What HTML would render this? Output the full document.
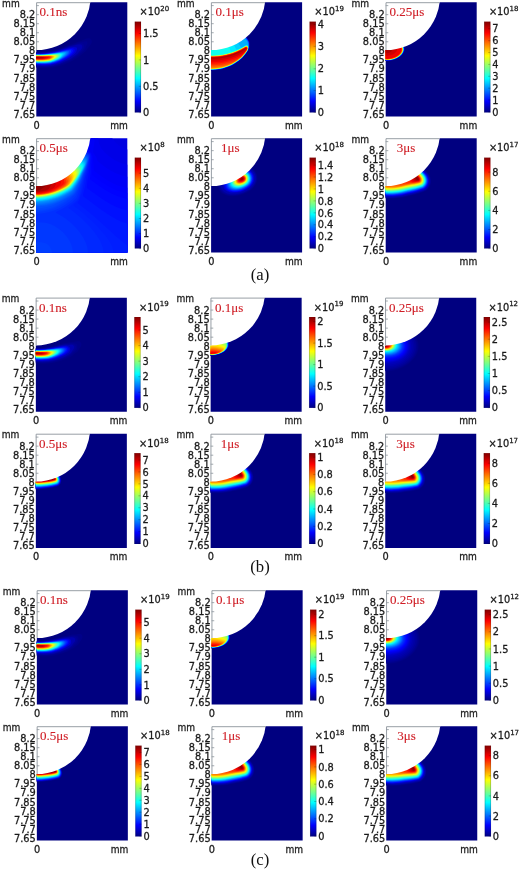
<!DOCTYPE html>
<html><head><meta charset="utf-8"><title>figure</title>
<style>html,body{margin:0;padding:0;background:#fff}svg{display:block}text{font-family:"DejaVu Sans","Liberation Sans",sans-serif;font-size:9.8px;fill:#1a1a1a;stroke:#1a1a1a;stroke-width:0.28px}text.t{font-family:"Liberation Serif",serif;font-size:12.3px;fill:#d01f27;stroke:#d01f27;stroke-width:0.12px}text.c{font-family:"Liberation Serif",serif;font-size:16.7px;fill:#111;stroke:none}</style></head><body>
<svg width="520" height="869" viewBox="0 0 520 869">
<defs>
<linearGradient id="cb" x1="0" y1="1" x2="0" y2="0"><stop offset="0.0000" stop-color="#000080"/><stop offset="0.0312" stop-color="#00009f"/><stop offset="0.0625" stop-color="#0000bf"/><stop offset="0.0938" stop-color="#0000df"/><stop offset="0.1250" stop-color="#0000ff"/><stop offset="0.1562" stop-color="#0020ff"/><stop offset="0.1875" stop-color="#0040ff"/><stop offset="0.2188" stop-color="#0060ff"/><stop offset="0.2500" stop-color="#0080ff"/><stop offset="0.2812" stop-color="#009fff"/><stop offset="0.3125" stop-color="#00bfff"/><stop offset="0.3438" stop-color="#00dfff"/><stop offset="0.3750" stop-color="#00ffff"/><stop offset="0.4062" stop-color="#20ffdf"/><stop offset="0.4375" stop-color="#40ffbf"/><stop offset="0.4688" stop-color="#60ff9f"/><stop offset="0.5000" stop-color="#80ff80"/><stop offset="0.5312" stop-color="#9fff60"/><stop offset="0.5625" stop-color="#bfff40"/><stop offset="0.5938" stop-color="#dfff20"/><stop offset="0.6250" stop-color="#ffff00"/><stop offset="0.6562" stop-color="#ffdf00"/><stop offset="0.6875" stop-color="#ffbf00"/><stop offset="0.7188" stop-color="#ff9f00"/><stop offset="0.7500" stop-color="#ff8000"/><stop offset="0.7812" stop-color="#ff6000"/><stop offset="0.8125" stop-color="#ff4000"/><stop offset="0.8438" stop-color="#ff2000"/><stop offset="0.8750" stop-color="#ff0000"/><stop offset="0.9062" stop-color="#df0000"/><stop offset="0.9375" stop-color="#bf0000"/><stop offset="0.9688" stop-color="#9f0000"/><stop offset="1.0000" stop-color="#800000"/></linearGradient>
<clipPath id="cp2"><rect x="-1" y="-1" width="92" height="115.4"/></clipPath>
<clipPath id="cp"><rect x="0" y="0.3" width="91" height="114.1"/></clipPath>
<g id="f00">
<rect x="-1" y="-1" width="93" height="116.4" fill="#000080"/>
<path fill="#000089" d="M55.2,38 55.4,38.8 55.5,39.8 55.3,40.8 54.7,42 53.6,43.8 51.5,46.2 50.4,48 49.3,49.2 47.2,51.1 42,55.2 38,57.7 34.5,59.6 28,62.4 25.2,63.4 21,64.6 16.5,65.6 12.2,66 8,66.2 4.5,66.1 0,65.8 -2,65.8 -2,50.1 3.2,50.1 8,49.8 14.2,48.8 18.5,47.8 22.7,46.5 28.3,44.5 31.8,43.1 36.3,41.8 41,39.9 44.5,38.9 48.8,37.1 51.2,36.3 52.8,36.2 53.8,36.4 54.5,37Z"/>
<path fill="#000091" d="M51,40 51.2,41 51.1,41.8 50.8,42.5 49.8,44.4 48.9,46.8 48.2,47.8 47.4,48.8 45.8,50.2 43.9,51.8 42.3,53.2 41,54.3 36.2,57.3 32.8,59.2 27.2,61.6 24.5,62.6 20.2,63.9 16.2,64.7 12.5,65.1 7.8,65.4 4.8,65.3 0,65 -2,65 -2,50.5 3.2,50.5 7.6,50.2 11.3,49.8 15.5,49 18.8,48.2 22.4,47.2 32.5,43.7 36.8,42.5 40,41.3 42.2,40.6 45.5,40.1 48,39.4 49.2,39.2 50.2,39.3 50.8,39.6Z"/>
<path fill="#00009a" d="M47.5,43 47.8,44 47.8,45 47.5,46 47,47 45.6,48.8 43.1,51 41.4,52.8 38.2,55.1 35,57.1 32.2,58.6 27.2,60.8 24,62.1 20.8,63.1 17.5,63.9 14.5,64.4 11,64.7 7.2,64.8 -2,64.4 -2,50.8 3.2,50.8 7.5,50.6 10.2,50.2 16.1,49.2 22.1,47.8 32.8,44.1 37.2,43.1 40.8,41.9 43,41.4 44.8,41.3 46,41.5 46.9,42Z"/>
<path fill="#0000af" d="M45.7,43.8 45.9,44.5 45.9,45.2 45.7,46 45.2,47 44,48.5 42.5,50 41.4,51.5 40.2,52.6 37.2,54.8 34,56.9 31.8,58.1 26.2,60.6 23.5,61.7 20.2,62.6 17,63.4 14.2,63.9 10.8,64.2 7,64.3 -2,63.9 -2,51 3.2,51.1 7.5,50.8 10.4,50.5 16.4,49.5 19.7,48.8 23.4,47.8 33,44.6 35.2,44 37.8,43.6 40.5,42.8 42,42.5 43.5,42.4 44.5,42.6 45.2,43Z"/>
<path fill="#0000cf" d="M40.6,46 40.7,46.5 40.4,48.8 40.1,49.5 39.1,51 37.6,52.5 35.5,54.1 32.5,56.1 26.8,59.1 24.2,60.2 21.8,61.1 19,61.9 15.8,62.6 13.5,63 10.2,63.2 6.8,63.4 -2,63 -2,51.5 3,51.5 6.8,51.4 10.6,51 15.6,50.2 19.3,49.5 22.4,48.8 33,45.6 35.5,45.2 37.2,45.1 39.5,45.3 40.2,45.6Z"/>
<path fill="#0000ef" d="M38.3,47.5 38.5,48 38.4,48.8 38.2,49.5 37.7,50.2 36.2,52 33.9,54 31.8,55.5 29.2,56.9 25.2,58.9 22.5,60.1 20,60.9 17.2,61.6 14.8,62.2 12.2,62.5 6.5,62.8 -2,62.4 -2,51.8 2.8,51.9 6.2,51.8 9.3,51.5 14.8,50.8 19,50 22.4,49.2 32.5,46.6 34.5,46.2 36,46.1 37.2,46.4 37.9,46.8Z"/>
<path fill="#0010ff" d="M36.4,48 36.6,48.5 36.5,49.2 35.9,50.5 34.9,51.8 32.8,53.8 30.5,55.3 26,57.8 24,58.8 22,59.6 19.8,60.4 17,61.2 14.8,61.7 12.2,62 6.5,62.3 -2,62 -2,52 2.8,52.1 6,52 9.4,51.8 13.3,51.2 19.4,50.2 23.8,49.3 29.2,47.9 33.5,47.1 34.5,47 35.5,47.2 36.1,47.5Z"/>
<path fill="#0030ff" d="M34.7,48.8 34.7,49.2 34.7,49.8 34.2,50.8 32.9,52.5 31.5,53.8 29.5,55.1 25.2,57.6 23,58.7 20.8,59.6 18.2,60.4 15.5,61.1 14,61.4 11.2,61.7 6,61.9 -2,61.6 -2,52.2 4.8,52.2 8.5,52 11.2,51.8 18.2,50.8 23.8,49.7 29,48.4 32.2,48 33.2,48 34,48.1 34.5,48.4Z"/>
<path fill="#0050ff" d="M32.9,49.5 33,50 32.9,50.5 32.3,51.8 31.5,52.8 30,54 28.2,55.2 24.2,57.6 22,58.7 19.5,59.6 17,60.3 14.8,60.9 10.2,61.4 5.5,61.6 -2,61.3 -2,52.3 4.5,52.4 8,52.3 10.7,52 18.1,51 24,49.9 27.5,49.2 30.2,48.8 31.2,48.8 32.2,48.9 32.8,49.2Z"/>
<path fill="#0070ff" d="M31.5,50.2 31.5,50.8 31.4,51.2 30.8,52.2 29.9,53.2 28.3,54.5 25.2,56.5 23.5,57.5 21.2,58.5 18.5,59.5 14.2,60.6 9.5,61.2 5.2,61.3 -2,61 -2,52.5 4.5,52.6 10,52.2 17.9,51.2 26.8,49.7 29,49.4 30,49.4 30.8,49.5 31.2,49.8Z"/>
<path fill="#008fff" d="M30.1,50.8 30.1,51.2 30,51.8 29.1,53 27.9,54 25.2,56 23.8,56.9 22,57.8 17.8,59.4 14,60.4 9,60.9 5,61 -2,60.7 -2,52.6 4,52.7 9,52.5 17.5,51.5 27.8,50 28.8,50 29.5,50.1 30,50.4Z"/>
<path fill="#00afff" d="M28.8,51.2 28.7,52 28,53 27,54 24.5,56 23,56.9 21.4,57.8 19.2,58.6 17,59.4 13.8,60.2 8.5,60.7 4.8,60.8 -2,60.5 -2,52.7 4,52.8 8.8,52.6 14.9,52 22.5,51 26.8,50.5 27.5,50.5 28.2,50.7 28.7,51Z"/>
<path fill="#00cfff" d="M27.4,51.8 27.3,52.5 26.7,53.2 25,55 23.8,56 22.2,56.9 20.6,57.8 18.5,58.6 16.2,59.3 13.5,59.9 8,60.5 4.5,60.5 -2,60.3 -2,52.8 3.8,53 8.2,52.8 16,52 22.2,51.2 26.2,51.1 27,51.2 27.4,51.5Z"/>
<path fill="#00efff" d="M26.1,52.2 25.9,53 25.1,54.2 24.1,55.2 23.1,56 21.4,57 19.5,57.9 17.5,58.6 15.5,59.3 14,59.6 12.2,59.9 7.2,60.3 4,60.3 -2,60.1 -2,53 3.5,53.1 8,52.9 23,51.4 24.5,51.5 25.5,51.7 26,52Z"/>
<path fill="#10ffef" d="M24.9,52.5 24.9,53.2 24.4,54.2 23.7,55 22.4,56 21,56.8 19,57.8 17,58.5 15,59.2 12,59.7 7.2,60.1 4,60.1 -2,59.9 -2,53.1 3.8,53.2 8,53.1 22.5,51.7 23.5,51.8 24.2,51.9 24.8,52.2Z"/>
<path fill="#30ffcf" d="M24.1,52.8 24.1,53.5 23.7,54.2 23,55 21.8,56 20.5,56.8 18.5,57.7 14.8,59 11.2,59.6 7,59.9 3.8,59.9 -2,59.7 -2,53.1 3.5,53.3 7.5,53.2 21.8,52 22.8,52.1 23.5,52.2 24,52.5Z"/>
<path fill="#50ffaf" d="M23.3,53 23.3,53.8 22.8,54.5 22.1,55.2 21.1,56 19.8,56.8 18,57.6 14.5,58.8 11.2,59.4 7,59.7 3.8,59.7 -2,59.5 -2,53.2 3.5,53.4 7.5,53.3 21,52.3 22.8,52.5 23.2,52.8Z"/>
<path fill="#70ff8f" d="M22.5,53.2 22.5,53.8 22.2,54.5 21.5,55.2 20.5,56 17.6,57.5 14.2,58.7 10.8,59.2 6.8,59.5 3.8,59.5 -2,59.3 -2,53.3 3.2,53.5 7,53.4 20,52.5 21.8,52.7 22.2,52.9Z"/>
<path fill="#8fff70" d="M21.8,53.5 21.7,54 21.3,54.8 19.8,56 17.2,57.4 14,58.5 10.5,59 6.8,59.3 3.8,59.3 -2,59.1 -2,53.4 3.2,53.6 7,53.5 15.2,52.9 19.2,52.8 20.5,52.8 21.2,53 21.6,53.2Z"/>
<path fill="#afff50" d="M21,53.8 20.9,54.2 20.4,55 18.8,56.2 16.3,57.5 13.8,58.4 10.2,58.9 6.8,59.2 3.8,59.2 -2,58.9 -2,53.5 3.2,53.7 6.8,53.6 13.5,53.2 18.2,53 20.2,53.2 20.8,53.4Z"/>
<path fill="#cfff30" d="M20.2,54 20.1,54.5 19.7,55 18.2,56.2 16,57.4 13.5,58.2 10,58.7 6.5,59 3.5,59 -2,58.8 -2,53.6 5.8,53.8 9.2,53.6 13.5,53.3 17.5,53.2 19.5,53.4 20,53.6Z"/>
<path fill="#efff10" d="M19.4,54 19.4,54.5 19.1,55 18,56 15.8,57.2 13.5,58 10,58.5 6.5,58.8 3.5,58.8 -2,58.6 -2,53.7 5.5,53.9 9.2,53.7 13.2,53.4 16.5,53.4 18.4,53.5 19.1,53.8Z"/>
<path fill="#ffef00" d="M18.6,54.2 18.6,54.8 18.2,55.2 17,56.2 15,57.2 13.2,57.8 10,58.3 6.5,58.6 3.5,58.6 -2,58.4 -2,53.8 5.5,53.9 9,53.8 13.2,53.5 15.8,53.5 18,53.8 18.5,54Z"/>
<path fill="#ffcf00" d="M17.9,54.5 17.6,55.2 16.4,56.2 14.4,57.2 12.8,57.7 9.5,58.2 6.5,58.4 3.5,58.4 -2,58.3 -2,53.9 5.2,54 9,54 13,53.7 15.2,53.7 17.2,53.9 17.8,54.2Z"/>
<path fill="#ffaf00" d="M-2,58.1 -2,54 5.2,54.1 14.2,53.8 16.3,54 16.9,54.2 17.1,54.5 17.2,54.8 16.9,55.2 15.8,56.2 14,57.1 12.5,57.5 9.2,58 6.5,58.2 3.5,58.3Z"/>
<path fill="#ff8f00" d="M16.4,54.8 16.4,55 16.1,55.5 14.7,56.5 13.5,57 11.2,57.5 8.5,57.9 6,58.1 -2,57.9 -2,54 5,54.2 13.8,54 15.9,54.2 16.3,54.5Z"/>
<path fill="#ff7000" d="M-2,57.7 -2,54.1 5,54.4 13.2,54.1 14.8,54.3 15.4,54.5 15.7,54.8 15.7,55 15.5,55.5 14.9,56 14.1,56.5 13,56.9 11,57.3 8.2,57.7 6,57.9Z"/>
<path fill="#ff5000" d="M-2,57.5 -2,54.2 4.8,54.5 13,54.3 14.4,54.5 14.9,54.8 15,55 14.9,55.2 14.6,55.8 13.5,56.4 12.5,56.8 9.5,57.3 5.5,57.7Z"/>
<path fill="#ff3000" d="M-2,57.3 -2,54.3 4.5,54.6 13,54.5 14,54.8 14.2,55 14.2,55.2 13.9,55.8 13.1,56.2 11.1,56.8 8.2,57.2 6.5,57.4 4.5,57.5Z"/>
<path fill="#ff1000" d="M-2,57.1 -2,54.5 4,54.7 12.3,54.8 13.2,54.9 13.5,55.2 13.4,55.5 13.1,55.8 11.7,56.2 9.6,56.8 7,57.1 3.8,57.3Z"/>
<path fill="#ef0000" d="M-2,56.9 -2,54.6 10.3,55 11.8,55.2 11.9,55.5 11.5,55.8 10.1,56.2 6.5,56.9 3.2,57Z"/>
<path fill="#cf0000" d="M-2,56.7 -2,54.7 6.8,55.1 8.8,55.2 9.7,55.5 9.6,55.8 9.1,56 7.2,56.5 6.2,56.6 3,56.8Z"/>
<path fill="#af0000" d="M-2,54.9 6,55.3 7.2,55.5 7.5,55.8 7.1,56 6.5,56.2 5.2,56.3 2.2,56.4 -2,56.4Z"/>
<path fill="#8f0000" d="M-2,55.2 0.4,55.2 2.2,55.5 3,55.8 1,56 -2,55.9Z"/>
</g>
<g id="f01">
<rect x="-1" y="-1" width="93" height="116.4" fill="#000080"/>
<path fill="#000089" d="M4.9,-2 5,-1.7 36.1,35.5 37.4,37.5 38.5,39.8 38.7,40.8 38.9,43.5 38.1,46.5 37.1,49 35.6,51.2 32.6,55 31,56.7 29,58.4 26,60.6 22.5,62.9 20.8,63.8 17.8,65.1 14.2,66.4 11,67.4 8,67.9 3.8,68.4 0.2,68.6 -2,68.6 -2,-2Z"/>
<path fill="#000091" d="M4.7,-2 5,-1.5 36.4,36.2 37.6,38.2 38.4,40 38.6,41.8 38.7,43.8 37.9,46.8 36.8,49.2 34.9,52 32.6,54.8 31,56.5 28.8,58.4 26,60.4 22.2,62.9 20.8,63.7 17.2,65.1 14.5,66.1 11.2,67.1 8.5,67.6 4.5,68.1 0.8,68.4 -2,68.4 -2,-2Z"/>
<path fill="#00009a" d="M4.6,-2 4.8,-1.6 36.1,36 37.3,38 38.2,39.8 38.4,41 38.6,43.5 37.8,46.5 36.8,49 35.1,51.5 33.1,54 31.4,56 30.2,57.1 26.2,60.1 22.8,62.4 21,63.4 18.2,64.6 14.2,66.1 10.8,67.1 7.8,67.6 3.8,68.1 0.2,68.3 -2,68.3 -2,-2Z"/>
<path fill="#0000af" d="M-2,-2 4.5,-2 4.7,-1.5 35.9,36 36.9,37.5 37.9,39.5 38.3,40.8 38.5,42.5 38.4,44 37.7,46.8 36.9,48.8 36.1,50 33.6,53.2 31,56.3 28.8,58.2 25.8,60.4 23,62.2 20.8,63.5 16.8,65.1 13,66.4 11.2,66.9 8.8,67.4 5,67.9 1.2,68.2 -2,68.2Z"/>
<path fill="#0000cf" d="M4.2,-2 4.4,-1.5 36.2,36.8 37.1,38.2 37.9,40 38.1,41.2 38.2,43.5 37.6,46.2 36.7,48.8 35.2,51 32.4,54.5 30.8,56.3 28.8,57.9 25.8,60.1 22.2,62.4 20.5,63.4 17.5,64.6 14,65.9 10.8,66.9 7.5,67.4 3.5,67.8 0.2,68 -2,68 -2,-2Z"/>
<path fill="#0000ef" d="M4.1,-2 4.2,-1.5 35.9,36.8 37,38.5 37.8,40.2 38,42 38.1,43.5 37.4,46.8 36.4,49 34.6,51.5 32.6,54 30.8,56.1 29.2,57.4 26.2,59.6 22.5,62.1 20.8,63.1 17.8,64.4 14.2,65.7 11,66.7 8.2,67.2 4.2,67.6 0.8,67.9 -2,67.9 -2,-2Z"/>
<path fill="#0010ff" d="M3.9,-2 4.1,-1.5 35.9,37 36.9,38.5 37.6,40 37.8,41.2 37.9,43.5 37.3,46.5 36.6,48.5 35.6,50 32.9,53.5 31,55.8 29.8,56.9 25.8,59.9 22.2,62.1 20.5,63.1 17.5,64.4 14,65.6 10.8,66.6 7.8,67.1 3.8,67.6 0.2,67.8 -2,67.8 -2,-2Z"/>
<path fill="#0030ff" d="M3.8,-2 3.9,-1.5 35.8,37.1 36.8,38.5 37.5,40.1 37.7,41.2 37.8,43.2 37.4,46 36.6,48.2 35.4,50.2 32.8,53.5 30.9,55.8 29.5,57 26,59.6 22.5,61.9 20.8,62.9 17.2,64.4 13.8,65.6 10.5,66.6 4.5,67.4 0.8,67.7 -2,67.7 -2,-2Z"/>
<path fill="#0050ff" d="M3.7,-2 3.8,-1.5 35.8,37.3 36.8,38.8 37.3,40 37.5,41 37.7,43.2 37.3,46 36.6,48 35.6,49.8 33.4,52.8 31.2,55.2 30,56.5 26.5,59.1 22.8,61.7 20.8,62.8 18.2,63.9 14.2,65.4 11,66.4 8.2,66.9 4.2,67.4 0.5,67.6 -2,67.6 -2,-2Z"/>
<path fill="#0070ff" d="M3.5,-2 3.6,-1.5 4.2,-0.8 35.8,37.6 36.8,39.2 37.2,40.3 37.5,42.2 37.5,43.4 37.2,46.2 36.3,48.5 35.4,50 32.9,53.2 30.9,55.5 29.8,56.6 26,59.4 22.2,61.9 20.5,62.9 17.5,64.1 14,65.4 10.8,66.4 7.8,66.9 4,67.3 0.5,67.6 -2,67.6 -2,-2Z"/>
<path fill="#008fff" d="M3.3,-2 3.6,-1.2 36,38.4 36.8,39.6 37.1,40.8 37.3,42.8 37.3,45.2 37.1,46.2 36.8,47.2 35.8,49.2 33.4,52.5 30.8,55.5 29.2,56.9 26.8,58.8 23.8,60.9 21.2,62.4 19.2,63.4 16,64.6 13,65.7 10.5,66.4 7.2,66.9 3.5,67.3 0.5,67.5 -2,67.5 -2,-2Z"/>
<path fill="#00afff" d="M3.1,-2 3.2,-1.5 3.7,-0.8 8.4,5.2 35.8,39 36.5,40.3 37.1,44 37.2,45.5 36.8,47 35.9,49 33.3,52.5 30.8,55.5 29.5,56.6 26.5,58.9 24,60.6 21.2,62.3 19,63.4 16,64.6 13,65.6 10.5,66.3 7.2,66.8 4.2,67.2 0.8,67.4 -2,67.4 -2,-2Z"/>
<path fill="#00cfff" d="M-2,-2 2.7,-2 3,-1 29.5,45 29.8,45.2 30.5,45.2 31.8,44.8 34.5,43.3 35.2,43.1 35.8,43.1 36.2,43.2 36.8,43.6 37,44.1 37.1,45 36.9,46.8 36.4,48 35.9,49 33.7,52 31.1,55 30,56.1 27.5,58.1 24.8,60.1 22,61.8 20.5,62.7 17.8,63.8 14.2,65.1 11,66.1 6.2,66.9 0.5,67.4 -2,67.4Z"/>
<path fill="#00efff" d="M-2,-2 2.1,-2 2.4,-1 24.8,46.8 25.1,47.5 25.5,47.6 26.3,47.5 28.5,46.8 31.1,45.5 34,43.9 35.2,43.4 36,43.4 36.5,43.7 36.9,44.2 37,45 37,45.8 36.8,46.8 36,48.8 33.6,52 31.1,55 30,56.1 27.8,57.9 25,59.8 22.2,61.6 20.5,62.6 17.5,63.9 14.2,65.1 11,66.1 6,66.9 0.2,67.3 -2,67.3Z"/>
<path fill="#10ffef" d="M-2,-2 1.4,-2 1.6,-1 5,8.2 19.6,49.5 20.2,49.7 21.6,49.5 25.6,48.2 29.6,46.5 34.2,43.9 35,43.6 35.8,43.6 36.5,43.9 36.9,44.5 37,45.2 36.9,46 36.7,47 35.9,48.8 33.5,52 30.8,55.2 29.7,56.2 27,58.4 24.5,60.1 21.8,61.8 20.2,62.7 17.5,63.8 14,65.1 11,66 6,66.8 0.2,67.3 -2,67.3Z"/>
<path fill="#30ffcf" d="M36.7,44.5 36.9,45.2 36.8,46.2 36.6,47.2 36,48.5 34.1,51.2 31.4,54.5 30,55.9 27.5,57.9 24.5,60 21.2,62.1 19.8,62.8 16.2,64.2 13.2,65.3 10.5,66.1 7.5,66.6 3.8,67 0.5,67.2 -2,67.2 -2,53.2 3.3,53.2 7.2,53 11,52.5 14.8,51.8 20.6,50.2 24.9,48.8 29.4,46.8 34.8,43.8 35.5,43.7 36,43.8 36.5,44.1Z"/>
<path fill="#50ffaf" d="M36.6,44.5 36.8,45.2 36.8,46.2 36.5,47.2 36,48.4 34.2,50.9 31.5,54.3 30,55.9 27.6,57.8 24.5,60 21.2,62 19.8,62.8 16,64.2 13.1,65.2 10.5,66 7.5,66.5 4,66.9 0.5,67.1 -2,67.1 -2,53.5 3.5,53.5 7.4,53.2 11.1,52.8 14.9,52 20.5,50.5 25.3,48.8 29.7,46.8 34.8,44 35.2,43.9 35.8,43.9 36.2,44.1Z"/>
<path fill="#70ff8f" d="M36.5,44.5 36.8,45.2 36.8,46 36.5,47 36,48.2 34.3,50.8 31.5,54.2 30,55.8 27.5,57.8 24.4,60 21.2,62 19.1,63 15.9,64.2 12.9,65.2 10.5,65.9 7.1,66.5 4.2,66.8 0.8,67.1 -2,67.1 -2,53.7 2.5,53.7 6.5,53.5 10.7,53 15.7,52 21,50.5 25.7,48.8 30,46.8 34.8,44.1 35.2,44 35.8,44 36.2,44.2Z"/>
<path fill="#8fff70" d="M36.5,44.7 36.7,45.5 36.7,46.2 36.4,47.2 35.8,48.5 33.8,51.4 31,54.7 29.7,56 26.8,58.2 24.2,60 21.1,62 18.9,63 15.7,64.2 10.5,65.9 8.2,66.3 4.2,66.8 0.8,67 -2,67 -2,53.8 3,53.8 7.2,53.6 11.5,53 15.2,52.2 20.6,50.8 25.4,49 29.7,47 34.8,44.2 35.2,44.1 35.8,44.1 36.2,44.4Z"/>
<path fill="#afff50" d="M36.4,44.8 36.7,45.5 36.6,46.2 36.4,47.2 35.8,48.5 34,51 31.2,54.3 29.9,55.8 27.7,57.5 24.5,59.8 21.4,61.8 19.9,62.5 16.9,63.8 14.1,64.8 10.8,65.8 7.9,66.2 3.6,66.8 0.2,67 -2,66.9 -2,53.9 2.5,54 6.5,53.8 10.7,53.2 15.7,52.2 20.9,50.8 25.6,49 29.9,47 34.8,44.3 35.2,44.2 35.8,44.2Z"/>
<path fill="#cfff30" d="M36.4,45 36.6,45.8 36.5,46.5 36.2,47.4 35.8,48.5 33.8,51.3 30.8,54.8 29.5,56 26.9,58 24.1,60 21.2,61.8 19.8,62.5 16,64 13.1,65 10.5,65.8 7.4,66.2 3.5,66.7 0.5,66.9 -2,66.9 -2,54 3,54.1 7,53.8 11.3,53.2 15.1,52.5 20.5,51 25.2,49.3 29.6,47.2 34.8,44.4 35.2,44.3 35.8,44.3 36.2,44.7Z"/>
<path fill="#efff10" d="M36.3,45 36.5,45.5 36.5,46.4 36.3,47.2 35.8,48.4 33.5,51.5 30.8,54.7 29.4,56 26.5,58.2 23.9,60 21.1,61.8 19,62.8 15.8,64 12,65.2 10.1,65.8 4.5,66.5 1,66.8 -2,66.8 -2,54.1 2.8,54.2 7,53.9 11.5,53.3 15.5,52.5 20.8,51 25.5,49.2 29.8,47.3 34.8,44.5 35.2,44.4 35.8,44.5Z"/>
<path fill="#ffef00" d="M36.2,45 36.4,45.5 36.5,46.2 36.2,47.1 35.8,48.3 33.8,51.1 30.8,54.7 29.6,55.8 26.7,58 23.8,60 21,61.8 19.4,62.5 16.3,63.8 10.8,65.5 8,66 3.8,66.5 0.2,66.7 -2,66.7 -2,54.2 2.8,54.2 7,54 11,53.5 15.8,52.5 21,51 25.5,49.3 29.8,47.3 34.8,44.6 35.5,44.5 36,44.7Z"/>
<path fill="#ffcf00" d="M36.2,45.2 36.4,46 36.3,46.8 35.5,48.6 33,51.9 30.5,54.8 29.2,56 26.3,58.2 23.3,60.2 20.8,61.8 19.2,62.5 16,63.8 13.1,64.8 10.4,65.5 5.3,66.2 1.5,66.5 -2,66.6 -2,54.3 3,54.3 7,54.1 11.2,53.5 15.2,52.8 20.5,51.3 25.2,49.5 29.5,47.6 34.8,44.6 35.5,44.6 36,44.9Z"/>
<path fill="#ffaf00" d="M36.1,45.2 36.3,46 36.3,46.8 35.5,48.5 33.2,51.5 30.5,54.7 29.4,55.8 26.5,58 23.5,60 21.1,61.5 19.5,62.2 16.4,63.5 11,65.2 8.2,65.8 4,66.2 0.2,66.5 -2,66.5 -2,54.4 3,54.4 7,54.2 11.2,53.6 15.5,52.8 20.5,51.4 25.2,49.6 29.5,47.7 34.8,44.7 35.5,44.7 36,45Z"/>
<path fill="#ff8f00" d="M36,45.2 36.2,45.8 36.3,46.5 36,47.4 35.5,48.4 33,51.8 30.5,54.6 29,56 26,58.2 23.7,59.8 20.8,61.5 19.2,62.2 16,63.5 13,64.5 10.2,65.2 4.6,66 1,66.2 -2,66.3 -2,54.5 2.8,54.5 7,54.3 11.5,53.7 15.8,52.8 20.8,51.4 25.5,49.6 29.8,47.6 34.8,44.8 35.5,44.8Z"/>
<path fill="#ff7000" d="M36,45.4 36.2,46 36.2,46.5 36,47.2 35.5,48.3 33.5,51 30.2,54.8 28.5,56.2 25.8,58.2 23.5,59.8 20.5,61.5 16.1,63.2 11,64.8 5.7,65.5 1.9,65.8 -2,65.8 -2,54.6 3,54.6 7.2,54.3 11.2,53.8 16,52.9 21,51.4 25.8,49.6 30,47.6 34.8,44.9 35.5,44.9Z"/>
<path fill="#ff5000" d="M36,45.6 36.1,46.2 36,47 35.2,48.5 33,51.5 30.2,54.6 29,55.8 26.3,57.8 23.6,59.5 20.9,61 19.1,61.8 16.8,62.5 14,63.2 11,63.7 7.8,64.1 4.5,64.4 -2,64.5 -2,54.7 3,54.7 7.2,54.4 11.5,53.9 15.5,53.1 20.8,51.6 25.2,49.9 29.8,47.8 34.8,45 35.2,45 35.5,45.1Z"/>
<path fill="#ff3000" d="M35.9,45.8 36,46.2 36,46.8 35.2,48.4 33.2,51 30.5,54.2 29,55.5 27,57 25,58.2 23.1,59.2 21.2,60 17.8,61 14.4,61.8 11,62.4 8,62.8 4.8,63 1.5,63.2 -2,63.2 -2,54.8 2.8,54.8 7,54.6 11,54.1 15.8,53.1 21,51.6 25.5,49.9 29.8,47.9 34.8,45.1 35.2,45.1 35.5,45.2Z"/>
<path fill="#ff1000" d="M35.8,45.8 35.9,46.2 35.9,46.8 35.2,48.2 33.8,50.2 32.2,52 29.5,54.8 27.6,56 26,56.8 22.8,58 19.2,59.1 15.8,60 12.2,60.7 8.8,61.3 5.2,61.6 2,61.7 -2,61.7 -2,54.9 3.2,54.9 7.5,54.6 11.5,54.1 16.2,53.1 21.2,51.7 26,49.8 30,47.9 34.8,45.3 35.3,45.2Z"/>
<path fill="#ef0000" d="M35.7,46 35.8,46.8 35.5,47.5 35,48.3 33.2,50.5 31.2,52.6 30.2,53.3 29.2,53.8 24.2,56 21.2,57 18,58 14.8,58.8 11.5,59.4 8.2,59.8 5,60.1 1.8,60.2 -2,60.2 -2,55.1 2.8,55.1 6.8,54.9 11,54.3 15.8,53.4 21,51.9 25.8,50.1 30,48.1 34.5,45.5 35,45.4 35.2,45.4Z"/>
<path fill="#cf0000" d="M35.5,46.1 35.6,46.5 35.5,47 35,47.9 33.8,49.4 32.5,50.4 30.2,51.7 27.4,53 24.5,54.2 21.7,55.2 16,56.9 10.1,58 4.2,58.6 -2,58.6 -2,55.2 3.8,55.2 8,54.9 12,54.3 16.5,53.4 20.8,52.2 25.5,50.4 30.2,48.2 34.5,45.7 35,45.6 35.2,45.7Z"/>
<path fill="#af0000" d="M35.1,46.2 35.1,46.5 35,46.9 34.5,47.3 31.7,49 28.8,50.5 23.6,52.8 18.3,54.5 13,55.7 8.2,56.5 3.5,56.8 -2,56.8 -2,55.5 3,55.6 8.8,55.2 13.5,54.4 18.8,53.1 22.5,51.9 25.8,50.6 30,48.6 34.8,46Z"/>
</g>
<g id="f02">
<rect x="-1" y="-1" width="93" height="116.4" fill="#000080"/>
<path fill="#000089" d="M-2,-2 2.7,-2 3,-0.8 8.2,14.5 18.9,44.8 19.2,45.8 19.3,46.8 19.1,48.8 18.7,50 18.2,51 16.7,53 15.5,54.2 14.2,55.2 11.8,56.6 8.8,57.9 5.5,58.7 1.8,59.1 -2,59.1Z"/>
<path fill="#000091" d="M-2,-2 2.6,-2 2.8,-1.1 8,14.2 18.6,44.5 19.1,46.5 19.1,47.5 18.9,48.8 18.1,50.8 16.7,52.8 14.8,54.6 13.2,55.6 12,56.3 9,57.6 6,58.4 2.5,58.9 -2,59Z"/>
<path fill="#00009a" d="M-2,-2 2.5,-2 2.8,-0.9 8.5,16 18.4,44.2 18.8,45.8 18.9,46.5 18.9,47.8 18.7,49 17.8,51 17.2,52 16.3,53 14.2,54.8 11.8,56.3 10,57.1 8.5,57.7 5.5,58.4 1.8,58.8 -2,58.9Z"/>
<path fill="#0000af" d="M-2,-2 2.4,-2 2.5,-1.4 6.2,9.7 18.4,44.5 18.8,46.5 18.8,47.5 18.6,48.8 17.8,50.8 16.4,52.8 15.2,53.9 14.2,54.7 12,56.1 9,57.4 6.2,58.2 2.8,58.7 -2,58.7Z"/>
<path fill="#0000cf" d="M-2,-2 2.2,-2 2.5,-0.9 6.5,11 18.4,45.5 18.6,46.8 18.6,47.8 18.4,48.8 17.9,50 17.4,51 15.9,53 14,54.6 11.5,56.1 8.5,57.4 5.5,58.1 1.8,58.6 -2,58.6Z"/>
<path fill="#0000ef" d="M-2,-2 2.1,-2 2.5,-0.5 6.8,12.1 17.9,44.5 18.4,46.5 18.4,47.8 18.2,48.8 17.9,49.8 17.4,50.8 15.9,52.8 14,54.4 11.8,55.9 8.8,57.1 6,57.9 2.5,58.4 -2,58.5Z"/>
<path fill="#0010ff" d="M-2,-2 2,-2 2.2,-1.1 6.5,11.6 17.8,44.8 18.1,45.8 18.3,46.8 18.2,47.8 18.1,48.8 17.6,50 17.1,51 16.4,52 15.5,53 13.5,54.7 11,56.1 8.5,57.1 5.5,57.9 2,58.3 -2,58.4Z"/>
<path fill="#0030ff" d="M-2,-2 2,-2 2.2,-0.8 6.2,11.1 17.6,44.5 18.1,46.5 18.1,47.8 17.9,48.8 17.6,49.8 17.1,50.8 16.4,51.8 15.6,52.8 13.8,54.4 11.8,55.6 9,56.9 6.2,57.7 2.8,58.2 -2,58.3Z"/>
<path fill="#0050ff" d="M-2,-2 1.9,-2 2.2,-0.7 17.6,44.8 17.9,45.8 18,46.8 18,47.8 17.8,48.8 17.4,50 16.8,51 15.5,52.8 13.5,54.5 11.2,55.8 8.8,56.9 6,57.6 2.5,58.1 -2,58.2Z"/>
<path fill="#0070ff" d="M-2,-2 1.9,-2 2,-1.2 17.6,45 17.9,46.8 17.9,47.8 17.7,48.8 17.4,49.8 16.9,50.8 16.2,51.8 15.4,52.8 13.5,54.4 11,55.9 8.5,56.9 5.8,57.6 2.2,58.1 -2,58.2Z"/>
<path fill="#008fff" d="M-2,-2 1.8,-2 2,-1.1 17.4,44.8 17.7,45.8 17.8,46.8 17.8,47.8 17.6,48.8 17.3,49.8 16.8,50.8 16.1,51.8 15.3,52.8 13.2,54.5 10.8,55.9 8.2,56.9 5.2,57.7 2,58.1 -2,58.1Z"/>
<path fill="#00afff" d="M-2,-2 1.8,-2 2,-0.9 17.4,45 17.7,46.8 17.7,47.8 17.5,48.8 17.2,49.8 16.7,50.8 15.4,52.5 13.5,54.2 11.2,55.6 8.2,56.8 5.2,57.6 2.5,58 -2,58Z"/>
<path fill="#00cfff" d="M-2,-2 1.7,-2 2,-0.8 17.2,44.8 17.6,46.8 17.6,47.8 17.4,48.8 17.1,49.8 16.6,50.8 15.2,52.6 13.2,54.3 11,55.7 8,56.9 5,57.6 2.2,57.9 -2,58Z"/>
<path fill="#00efff" d="M-2,-2 1.7,-2 1.8,-1.5 17.1,44.8 17.6,46.8 17.5,47.8 17.4,48.8 17,49.8 16.5,50.8 15.2,52.5 13.2,54.2 11,55.6 8.5,56.6 5.8,57.4 2.2,57.9 -2,57.9Z"/>
<path fill="#10ffef" d="M-2,-2 1.6,-2 2,-0.5 17.1,45 17.5,46.8 17.5,47.8 17.3,48.8 16.9,49.8 16.4,50.8 15.1,52.5 13.2,54.1 11,55.5 8.2,56.7 5.5,57.4 2.2,57.8 -2,57.9Z"/>
<path fill="#30ffcf" d="M-2,-2 1.6,-2 2,-0.5 16.9,44.8 17.4,46.8 17.4,47.8 17.2,48.8 16.9,49.8 16.4,50.8 15,52.5 13,54.2 10.8,55.6 8,56.7 5.2,57.4 2,57.8 -2,57.8Z"/>
<path fill="#50ffaf" d="M-2,-2 1.5,-2 1.9,-0.5 16.9,45 17.3,46.8 17.3,47.8 17.1,48.8 16.8,49.8 16.3,50.8 14.9,52.5 13,54.2 10.8,55.5 8,56.6 5.2,57.3 2,57.7 -2,57.8Z"/>
<path fill="#70ff8f" d="M-2,-2 1.5,-2 2,-0.2 16.8,45 17.2,46.8 17.2,47.8 17,48.8 16.2,50.6 14.9,52.5 13,54.1 10.7,55.5 8,56.6 5.2,57.3 2,57.7 -2,57.7Z"/>
<path fill="#8fff70" d="M-2,-2 1.5,-2 1.7,-1 16.7,45 17.1,46.8 17,48.5 16.7,49.5 16.2,50.5 15,52.2 13.1,54 10.6,55.5 8.1,56.5 5.2,57.2 2.2,57.6 -2,57.7Z"/>
<path fill="#afff50" d="M-2,-2 1.4,-2 1.6,-1 16.6,44.8 17,46.8 17,47.8 16.9,48.8 16.2,50.5 14.9,52.2 13,54 10.4,55.5 7.9,56.5 5,57.2 2.2,57.6 -2,57.6Z"/>
<path fill="#cfff30" d="M-2,-2 1.4,-2 1.7,-0.8 16.5,44.8 16.9,46.8 16.9,47.8 16.8,48.8 16.1,50.5 14.8,52.3 12.8,54 10.3,55.5 7.8,56.5 4.8,57.2 2.2,57.5 -2,57.6Z"/>
<path fill="#efff10" d="M-2,-2 1.3,-2 1.6,-0.8 16.5,45.1 16.9,46.8 16.7,48.5 16.5,49.5 16,50.5 14.7,52.2 12.7,54 10.2,55.5 7.6,56.5 4.8,57.2 2,57.5 -2,57.5Z"/>
<path fill="#ffef00" d="M-2,-2 1.3,-2 1.7,-0.5 16.6,46 16.8,47 16.7,48 16.5,49 15.8,50.8 15.1,51.8 14.2,52.6 12.3,54.2 10,55.5 7.4,56.5 4.8,57.1 1.8,57.5 -2,57.5Z"/>
<path fill="#ffcf00" d="M-2,-2 1.3,-2 1.6,-0.5 16.5,46 16.7,47 16.5,48.8 15.8,50.6 14.5,52.3 12.5,54 10.4,55.2 8,56.2 5.1,57 2,57.4 -2,57.4Z"/>
<path fill="#ffaf00" d="M-2,-2 1.2,-2 1.4,-1 16,44.5 16.6,46.8 16.5,48.5 16.2,49.3 15.8,50.4 14.5,52.2 12.7,53.8 10.3,55.2 7.8,56.2 4.8,57 2.5,57.3 -2,57.4Z"/>
<path fill="#ff8f00" d="M-2,-2 1.1,-2 1.3,-1 16.3,46 16.5,47 16.4,48 16.2,48.9 15.5,50.7 14.8,51.7 14.1,52.5 12.3,54 10.1,55.2 7.6,56.2 4.4,57 2.2,57.2 -2,57.3Z"/>
<path fill="#ff7000" d="M-2,-2 1.1,-2 1.4,-0.8 16,45.2 16.4,47 16.2,48.8 15.8,50 15.3,50.8 13.9,52.5 12.1,54 9.9,55.2 7.3,56.2 3.9,57 1.5,57.2 -2,57.2Z"/>
<path fill="#ff5000" d="M-2,-2 1,-2 1.4,-0.5 15.8,44.8 16.2,47 16.2,48 16,49 15.2,50.7 14,52.2 12.3,53.8 10.2,55 7.8,56 4.9,56.8 2.8,57 -2,57.1Z"/>
<path fill="#ff3000" d="M-2,-2 1,-2 1.4,-0.2 15.5,44.5 16,46.2 16.1,47 16,48.5 15.8,49.3 15.2,50.4 14,52.1 12.1,53.8 10,55 7.5,56 4.3,56.8 2.1,57 -2,57Z"/>
<path fill="#ff1000" d="M-2,-2 0.9,-2 1.6,0.8 15.5,45.2 15.8,46.8 15.8,48.5 15.2,50 14.2,51.5 12.5,53.2 10.6,54.5 8.4,55.5 6,56.2 3.2,56.8 0.8,56.9 -2,56.9Z"/>
<path fill="#ef0000" d="M-2,-2 0.8,-2 0.9,-1.2 13.8,40.5 15.2,45.4 15.5,46.8 15.5,48.3 15,49.8 14,51.4 12.4,53 10.5,54.2 8.4,55.2 6,56 3.3,56.5 0.8,56.7 -2,56.6Z"/>
<path fill="#cf0000" d="M-2,-2 0.6,-2 0.8,-0.8 2.2,4.6 3.5,9.8 11.3,47.2 11.2,48.5 10.7,49.5 9.8,50.5 8.5,51.6 7,52.4 5,53.1 3,53.6 1,53.8 -2,53.8Z"/>
<path fill="#af0000" d="M-2,-2 0.4,-2 1.3,4.2 6.4,47.5 6.4,48.2 6.2,48.8 5.7,49.5 5,50 4.1,50.5 3,50.9 1.8,51.2 0.5,51.3 -2,51.3Z"/>
<path fill="#8f0000" d="M-2,-2 -0.5,-2 0,8.7 1,47.8 0.8,48.1 0.2,48.4 -0.2,48.5 -2,48.4Z"/>
</g>
<g id="f10">
<rect x="-1" y="-1" width="93" height="116.4" fill="#0000e1"/>
<path fill="#0000e7" d="M-2,-2 75,-2 75.2,-1.2 75.9,0 77.8,2.8 80,5.2 82.4,7.2 85,8.9 87.7,10.2 90.5,11.2 93,11.6 93,116.2 -2,116.2Z"/>
<path fill="#0000ef" d="M-2,-2 61.6,-2 62,1.2 62.5,4.5 63,6.1 63.9,8.2 64.8,10 65.5,11.1 67.4,13.2 69.8,15.5 72.5,17.9 75.3,20 78.2,21.9 81.2,23.5 84.2,24.8 87.2,25.8 90.2,26.5 93,26.8 93,116.2 -2,116.2Z"/>
<path fill="#0000f7" d="M-2,-2 58.6,-2 58.2,3 57,11.3 56.8,14 56.9,14.5 57.1,15 58.5,16.8 60,19.2 60.5,20.5 61,22.5 61.2,22.9 64.8,26 69.2,29.3 73.3,32 77.5,34.3 81.5,36.1 85.5,37.5 89.5,38.5 93,38.9 93,116.2 -2,116.2Z"/>
<path fill="#0000fd" d="M-2,-2 26.3,-2 26.4,-1.5 26.8,-0.5 28.7,2.8 29.3,3.5 30.3,4.2 34,6 52,12.9 53.5,13.6 54.5,14.3 55.1,15 55.6,16 56.2,17.8 56.6,20.2 56.8,22.9 57.4,27 57.6,31.5 57.7,32.5 58,33 59.2,34 64,37.6 68.8,40.8 73.2,43.5 77.5,45.7 81.5,47.4 85.5,48.7 89.5,49.6 93,50 93,116.2 -2,116.2Z"/>
<path fill="#0002ff" d="M-2,-2 14.3,-2 15,-1.5 17.2,-0.5 26.1,3.2 33.5,6.2 50.8,12.9 53.8,14.2 54.4,14.8 54.9,15.5 55.4,16.8 55.7,18.2 55.9,25.8 56.2,30.5 56.2,32.5 55.9,36.2 56,37 56.2,37.3 61.5,41.2 66.8,44.9 71.8,47.9 76.5,50.4 81,52.4 85.2,53.8 89.2,54.8 93,55.2 93,116.2 -2,116.2Z"/>
<path fill="#0008ff" d="M-2,-2 12.7,-2 13,-1.8 21.5,1.8 33.4,6.5 51,13.3 53.6,14.5 54.2,15.1 54.7,16 55,17.5 55.2,19 55,21.5 55.1,24.8 54.8,28.2 54.9,33 54.6,35.8 53.8,40.2 53.8,41 54,41.5 59.5,45.6 65.5,49.7 70.8,53 75.8,55.7 80.5,57.8 84.8,59.3 89,60.4 91.2,60.7 93,60.9 93,116.2 -2,116.2Z"/>
<path fill="#0010ff" d="M-2,-2 12,-2 12.2,-1.8 17.5,0.5 51,13.9 52.9,14.8 53.8,15.4 54.2,16.2 54.3,17.2 54.3,20.2 53.4,29 52.8,33 52.2,37.5 51.5,41.2 50.7,47.8 50.6,49.2 50.8,50 51.2,50.5 56.8,54.5 64.5,60 70.2,63.7 75.5,66.7 80.2,69 84.8,70.7 89,71.8 91.2,72.2 93,72.3 93,116.2 -2,116.2Z"/>
<path fill="#0018ff" d="M-2,-2 11.6,-2 11.7,-1.8 12.1,-1.5 50.6,14.2 52.5,15.1 53.3,15.8 53.7,16.5 53.9,18 53.3,23.8 52.1,31.2 50.3,38.2 50,39.8 49.6,44 49.2,46.5 48.3,50.8 46.9,56.2 46.7,57.2 46.8,57.8 47,58.2 64.2,71.2 70.5,75.6 76,79.1 80.8,81.8 85.2,83.8 89.2,85 91.2,85.4 93,85.6 93,116.2 -2,116.2Z"/>
<path fill="#001eff" d="M-2,-2 11.2,-2 11.4,-1.8 11.8,-1.5 50.2,14.6 52.1,15.5 53,16.2 53.4,17 53.5,18.5 52.7,24.5 50.7,33.2 48.8,39.2 47.8,45.8 46.9,50 45.7,54.2 44.3,58.5 42.9,62.2 42.5,62.9 41.5,64.2 41.3,64.8 41.4,65 41.8,65.4 49.9,71.8 57.6,78.2 65.5,85.2 80.2,98.7 85,102.8 87.5,104.8 89.8,106.4 91.8,107.5 93,107.9 93,116.2 -2,116.2Z"/>
<path fill="#0022ff" d="M-2,-2 11.1,-2 11.2,-1.8 11.6,-1.5 50,14.8 52,15.7 53,16.5 53.2,17.3 53.3,18.8 52.8,22.2 52.3,25.2 51.6,28.2 50.2,33.8 48.5,38.9 46.3,49.2 44.9,54.5 43.4,58.8 42,62 41.2,63 37.8,66.2 37.4,66.8 37.2,67.2 37.5,67.8 42.2,71.3 47,75.2 54.3,81.8 58.2,85.5 61.8,89.2 65,92.8 68,96.2 70.4,99.2 72.3,102 74,104.8 75.3,107.2 76.2,109.5 76.9,111.8 77.2,113.8 77.2,116.2 -2,116.2Z"/>
<path fill="#0028ff" d="M-2,-2 10.9,-2 11.1,-1.8 11.4,-1.5 50,15 52,16 52.8,16.8 53.1,17.8 53.1,19.2 52.4,23.5 51.5,27.8 49.3,35.2 48.3,38.5 46.2,45.9 44.5,52.8 42.5,58.8 41.5,61 40.8,62 37.9,64.8 33,68.8 32.4,69.2 32.2,69.8 32.2,70 32.5,70.2 36.6,73.2 40.8,76.5 43.9,79.2 47.2,82.2 50.4,85.5 53.5,88.8 56.3,92 58.7,95 60.8,98 62.6,100.8 64.1,103.5 65.3,106.2 66.2,108.8 66.8,111.2 67.1,113.5 67.1,116.2 -2,116.2Z"/>
<path fill="#0030ff" d="M-2,-2 10.7,-2 10.8,-1.8 11.1,-1.5 49.9,15.5 51.8,16.5 52.4,17 52.7,17.5 52.8,18.2 52.8,19 52.4,22 50.8,29 48,37.2 46.4,43 43.8,50 41.8,56 40.5,59.2 39.5,60.5 37.3,62.8 35,64.8 32.4,66.8 29.8,68.5 27,70.2 20.2,73.8 19.5,74.2 19.4,74.5 19.8,74.9 23.2,76.7 26.5,78.7 29.5,80.7 32.4,83 35.3,85.5 38.1,88.2 40.7,91 43.1,94 45.2,96.9 47,99.8 48.6,102.8 49.8,105.5 50.7,108.2 51.3,110.8 51.6,113.2 51.6,116.2 -2,116.2Z"/>
<path fill="#0038ff" d="M10.4,-2 10.5,-1.8 10.9,-1.5 49,15.6 51.2,16.7 52.1,17.5 52.5,18.2 52.5,19.2 52.2,21.8 51.7,24.2 50.3,29.5 49.3,32.2 47.5,36.8 46.2,41.5 44.8,45.5 39.5,57.5 38.8,58.5 36.7,60.8 35,62.3 32.8,64.1 28.2,67.3 23.5,70 18.5,72.2 13.8,73.8 8.5,75 3,75.7 0.2,75.9 -2,75.9 -2,-2ZM-2,84.3 6.8,84.4 9.4,84.8 12,85.4 15.1,86.5 18.2,88 21.2,89.9 24.1,92 27,94.6 29.5,97.4 31.8,100.4 33.6,103.5 35,106.7 36,109.8 36.5,113 36.6,116.2 -2,116.2Z"/>
<path fill="#003eff" d="M10.2,-2 10.3,-1.8 10.6,-1.5 48.7,16 50.8,17 51.7,17.8 52.1,18.5 52.2,19.5 52,21.5 51.3,24.5 49.6,30.5 48.7,33 47,36.9 45.4,42.2 43.5,47 41.4,51.5 38.8,56 38.2,56.7 35.8,59.2 31.8,62.6 27.2,65.7 22.8,68.3 18,70.5 13.2,72.1 8.2,73.2 2.8,73.9 0.2,74.1 -2,74.1 -2,-2ZM-2,104.3 4.8,104.3 6.2,104.4 8.5,104.9 9.8,105.5 10.8,106.1 11.9,107 13,108.1 13.9,109.2 14.6,110.5 15.1,111.8 15.5,113.2 15.7,114.5 15.7,116.2 -2,116.2Z"/>
<path fill="#0042ff" d="M10.1,-2 10.2,-1.8 10.5,-1.5 48.7,16.2 50.5,17.2 51.5,17.9 52,18.7 52.1,19.8 51.9,21.5 51.2,24.8 49.6,30.2 48.6,32.8 46.8,37 45.4,41.2 43.9,45.2 42.5,48.5 41.1,51.5 38.9,55.2 38,56.4 34.8,59.2 30.5,62.4 27.8,64.4 23.2,67.1 18.5,69.3 13.8,71 8.5,72.3 5.8,72.7 3,73 0.2,73.2 -2,73.2 -2,-2Z"/>
<path fill="#0048ff" d="M9.9,-2 10.1,-1.8 10.4,-1.5 48.5,16.4 50.2,17.3 51.2,18 51.8,18.8 51.9,19.8 51.8,21.5 51.1,24.5 49.4,30.2 48.4,33 46.7,36.8 43.6,45.2 42.2,48.5 40.7,51.5 38.7,55 37.8,56.2 34.2,58.9 26,64.4 21.8,66.8 17.5,68.7 13,70.3 8,71.4 2.8,72.1 0.2,72.3 -2,72.3 -2,-2Z"/>
<path fill="#0050ff" d="M9.7,-2 9.8,-1.8 10.1,-1.5 49.6,17.5 50.8,18.2 51.2,18.7 51.5,19.2 51.7,20.2 51.5,21.8 50.4,26.2 49.4,29.5 47.9,33.5 46.5,36.6 44.9,40.8 42.2,47 40.8,50.1 38.3,54.5 37.2,55.7 34,58.2 31.5,59.8 28.5,61.6 22.5,64.6 15.8,67.4 11.8,68.7 7.2,69.7 2,70.4 -2,70.5 -2,-2Z"/>
<path fill="#0058ff" d="M9.5,-2 9.6,-1.8 9.9,-1.5 49.2,17.9 50.5,18.7 51.2,19.5 51.4,20.5 51.3,22 50.4,25.8 49.3,29 44.8,40.2 39.8,50.7 37.8,54.2 36.8,55.3 33.8,57.6 31.2,59.3 28.5,60.8 23.5,63.3 18.2,65.4 13.2,66.9 8.5,67.9 2.8,68.6 0.2,68.8 -2,68.8 -2,-2Z"/>
<path fill="#005eff" d="M9.3,-2 9.4,-1.8 9.7,-1.5 48.9,18.2 50.2,19.1 50.8,19.8 51.1,20.8 51,22.2 50.1,26 49.1,29 44.3,40.8 42.1,45.2 38,52.6 37,54.1 35.8,55.3 34.2,56.5 32.5,57.7 27.5,60.7 22.8,63 17.8,64.9 13.2,66.2 8.2,67.2 2.8,67.8 -2,68 -2,-2Z"/>
<path fill="#0062ff" d="M9.2,-2 9.3,-1.8 9.6,-1.5 48.8,18.4 50.1,19.2 50.8,20.1 51,21 50.9,22.5 49.9,26.5 49.1,29 46.1,36 44.9,39.2 43.8,41.5 41.6,45.8 37.4,53 36.7,54 35.2,55.3 33.8,56.5 31.9,57.8 27,60.6 22.2,62.8 17.5,64.6 13,65.9 8,66.9 2.5,67.6 -2,67.7 -2,-2Z"/>
<path fill="#0068ff" d="M9.1,-2 9.2,-1.8 9.5,-1.5 48.5,18.5 50,19.5 50.5,20.1 50.8,21 50.8,22.5 49.9,26.2 48.9,29.2 46,35.9 44.6,39.5 43.6,41.8 40.9,46.8 37.2,52.8 36.5,53.7 34.8,55.3 33.5,56.3 31.2,57.8 26.5,60.5 22,62.6 17.2,64.4 12.8,65.7 7.8,66.7 2.5,67.2 -2,67.4 -2,-2Z"/>
<path fill="#0070ff" d="M8.9,-2 9,-1.8 9.3,-1.5 48.3,19 49.8,20 50.2,20.5 50.6,21.5 50.5,23 49.6,26.5 48.6,29.5 45.8,35.8 44.4,39.5 42.8,42.8 40.1,47.5 37,52.2 36.2,53.1 34,55.1 30.2,57.6 25.8,60.2 21.3,62.2 16.8,63.9 12.5,65.1 7.5,66.1 2.2,66.7 -2,66.8 -2,-2Z"/>
<path fill="#0078ff" d="M8.7,-2 9.1,-1.5 48,19.4 49.5,20.4 50,21 50.3,22 50.3,23.2 49.6,26.2 48.5,29.2 45.7,35.5 44.4,39 43.2,41.5 41.3,45 39.3,48.2 36.7,52 35.5,53.2 32.2,55.7 27,58.8 22.2,61.2 17.5,63 13,64.4 8,65.4 2.5,66.1 -2,66.2 -2,-2Z"/>
<path fill="#007eff" d="M8.5,-2 8.9,-1.5 47.8,19.8 49.2,20.8 49.8,21.4 50.1,22.5 50,23.8 49.3,26.5 48.2,29.8 45.5,35.5 44.1,39 42.8,41.8 41.1,45 39.1,48.2 36.6,51.8 35.5,52.8 32.2,55.2 27,58.2 22,60.6 17,62.6 12.8,63.8 7.8,64.9 2.5,65.5 -2,65.6 -2,-2Z"/>
<path fill="#0082ff" d="M8.5,-2 8.8,-1.5 47.7,20 49,20.9 49.5,21.5 49.9,22.5 49.9,23.8 49.3,26.5 48.1,29.8 45.5,35.3 44.1,38.8 42.8,41.5 41.1,44.8 39.1,48 36.6,51.5 35.5,52.7 32,55.1 27,57.9 21.8,60.4 16.8,62.3 12.5,63.6 7.5,64.6 2.2,65.2 -2,65.3 -2,-2Z"/>
<path fill="#0088ff" d="M8.4,-2 8.7,-1.5 47.5,20.2 49,21.2 49.4,21.8 49.8,22.8 49.8,24 49.2,26.5 48.1,29.5 45.3,35.5 43.9,39 42.7,41.5 41,44.8 39.1,47.8 36.6,51.2 35.5,52.5 32,54.9 26.8,57.9 21.8,60.2 16.5,62.1 12.2,63.4 7.5,64.3 2.2,64.9 -2,65 -2,-2Z"/>
<path fill="#0090ff" d="M8.2,-2 8.6,-1.5 47.2,20.6 48.8,21.7 49.2,22.2 49.5,23.2 49.5,24.6 49,26.8 47.9,29.8 42.3,41.8 40.6,45 38.8,47.9 36.4,51.2 35.2,52.4 32,54.6 27,57.4 22,59.7 17.2,61.4 13,62.6 8,63.7 2.5,64.3 -2,64.4 -2,-2Z"/>
<path fill="#0098ff" d="M8,-2 8.4,-1.5 47,21 48.5,22.1 49,22.8 49.3,23.8 49.2,25.1 48.7,27.2 47.6,30.2 45.2,35.2 43.6,38.8 41.9,42.2 39.9,45.8 38,48.6 36,51.3 34.8,52.5 31.5,54.7 26.5,57.4 22,59.4 17,61.1 12.5,62.4 7.2,63.4 2.2,63.9 -2,64 -2,-2Z"/>
<path fill="#009dff" d="M-2,-2 7.9,-2 8.2,-1.5 46.5,21.2 48.4,22.8 48.8,23.2 49,24 49.1,24.8 49,25.8 48.1,28.5 47.1,31 45,35.2 43.5,38.8 41.4,42.8 39.5,46 37.5,49 35.5,51.5 33.5,53.1 31.5,54.4 28.5,56.1 25,57.8 22,59.1 18.5,60.4 15.2,61.4 12.2,62.1 8.5,62.9 5,63.3 1,63.6 -2,63.6Z"/>
<path fill="#00a1ff" d="M-2,-2 7.8,-2 8.2,-1.5 46.5,21.5 48.2,22.9 48.6,23.5 48.9,24.2 49,25 48.8,26 48.1,28.5 46.9,31.2 45,35.1 43.4,38.8 41.4,42.5 39.3,46 37.3,49 35.5,51.4 33.8,52.8 31.8,54.1 28.5,56 25.2,57.6 22.2,58.9 19,60.1 15.8,61.1 12.8,61.9 9.2,62.6 5.5,63.1 1.5,63.5 -2,63.5Z"/>
<path fill="#00a8ff" d="M-2,-2 7.8,-2 8.1,-1.5 46.2,21.6 48.2,23.2 48.5,23.8 48.8,24.5 48.8,25.2 48.8,26.1 47.9,28.8 46.9,31.2 45,35 43.4,38.5 41.4,42.2 39.2,46 37.2,48.9 35.5,51.2 33.6,52.8 31.5,54.1 28.2,56 25,57.6 22,58.9 18.8,60.1 15.5,61.1 12.5,61.8 8.8,62.6 5,63.1 1,63.4 -2,63.4Z"/>
<path fill="#00afff" d="M-2,-2 7.6,-2 8,-1.5 46,22 47.9,23.5 48.2,24.1 48.5,24.8 48.6,25.5 48.6,26.2 47.8,28.8 46.8,31 43.4,38.2 41.4,42 39.1,45.8 37,48.9 35.2,51.1 33.2,52.7 31.5,53.9 28.2,55.7 25,57.3 22,58.6 18.8,59.8 15.5,60.8 12.5,61.6 8.8,62.3 5,62.8 1,63.1 -2,63.2Z"/>
<path fill="#00b7ff" d="M-2,-2 7.5,-2 7.8,-1.5 45.8,22.4 47.8,24 48.1,24.5 48.3,25.2 48.4,26 48.3,26.8 47.6,29 43.1,38.5 41.3,41.8 38.9,45.8 36.8,48.8 35.2,50.8 33.8,52 31.7,53.5 28.5,55.3 25.2,57 22.2,58.3 19,59.5 15.8,60.6 12.8,61.3 9,62.1 5.2,62.6 1.2,62.9 -2,62.9Z"/>
<path fill="#00bdff" d="M-2,-2 7.4,-2 7.7,-1.5 45.6,22.8 47.5,24.3 47.8,24.8 48.1,25.5 48.2,26.2 48.1,27 47.5,29 46.6,31 43.1,38.2 41.3,41.5 39.2,45 36.9,48.2 35,50.7 33.1,52.2 31.3,53.5 28.2,55.2 25,56.9 22,58.2 18.8,59.4 15.8,60.3 12.5,61.2 9,61.9 5.2,62.4 1.2,62.7 -2,62.7Z"/>
<path fill="#00c1ff" d="M-2,-2 7.3,-2 7.6,-1.5 45.5,22.9 47.4,24.5 47.8,25 48,25.7 48,27 47.3,29.2 43.1,38.2 41.4,41.2 39.4,44.5 37.2,47.8 35,50.6 33.3,52 31.5,53.2 28.2,55.1 25,56.7 22,58.1 18.8,59.3 15.5,60.3 12.5,61.1 8.8,61.8 5,62.3 1,62.6 -2,62.6Z"/>
<path fill="#00d1ff" d="M-2,-2 7.2,-2 7.6,-1.5 45.3,23 47.2,24.6 47.6,25 47.9,25.8 48,26.5 47.9,27.2 47.3,29.2 42.9,38.5 41.2,41.5 39.1,44.8 36.9,48 34.9,50.5 33.1,52 31.3,53.2 28.2,55 25,56.6 22,57.9 18.8,59.2 15.8,60.1 12.5,61 9,61.7 5.2,62.2 1.2,62.5 -2,62.5Z"/>
<path fill="#00efff" d="M-2,-2 6.9,-2 7.2,-1.5 44.5,24 46.5,25.7 46.9,26.2 47,26.8 47.2,27.5 47.1,28.2 46.6,30 42.6,38.2 40.9,41.2 38.9,44.2 36.6,47.5 34.5,50 32.2,51.7 30.8,52.7 27.8,54.4 24.2,56.2 21.2,57.5 18.2,58.6 15.2,59.5 12.2,60.3 8.8,61 5,61.5 1,61.8 -2,61.8Z"/>
<path fill="#10ffef" d="M-2,-2 6.5,-2 6.8,-1.5 43.8,25.2 45.7,27 46.1,28 46.2,29.2 45.8,30.9 45,32.5 42.2,38.2 40.4,41.2 38.4,44.2 36.2,47.1 34.2,49.4 32.2,50.9 30.5,52.1 27.2,53.9 24.2,55.3 21.2,56.6 17.8,57.9 14.5,58.9 11.8,59.6 8.5,60.2 4.8,60.7 0.8,61 -2,61Z"/>
<path fill="#30ffcf" d="M-2,-2 6.1,-2 6.4,-1.5 42.8,26.3 43.8,27.2 44.9,28.5 45.2,29.2 45.2,30.2 44.8,32 42.6,36.8 40.6,40.2 37.6,44.8 34.5,48.5 33.5,49.5 30.8,51.4 26.8,53.6 23,55.3 19,56.9 15,58.1 11,59.1 6.5,59.8 1.5,60.3 -2,60.3Z"/>
<path fill="#50ffaf" d="M-2,-2 5.8,-2 6.1,-1.5 42,27.5 43,28.5 44,29.7 44.2,30.5 44.3,31.2 44.3,32 44.1,32.8 42.5,36.2 40.7,39.5 37.6,44 34.4,48 33.4,49 30.8,50.9 27,53 23,54.8 19,56.4 15,57.7 11,58.6 6.5,59.4 1.8,59.8 -2,59.8Z"/>
<path fill="#70ff8f" d="M-2,-2 5.5,-2 5.8,-1.5 41.1,28.5 42.1,29.5 43.1,30.8 43.3,31.2 43.4,32.2 43.3,33.2 43,34.2 42,36.7 40.3,39.5 37.4,43.8 34.1,47.8 33,48.8 30.5,50.6 26.8,52.7 22.8,54.5 18.8,56.1 14.5,57.4 10.5,58.3 6.5,59 2,59.4 -2,59.4Z"/>
<path fill="#8fff70" d="M-2,-2 5.3,-2 5.5,-1.5 40.2,29.4 41.1,30.2 42.2,31.8 42.5,32.5 42.5,33.2 42.5,34.2 42.2,35.2 41.5,37 39.8,39.8 37,43.8 34,47.4 33,48.3 30.2,50.3 26.5,52.4 22.5,54.2 18.2,55.9 14.2,57.1 10.5,57.9 6.2,58.6 1.8,59 -2,59.1Z"/>
<path fill="#afff50" d="M-2,-2 5,-2 5.2,-1.5 39.4,30.2 40.1,31 41.2,32.5 41.5,33 41.6,33.8 41.5,35.8 40.8,37.5 39.5,39.8 36.9,43.5 33.9,47 32.8,48.1 30.2,49.9 26.5,52 22.5,53.8 18.5,55.4 14.5,56.6 10.5,57.6 6.2,58.3 1.8,58.7 -2,58.7Z"/>
<path fill="#cfff30" d="M-2,-2 4.8,-2 5,-1.5 38.5,31.1 39.2,32 40.4,33.5 40.6,34 40.8,34.8 40.6,36.5 39.9,38.2 38.8,40.4 36.3,43.8 33.5,47 32.5,47.9 30,49.6 26,51.8 22.2,53.6 18.2,55.1 14.2,56.3 10.8,57.2 6.2,57.9 1.8,58.3 -2,58.4Z"/>
<path fill="#efff10" d="M-2,-2 4.5,-2 4.7,-1.5 37.6,32 38.3,32.8 39.2,34.2 39.7,35.2 39.7,35.8 39.6,36.8 39,39 38,40.9 36,43.8 33.4,46.8 32.3,47.8 30,49.3 26.2,51.4 22.5,53.1 18,54.9 14,56.1 10.5,56.9 6,57.6 1.8,58 -2,58Z"/>
<path fill="#ffef00" d="M-2,-2 4.3,-2 4.5,-1.5 36.2,32.8 37.2,34 38.3,36 38.5,36.8 38.3,38.5 37.5,40.8 36,43.2 33.3,46.5 32.1,47.5 29.8,49.2 26.2,51.1 22.5,52.8 18.5,54.4 14.5,55.7 10.5,56.6 6,57.3 1.8,57.7 -2,57.7Z"/>
<path fill="#ffcf00" d="M-2,-2 4,-2 4.2,-1.5 34.9,33.8 35.9,35 37,37.2 37.3,38 37,39.5 36.3,41.8 35.1,43.8 33.1,46.2 32,47.2 29.8,48.9 26.2,50.8 22.2,52.7 18.5,54.1 14.2,55.5 10.5,56.3 6,57 1.8,57.4 -2,57.5Z"/>
<path fill="#ffaf00" d="M-2,-2 3.8,-2 4,-1.5 34.5,35.9 35.7,38.5 36,39.2 35.8,40.2 35.2,42.2 34.2,44.2 32.8,46.2 31.5,47.2 29.4,48.8 25.8,50.8 22,52.5 18,54 14,55.3 10.2,56.1 6,56.8 1.8,57.2 -2,57.2Z"/>
<path fill="#ff8f00" d="M-2,-2 3.6,-2 3.7,-1.5 33.1,36.8 34.5,40 34.6,40.8 34.5,41.5 33.4,44 32.5,45.8 31.3,47 29.3,48.5 25.7,50.5 22,52.2 18.1,53.8 14,55 10.2,55.9 6,56.6 1.8,56.9 -2,57Z"/>
<path fill="#ff7000" d="M-2,-2 3.3,-2 3.5,-1.5 31.8,37.8 32.5,39.5 33.1,41.5 33,42.5 32.5,43.8 31.5,45.8 30.3,47.2 29,48.2 26.5,49.8 23,51.5 19.4,53 15.8,54.2 12.2,55.2 8.5,56 5,56.4 1,56.7 -2,56.8Z"/>
<path fill="#ff5000" d="M-2,-2 3.1,-2 3.2,-1.5 29.9,38.2 30.6,39.8 31.5,42.4 31.6,43.2 31.4,44 31,44.8 29.2,47.3 27.3,48.8 24.2,50.5 20.5,52.2 17.2,53.5 12.1,55 8.2,55.8 3,56.4 0.2,56.5 -2,56.5Z"/>
<path fill="#ff3000" d="M-2,-2 2.9,-2 3,-1.5 28.4,39.2 29,40.5 29.9,43.5 29.9,44.2 29.8,44.8 29.2,45.8 28.7,46.5 27,47.8 24.2,49.8 21.5,51.2 18.8,52.5 15.4,53.8 12,54.8 8.3,55.5 4.5,56 1,56.3 -2,56.3Z"/>
<path fill="#ff1000" d="M-2,-2 2.6,-2 3,-1 26.9,40.2 27.4,41.2 28.2,44.8 28.1,45.2 27.6,46 25.7,47.5 22.8,49.5 19.7,51.2 16.6,52.8 13.2,54 10.3,54.8 7.7,55.2 4,55.8 0.5,56 -2,56Z"/>
<path fill="#ef0000" d="M-2,-2 2.3,-2 2.6,-1 24.5,40.7 25,42 25,42.8 24,46.5 23.6,47.2 23.2,47.8 22.3,48.5 19.5,50.2 15,52.4 10.8,54 6,55 3.2,55.4 0.2,55.6 -2,55.6Z"/>
<path fill="#cf0000" d="M-2,-2 1.8,-2 2.1,-1 20.1,43.8 20.2,44.2 19.7,46 18.4,49 17.8,49.8 16.3,50.8 13,52.2 10,53.3 5,54.3 0,54.9 -2,54.9Z"/>
<path fill="#af0000" d="M-2,-2 1.4,-2 1.5,-1 14.9,44.5 15.2,45.8 15.1,46.2 14.8,47 13.2,50 12.7,50.8 11.8,51.5 9.9,52.2 6.9,53 3.5,53.6 0,54 -2,54Z"/>
<path fill="#8f0000" d="M-2,-2 0.8,-2 10,46.8 9.7,47.5 9,48.2 6.5,50.1 4,51.8 2.2,52.5 -0.2,52.9 -2,52.9Z"/>
</g>
<g id="f11">
<rect x="-1" y="-1" width="93" height="116.4" fill="#000080"/>
<path fill="#000089" d="M44.1,33.2 44.9,34.5 45.6,36 46,37.2 46.2,38.8 46.3,40.2 46.2,41.8 45.9,43.2 45.4,44.8 44.6,46.5 43.8,47.8 42.9,49 41.8,50.2 40.5,51.4 39.2,52.4 36,54.4 32,56.2 28,57.4 25.8,57.8 23.8,58.1 21.5,58.2 19.5,58.1 17.8,57.9 16,57.6 14.2,57.1 12.5,56.3 11,55.4 9.9,54.5 9,53.5 8.1,52.2 7.6,51 7.3,49.8 7.2,48.5 7.4,47 7.7,45.8 8.2,44.2 8.9,42.8 9.9,41.2 11.2,39.5 12.4,38 15.8,34.7 19.8,31.4 22.5,29.4 24.2,28.3 25.2,27.9 26.8,27.4 29.2,26.9 31.8,26.9 34.8,27.4 37.8,28.3 40.2,29.6 42.5,31.4Z"/>
<path fill="#000091" d="M43.7,33.5 44.5,34.8 45,36 45.4,37.2 45.7,38.8 45.8,40.2 45.6,41.8 45.3,43.2 44.8,44.8 44.1,46.2 43.4,47.5 42.5,48.8 41.4,50 39,52 35.8,53.9 32,55.6 30,56.3 27.8,56.9 25.8,57.3 23.8,57.6 21.8,57.7 19.8,57.6 18,57.4 16.1,57 14.5,56.5 13,55.8 11.7,55 10.5,54.1 9.5,53 8.9,52 8.3,50.8 8.1,49.5 8,48.2 8.1,47 8.4,45.8 8.9,44.2 9.7,42.8 10.6,41.2 11.7,39.8 13.2,38 16.4,34.8 20.5,31.4 23,29.7 24.5,28.7 26.8,27.9 29.2,27.4 32,27.4 35,27.9 37.8,28.9 40,30.1 42,31.6Z"/>
<path fill="#00009a" d="M43,33.5 43.8,34.8 44.4,36 44.9,37.2 45.1,38.5 45.2,39.8 45.2,41.2 44.9,42.8 44.5,44.2 43.8,45.8 43.1,47 42.3,48.2 41.2,49.4 39,51.4 36,53.2 32.2,55 30.2,55.7 28.2,56.3 26.2,56.7 24.2,57 22.2,57.1 20.5,57.1 18.8,56.9 17,56.6 15.5,56.1 14,55.5 12.6,54.8 11.5,53.9 10.5,52.9 9.7,51.8 9.3,50.8 8.9,49.5 8.8,48.2 8.9,47 9.2,45.8 9.7,44.2 10.3,43 11.2,41.5 13.5,38.5 16.7,35.2 20.6,32 24.5,29.3 26.5,28.4 29,27.9 31.8,27.9 34.5,28.3 37,29.1 39.4,30.2 41.4,31.8Z"/>
<path fill="#0000af" d="M42.6,34 43.2,35 43.8,36.2 44.2,37.5 44.5,38.8 44.5,40 44.5,41.5 44.2,43 43.8,44.2 43.2,45.5 42.5,46.8 40.8,49 38.8,50.8 35.8,52.7 32,54.4 28.2,55.6 24.5,56.3 21,56.3 19.2,56.2 17.5,55.8 16,55.4 14.6,54.8 13.3,54 12.3,53.2 11.4,52.2 10.7,51.2 10.3,50.2 10,49 9.9,48 10,46.8 10.3,45.5 10.8,44 11.4,42.8 12.3,41.2 14.6,38.2 17.6,35.2 21.5,32.1 25,29.7 27.2,28.8 29.5,28.4 32,28.5 34.5,28.9 37,29.7 39.2,30.9 41,32.2Z"/>
<path fill="#0000cf" d="M41.1,34.2 42.3,36.2 42.7,37.2 43,38.5 43.1,40.8 42.9,42.2 42.7,43.2 42.1,44.8 41.6,45.8 40.2,47.8 38.2,49.6 36,51.1 33,52.6 29.5,53.9 26,54.6 22.5,54.8 20.8,54.7 19.2,54.4 16.8,53.6 15.5,52.9 14.6,52.2 13.8,51.5 13.1,50.5 12.6,49.5 12.3,48.5 12.2,47.5 12.3,46.2 12.9,44 14.1,41.5 16.2,38.8 18.8,36 22.2,33.1 25.5,30.9 27.2,30.1 29.2,29.7 31.5,29.6 33.8,29.9 36,30.6 38,31.6 39.8,32.9Z"/>
<path fill="#0000ef" d="M40.6,34.8 41.3,35.8 41.8,36.8 42.3,38.8 42.4,41 42,43.2 41,45.5 39.5,47.5 37.8,49.2 35.5,50.6 32.2,52.2 29,53.3 25.8,53.9 22.8,54.1 20,53.8 18.8,53.4 17.5,53 16.5,52.4 15.5,51.7 14.8,51 14,50 13.6,49 13.3,48 13.2,47 13.3,46 13.5,45 13.9,43.8 15.1,41.5 16.9,39 19.5,36.2 22.5,33.7 25.8,31.5 27.5,30.7 29.5,30.3 31.5,30.2 33.8,30.5 35.8,31.2 37.8,32.2 39.2,33.3Z"/>
<path fill="#0010ff" d="M40.2,35.2 40.8,36.2 41.3,37.2 41.8,39.2 41.8,41.2 41.3,43.5 40.3,45.5 39,47.2 37.2,48.8 35,50.2 32,51.7 29,52.7 26,53.3 23,53.4 20.2,53 18,52.3 17,51.7 16.1,51 15.4,50.2 14.9,49.5 14.6,48.8 14.3,47.8 14.2,46.8 14.3,45.8 14.5,44.8 14.9,43.5 16.1,41.2 17.8,39 20.1,36.5 23,34.1 26,32 27.8,31.2 29.8,30.8 31.8,30.8 33.8,31.1 35.8,31.7 37.5,32.7 39,33.9Z"/>
<path fill="#0030ff" d="M39.5,35.2 40.5,37 41.1,39 41.2,41 40.8,43 39.9,45 38.8,46.7 37.2,48.1 35.2,49.5 32.5,50.9 29.8,51.9 26.8,52.5 24,52.7 21.2,52.5 19,51.8 17.2,50.7 16.5,50 16,49.2 15.6,48.5 15.3,47.5 15.2,45.8 15.7,43.8 16.8,41.5 18.4,39.2 20.7,36.8 23.4,34.5 26.2,32.5 27.8,31.8 29.5,31.4 31.2,31.3 33.2,31.5 35,32 36.8,32.9 38.2,34Z"/>
<path fill="#0050ff" d="M39,35.5 39.9,37 40.5,38.8 40.6,40.5 40.4,42.5 39.7,44.2 38.6,46 37.1,47.5 35.2,48.8 32.8,50.1 30,51.2 27.2,51.8 24.5,52.1 22,51.9 19.8,51.2 18.8,50.7 18,50.1 17.4,49.5 16.8,48.8 16.3,47.2 16.2,45.5 16.6,43.5 17.6,41.5 19.2,39.2 21.2,37.1 23.8,34.9 26.4,33 28,32.3 29.5,31.9 31.2,31.8 33,32 34.8,32.5 36.4,33.2 37.8,34.2Z"/>
<path fill="#0070ff" d="M38.5,35.8 39.4,37.2 40,39 40.1,40.8 39.8,42.5 39.2,44.2 38.2,45.8 36.8,47.2 35,48.4 32.5,49.7 30,50.7 27.2,51.3 24.8,51.5 22.5,51.3 20.5,50.7 18.8,49.8 17.7,48.5 17.3,47.8 17.1,47 17,45.2 17.4,43.5 18.3,41.5 19.7,39.5 21.8,37.3 24,35.3 26.5,33.5 28,32.8 29.5,32.4 31,32.3 32.8,32.4 34.5,32.9 36,33.6 37.3,34.5Z"/>
<path fill="#008fff" d="M38.1,36 39,37.5 39.5,39 39.6,40.8 39.4,42.5 38.8,44 37.8,45.6 36.5,46.8 34.8,48 32.5,49.2 30,50.2 27.5,50.8 25,51 22.8,50.8 21,50.2 20.1,49.8 19.4,49.2 18.3,48 18,47.2 17.8,46.5 17.7,45 18.2,43.2 19.1,41.2 20.4,39.5 22.2,37.5 24.5,35.5 26.8,33.9 28,33.3 29.5,32.8 31,32.7 32.8,32.9 34.2,33.3 35.8,34 37,34.8Z"/>
<path fill="#00afff" d="M37.7,36.2 38.5,37.5 39,39 39.2,40.5 39,42.2 38.4,43.8 37.4,45.2 36.2,46.5 34.8,47.5 32.5,48.8 30.2,49.6 27.8,50.2 25.5,50.4 23.2,50.3 21.5,49.8 20,48.8 19.1,47.8 18.5,46.5 18.4,45 18.8,43.2 19.6,41.5 20.8,39.8 22.6,37.8 24.8,35.9 27,34.2 28.2,33.6 29.8,33.2 31.2,33.1 32.8,33.3 34.2,33.7 35.5,34.3 36.8,35.2Z"/>
<path fill="#00cfff" d="M37.2,36.2 38,37.5 38.5,38.8 38.7,40.2 38.6,41.8 38.2,43.2 37.3,44.8 36.2,45.9 35,46.9 33,48 30.8,49 28.5,49.6 26.2,49.9 24,49.8 22.2,49.4 20.8,48.5 19.8,47.5 19.3,46.2 19.1,44.8 19.5,43.2 20.2,41.5 21.4,39.8 23,38 24.9,36.2 27,34.7 28.2,34.1 29.5,33.7 30.8,33.5 32.2,33.6 33.8,34 35,34.5 36.1,35.2Z"/>
<path fill="#00efff" d="M37,36.7 37.8,38 38.2,39.2 38.3,40.8 38.1,42.2 37.4,43.8 36.6,45 35.5,46 34.2,46.9 32.2,47.9 30,48.8 28,49.3 26,49.4 24.2,49.3 22.5,48.8 21.3,48 20.4,47 19.9,45.8 19.9,44.5 20.2,43 21,41.2 22,39.8 23.6,38 25.5,36.3 27.5,34.9 28.5,34.4 29.8,34 31,33.9 32.5,34 33.8,34.4 35,35 36.1,35.8Z"/>
<path fill="#10ffef" d="M36.5,36.7 37.2,37.8 37.7,39 37.9,40.2 37.8,41.8 37.4,43 36.7,44.2 35.8,45.3 34.5,46.3 32.5,47.4 30.5,48.2 28.5,48.7 26.5,49 24.8,48.9 23.2,48.5 22,47.8 21,46.8 20.6,45.8 20.5,44.5 20.7,43 21.4,41.5 22.4,40 23.9,38.2 25.8,36.6 27.5,35.3 28.5,34.8 29.8,34.4 31,34.3 32.2,34.4 33.5,34.7 34.5,35.1 35.5,35.8Z"/>
<path fill="#30ffcf" d="M36.2,36.9 37,38 37.4,39.2 37.6,40.5 37.4,41.8 37,43 36.3,44.2 35.4,45.2 34.2,46.1 32.5,47.1 30.5,47.9 28.5,48.4 26.8,48.6 25,48.5 23.5,48 22.2,47.3 21.6,46.5 21.1,45.5 21,44.2 21.2,43 21.9,41.5 22.8,40 24.1,38.5 25.8,37 27.5,35.7 28.5,35.2 29.5,34.8 30.8,34.6 32,34.6 33.2,34.9 34.2,35.3 35.3,36Z"/>
<path fill="#50ffaf" d="M36,37.1 36.6,38 37.1,39.2 37.2,40.5 37.1,41.8 36.7,43 36.1,44 35.2,44.9 34.2,45.7 32.5,46.7 30.8,47.4 28.8,48 27,48.2 25.5,48.1 24,47.8 22.8,47 22,46.2 21.6,45.2 21.5,44 21.8,42.8 22.3,41.5 23.3,40 24.5,38.6 26,37.2 27.8,35.9 28.8,35.4 29.8,35 30.8,34.9 32,34.9 33.2,35.2 34.2,35.7 35.2,36.4Z"/>
<path fill="#70ff8f" d="M35.8,37.3 36.4,38.2 36.8,39.5 36.9,40.5 36.8,41.8 36.3,43 35.8,43.9 35,44.8 34,45.5 32.5,46.4 30.8,47.1 29,47.6 27.2,47.8 25.6,47.8 24.2,47.4 23.2,46.8 22.5,46 22.1,45 22,44 22.2,42.8 22.7,41.5 23.5,40.2 24.8,38.8 26.1,37.5 27.8,36.2 28.8,35.7 29.8,35.3 30.8,35.2 32,35.2 33,35.5 34,35.9 35,36.5Z"/>
<path fill="#8fff70" d="M35.5,37.5 36.2,38.5 36.5,39.5 36.6,40.5 36.5,41.5 36.2,42.5 35.7,43.5 34.9,44.5 33.9,45.2 32.2,46.2 30.8,46.8 29,47.3 27.5,47.5 26,47.4 24.8,47.1 23.6,46.5 22.9,45.8 22.5,44.8 22.5,43.8 22.6,42.8 23.2,41.5 23.9,40.2 25,39 26.3,37.8 28,36.5 29,35.9 30,35.6 31,35.5 32,35.5 33,35.8 34,36.2 34.8,36.8Z"/>
<path fill="#afff50" d="M35.2,37.6 35.8,38.5 36.2,39.5 36.3,40.5 36.2,41.5 35.9,42.5 35.4,43.5 34.7,44.2 33.8,45 32.2,45.9 30.8,46.5 29.2,46.9 27.8,47.1 26.2,47 25.1,46.8 24.1,46.2 23.4,45.5 23.1,44.8 22.9,43.8 23.1,42.8 23.6,41.5 24.4,40.2 25.4,39 26.7,37.8 28.1,36.8 29,36.2 29.8,35.9 30.8,35.8 31.8,35.8 32.8,36 33.8,36.4 34.5,36.9Z"/>
<path fill="#cfff30" d="M35,37.8 35.5,38.5 35.9,39.5 36,40.5 35.9,41.5 35.6,42.5 35.2,43.2 34.5,44 33.6,44.8 32.2,45.5 30.8,46.2 29.2,46.6 28,46.7 26.8,46.7 25.5,46.4 24.6,46 23.9,45.2 23.5,44.5 23.4,43.5 23.6,42.5 24.1,41.2 25,40 25.8,39 27,37.9 28.2,37 29.1,36.5 30,36.2 30.8,36 31.8,36.1 32.8,36.3 33.5,36.6 34.2,37.1Z"/>
<path fill="#efff10" d="M34.6,37.8 35.2,38.5 35.6,39.5 35.7,40.2 35.7,41.2 35.4,42.2 35,43 34.4,43.8 33.8,44.3 32.5,45.1 31,45.8 29.8,46.2 28.2,46.4 27,46.4 25.8,46.1 25,45.7 24.3,45 24,44.2 23.9,43.5 24,42.5 24.4,41.5 25.2,40.2 26,39.2 27,38.2 28.2,37.3 29.8,36.5 30.5,36.3 31.5,36.3 32.5,36.5 33.2,36.8 34,37.2Z"/>
<path fill="#ffef00" d="M34.5,38 35,38.8 35.3,39.5 35.5,40.2 35.4,41.2 35.2,42 34.8,42.9 34.2,43.5 33.5,44.2 32.2,44.9 30.8,45.6 29.5,45.9 28.2,46.1 27,46 26,45.8 25.2,45.3 24.7,44.8 24.4,44 24.3,43.2 24.5,42.2 24.9,41.2 25.5,40.2 26.4,39.2 27.4,38.2 28.5,37.4 29.2,37 30,36.7 31.5,36.6 32.2,36.7 33.1,37 33.9,37.5Z"/>
<path fill="#ffcf00" d="M34.2,38.1 34.7,38.8 35,39.5 35.2,40.2 35.2,41.2 34.9,42 34.6,42.8 34,43.4 33.2,44.1 32.2,44.7 31,45.2 29.8,45.6 28.5,45.8 27.5,45.8 26.5,45.5 25.8,45.2 25.1,44.5 24.8,43.8 24.7,43 24.9,42.2 25.3,41.2 26.5,39.5 28.5,37.7 29.2,37.3 30,37 31.5,36.8 32.2,36.9 33,37.2 33.8,37.7Z"/>
<path fill="#ffaf00" d="M34,38.2 34.4,38.8 34.8,39.5 34.9,40.2 34.9,41 34.8,41.8 34.4,42.5 33.9,43.2 33.2,43.8 32.2,44.4 31,45 29.8,45.3 28.8,45.5 27.8,45.5 26.8,45.3 26,44.9 25.5,44.4 25.2,43.8 25.1,43 25.2,42.2 25.5,41.5 25.9,40.8 26.6,39.8 27.5,38.9 28.5,38 29.9,37.2 31.2,37 32,37.1 32.8,37.3 33.5,37.8Z"/>
<path fill="#ff8f00" d="M33.8,38.3 34.2,38.9 34.5,39.5 34.7,40.2 34.7,41 34.5,41.8 34.2,42.4 33.8,43 33.2,43.5 32.2,44.1 31.2,44.6 30,45 29,45.2 28,45.2 27.2,45.1 26.5,44.8 25.9,44.2 25.6,43.8 25.5,43 25.5,42.2 25.8,41.5 26.2,40.8 27,39.8 28.5,38.3 29.9,37.5 30.5,37.3 31.2,37.3 32.5,37.5 33.2,37.9Z"/>
<path fill="#ff7000" d="M33.8,38.6 34.4,39.8 34.5,41 34.3,41.8 34,42.3 33.5,43 33,43.4 32,44 31,44.4 30,44.7 29,44.9 28.2,44.9 27.4,44.8 26.8,44.5 26.2,44 25.9,43.5 25.8,42.8 25.9,42 26.2,41.2 27.3,39.8 29,38.2 30.2,37.6 31.5,37.5 32.8,37.9Z"/>
<path fill="#ff5000" d="M33.5,38.8 34.1,39.8 34.2,41 34,41.8 33.8,42.2 32.8,43.2 31,44.2 29.2,44.6 28.5,44.6 27.7,44.5 27,44.2 26.5,43.8 26.3,43.2 26.2,42.8 26.3,42 26.6,41.2 27.6,39.8 29,38.5 30,37.9 31.2,37.7 32.5,38Z"/>
<path fill="#ff3000" d="M33.4,39 33.9,40 34,40.5 33.9,41.2 33.5,42.2 32.5,43.2 30.8,44 29.2,44.3 28.5,44.3 27.8,44.1 27.2,43.9 26.9,43.5 26.6,43 26.6,42.5 26.9,41.2 27.8,40 29.2,38.6 30.2,38.1 31.5,38 32.5,38.3Z"/>
<path fill="#ff1000" d="M33.2,39.2 33.7,40.2 33.6,41.2 33.1,42.2 32.3,43 30.8,43.7 29.2,44 28,43.8 27.3,43.2 27,42.8 27,42.2 27.3,41.2 28.1,40 29.6,38.8 30.5,38.3 31.5,38.2 32.5,38.6Z"/>
<path fill="#ef0000" d="M32.8,39.2 33.2,39.9 33.4,40.8 33.1,41.8 32.4,42.5 31,43.2 29.8,43.6 28.6,43.5 28.1,43.2 27.8,43 27.5,42.2 27.7,41.2 28.4,40.2 29.4,39.2 30.2,38.7 31.2,38.5 32,38.7Z"/>
<path fill="#cf0000" d="M32.5,39.5 32.9,40.2 32.9,41 32.6,41.8 32.1,42.2 31.2,42.8 30,43.1 29,43 28.3,42.5 28.2,41.8 28.4,41 28.9,40.2 29.8,39.5 30.5,39 31.2,38.9 32,39.1Z"/>
<path fill="#af0000" d="M32.1,39.8 32.4,40.2 32.5,41 32.2,41.5 31.8,42 31,42.3 30,42.5 29.5,42.4 29,42 28.9,41.5 29,41 29.5,40.3 30.1,39.8 30.8,39.4 31.2,39.4 31.8,39.5Z"/>
<path fill="#8f0000" d="M31.7,40.2 31.8,40.5 31.8,41 31.4,41.5 30.5,41.8 30.2,41.8 29.9,41.5 29.8,41.2 30,40.8 30.5,40.2 31.2,40Z"/>
</g>
<g id="f12">
<rect x="-1" y="-1" width="93" height="116.4" fill="#000080"/>
<path fill="#000089" d="M-2,-2 5.6,-2 5.8,-1.6 13.2,6.1 40.8,33.3 42.3,35 43.8,37.2 44.7,39.2 45.2,41.5 45.3,42.8 45.3,44 44.8,46.5 43.9,48.8 42.5,50.8 40.8,52.4 39.8,53.1 37.8,53.9 32,55.9 28.2,56.9 24.2,57.8 17.5,59.4 12.8,60.1 8,60.5 4,60.6 -2,60.5Z"/>
<path fill="#000091" d="M-2,-2 5.4,-2 5.5,-1.7 7.2,0.2 13.2,6.3 40.8,33.7 42.1,35.2 43.4,37.2 44.4,39.5 44.9,41.8 44.9,44.2 44.4,46.5 43.6,48.5 42.2,50.5 40.5,52.2 39.5,52.8 37.5,53.6 31.8,55.6 27.8,56.6 23.8,57.5 20.2,58.4 16.8,59.1 12,59.8 8,60.2 4,60.2 -2,60.1Z"/>
<path fill="#00009a" d="M-2,-2 5.2,-2 5.8,-1.2 12.8,6 40.5,33.9 41.9,35.5 43.4,37.8 44.2,39.8 44.6,42 44.6,44.2 44.1,46.5 43.2,48.5 42,50.3 40.2,51.9 39.2,52.6 37.8,53.2 32,55.1 27.5,56.3 23.8,57.1 19.8,58.1 16.5,58.8 12.2,59.4 7.8,59.8 3.8,59.9 -2,59.7Z"/>
<path fill="#0000af" d="M-2,-2 5.1,-2 5.2,-1.7 6.8,0 12.8,6.3 40.2,34 41.5,35.5 42.8,37.5 43.7,39.5 44.2,41.8 44.2,44 43.9,46 43,48.1 41.8,50 40.2,51.5 39.2,52.1 38,52.7 34.8,53.8 32,54.7 27.5,55.9 23.5,56.7 19.8,57.7 16.5,58.4 12,59 7.8,59.4 3.8,59.5 -2,59.3Z"/>
<path fill="#0000cf" d="M-2,-2 4.9,-2 5.2,-1.4 10,3.7 40.6,35.8 41.8,37.5 42.6,39.2 43.2,41.2 43.3,43.5 42.9,45.5 42.2,47.5 41,49.2 39.5,50.7 38.5,51.4 37.2,51.9 31.2,53.9 27.2,54.9 23.1,55.8 19.8,56.6 16.2,57.4 11.5,58.1 7.8,58.4 3.8,58.5 -2,58.3Z"/>
<path fill="#0000ef" d="M-2,-2 4.7,-2 4.8,-1.8 5.2,-1.2 10,4 40.1,36 41.3,37.8 42.1,39.5 42.6,41.5 42.7,43.5 42.3,45.5 41.6,47.2 40.4,49 39,50.3 38,50.9 36.2,51.6 30.8,53.4 26.8,54.4 23,55.2 19.2,56.1 15.8,56.9 11.2,57.5 7.5,57.8 3.8,57.9 -2,57.8Z"/>
<path fill="#0010ff" d="M-2,-2 4.6,-2 4.8,-1.6 10.8,5 39.8,36.2 41,38 41.7,39.8 42.2,41.5 42.2,43.5 41.9,45.2 41.2,47 40.2,48.5 38.8,49.9 38,50.4 36.2,51.1 31,52.8 26.8,53.9 22.8,54.7 19,55.7 15.8,56.4 11.5,57 7.5,57.4 3.8,57.4 -2,57.3Z"/>
<path fill="#0030ff" d="M-2,-2 4.5,-2 5,-1.2 8.8,3 39.6,36.5 40.7,38.2 41.4,40 41.8,41.8 41.8,43.5 41.5,45.2 40.9,46.8 39.9,48.2 38.6,49.5 37.8,50.1 36.5,50.6 31,52.3 26.5,53.5 22.5,54.3 18.8,55.3 15.5,55.9 11.2,56.6 7.2,56.9 3.5,57 -2,56.8Z"/>
<path fill="#0050ff" d="M-2,-2 4.4,-2 4.5,-1.7 5,-1.1 9.8,4.2 39.1,36.5 40.2,38 40.9,39.8 41.4,41.5 41.4,43.2 41.1,45 40.5,46.6 39.5,48 38.3,49.2 37.5,49.7 36.2,50.2 31,51.9 26.2,53.1 22.2,53.9 18.5,54.8 15.2,55.5 11,56.1 7,56.4 3.5,56.5 -2,56.4Z"/>
<path fill="#0070ff" d="M-2,-2 4.4,-2 4.8,-1.3 8.5,3 38.9,36.8 39.9,38.2 40.6,40 41,41.5 41,43.2 40.7,45 40.1,46.5 39.2,47.8 38,48.9 37.2,49.4 36,49.9 31,51.4 26,52.7 22.2,53.4 18.2,54.4 15,55.1 11,55.7 7,56 3.5,56.1 -2,55.9Z"/>
<path fill="#008fff" d="M-2,-2 4.3,-2 4.7,-1.2 38.5,36.8 39.5,38.2 40.2,39.8 40.6,41.5 40.7,43 40.4,44.5 39.9,46 39,47.4 37.9,48.5 37.2,48.9 36.2,49.4 30.8,51.1 25.5,52.3 22,53 18,54.1 15,54.7 11,55.3 7,55.6 3.5,55.7 -2,55.5Z"/>
<path fill="#00afff" d="M-2,-2 4.2,-2 4.5,-1.4 38.3,37 39.3,38.5 39.9,40 40.2,41.5 40.3,43 40,44.5 39.5,46 38.6,47.2 37.6,48.2 37,48.6 36,49 30.8,50.7 25.5,51.9 22,52.6 18,53.6 14.8,54.3 10.8,54.9 6.8,55.2 3.2,55.3 -2,55.1Z"/>
<path fill="#00cfff" d="M-2,-2 4.2,-2 4.5,-1.3 38,37.1 38.9,38.5 39.6,40 39.9,41.5 39.9,43 39.7,44.5 39.2,45.8 38.4,47 37.3,48 36.8,48.4 35.5,48.8 30.5,50.3 25.2,51.6 21.8,52.3 17.8,53.3 14.5,53.9 10.5,54.5 6.8,54.8 3.2,54.9 -2,54.7Z"/>
<path fill="#00efff" d="M-2,-2 4.1,-2 4.5,-1.2 37.7,37.2 38.6,38.5 39.2,40 39.6,41.5 39.6,42.8 39.4,44.2 38.9,45.5 38.2,46.6 37.2,47.6 36.7,48 35.8,48.4 30.8,49.9 25.2,51.2 21.5,51.9 17.5,52.9 14.5,53.5 10.5,54.1 6.8,54.4 3.2,54.5 -2,54.3Z"/>
<path fill="#10ffef" d="M-2,-2 4.1,-2 4.4,-1.2 37.5,37.4 38.4,38.8 38.9,40 39.2,41.2 39.3,42.8 39.1,44 38.7,45.2 38,46.3 37,47.4 36.4,47.8 35.5,48.1 30.8,49.5 25,50.8 21.5,51.5 17.5,52.5 14.2,53.2 10.5,53.7 6.8,54 3.2,54.1 -2,53.9Z"/>
<path fill="#30ffcf" d="M-2,-2 4,-2 4.2,-1.5 37.2,37.5 38,38.8 38.6,40 38.9,41.2 39,42.8 38.8,44 38.3,45.2 37.6,46.2 36.8,47.1 36.2,47.5 35.2,47.8 30.5,49.2 21.2,51.2 17,52.2 14,52.8 10.2,53.3 6.5,53.6 3.2,53.7 -2,53.5Z"/>
<path fill="#50ffaf" d="M-2,-2 3.9,-2 4.1,-1.5 37,37.7 37.8,39 38.3,40.2 38.6,41.5 38.6,42.8 38.4,44 38,45 37.4,46 36.5,46.9 35.9,47.2 35,47.6 30.5,48.8 21.2,50.8 17,51.8 13.8,52.4 10,52.9 6.2,53.2 3,53.3 -2,53.1Z"/>
<path fill="#70ff8f" d="M-2,-2 3.9,-2 4.1,-1.5 36.7,37.8 37.4,38.8 37.9,40 38.3,41.2 38.3,42.5 38.1,43.8 37.8,44.8 37.2,45.8 36.4,46.5 35.2,47.1 30.8,48.4 21,50.4 16.8,51.4 13.8,52 10,52.5 6.2,52.8 3,52.8 -2,52.7Z"/>
<path fill="#8fff70" d="M-2,-2 3.8,-2 4,-1.5 36.3,37.8 37,38.8 37.6,40 37.9,41 38,42.2 37.9,43.5 37.5,44.5 36.9,45.5 36.2,46.2 35,46.9 30.8,48 21,50 16.5,51.1 13.5,51.6 9.8,52.1 6.2,52.4 3,52.4 -2,52.3Z"/>
<path fill="#afff50" d="M-2,-2 3.8,-2 3.9,-1.5 36.1,38 36.8,39 37.3,40 37.6,41 37.7,42.2 37.6,43.2 37.2,44.2 36.7,45.2 35.9,46 34.8,46.6 30.5,47.7 21,49.6 16.8,50.6 13.2,51.2 9.8,51.7 6.2,52 3,52 -2,51.9Z"/>
<path fill="#cfff30" d="M-2,-2 3.7,-2 3.9,-1.5 35.8,38 36.5,39 37,40 37.2,41 37.4,42 37.3,43 37,44 36.4,45 35.8,45.7 35.2,46 34.5,46.3 30.5,47.3 20.8,49.2 16.8,50.2 13,50.9 9.5,51.3 6,51.6 3,51.6 -2,51.5Z"/>
<path fill="#efff10" d="M-2,-2 3.7,-2 3.8,-1.5 35.4,38 36.1,39 36.6,40 36.9,41 37,42 36.9,43 36.6,44 36.1,44.8 35.5,45.4 35,45.7 34.2,46 30.5,46.9 20.8,48.8 16.5,49.8 12.8,50.5 9.2,50.9 6,51.2 3,51.2 -2,51.1Z"/>
<path fill="#ffef00" d="M-2,-2 3.6,-2 3.8,-1.5 35.8,39 36.5,40.5 36.7,41.5 36.7,42.2 36.6,43 36.2,43.9 35.8,44.7 35.2,45.2 34.2,45.6 30.2,46.6 20.5,48.4 16.2,49.4 12.5,50.1 9,50.5 5.8,50.8 3,50.8 -2,50.7Z"/>
<path fill="#ffcf00" d="M-2,-2 3.6,-2 3.7,-1.5 35.4,39 36.1,40.5 36.3,41.5 36.3,42.2 36.2,43 35.9,43.8 35.5,44.4 35,44.9 34,45.3 30.2,46.2 25.6,47 20.2,48 15.8,49.1 11.8,49.8 8.8,50.2 5.5,50.4 -2,50.3Z"/>
<path fill="#ffaf00" d="M-2,-2 3.5,-2 3.8,-1.2 35.2,39.2 35.9,40.8 36,42.2 35.7,43.5 35.2,44.1 34.8,44.6 33.8,45.1 30,45.9 25.5,46.6 20,47.7 15.5,48.8 11.5,49.4 8.5,49.8 5.2,50 -2,49.9Z"/>
<path fill="#ff8f00" d="M-2,-2 3.4,-2 3.6,-1.5 10.7,7.8 34.8,39.2 35.5,40.5 35.7,41.2 35.7,42 35.4,43.2 34.6,44.2 33.8,44.7 28.5,45.8 25.2,46.3 20,47.3 15.5,48.4 11.7,49 8.5,49.4 5.2,49.6 -2,49.4Z"/>
<path fill="#ff7000" d="M-2,-2 3.4,-2 3.5,-1.5 11,8.2 34.7,39.5 35.2,40.8 35.4,42 35,43.2 34.4,44 33.5,44.4 28.5,45.4 25,45.9 19.8,46.9 15.1,48 11.8,48.5 8.5,48.8 5.2,48.9 2.8,48.9 -0.2,48.6 -2,48.5Z"/>
<path fill="#ff5000" d="M0.7,-2 3.3,-2 3.6,-1.2 11.3,8.8 34.1,39.2 34.8,40.5 35,41.8 34.8,42.9 34.1,43.8 33,44.2 29.5,44.9 24.8,45.6 15,47.4 13,47.5 10,47.5 8.8,47.3 8.2,47 8,46.1Z"/>
<path fill="#ff3000" d="M1.5,-2 3.2,-2 3.3,-1.5 11.5,9.3 33.9,39.5 34.6,40.8 34.7,41.8 34.5,42.8 33.8,43.5 32.5,43.9 28.2,44.7 24.5,45 21.8,45.4 18.2,45.5 17.5,45.4 17.1,45 1.6,-1.2Z"/>
<path fill="#ff1000" d="M2,-2 3.1,-2 3.3,-1.2 11,8.8 33.6,39.5 34.2,40.5 34.4,41.5 34.2,42.5 33.9,43 33.6,43.2 33,43.5 28.8,44.3 27,44.4 26,44.3 25.2,44.1 24.6,43.8 24.1,43.2 2.2,-1.2Z"/>
<path fill="#ef0000" d="M2.4,-2 2.9,-2 3.1,-1.2 5.8,2 10.2,8 33.4,39.8 34,40.8 34.1,41.5 34,42 33.8,42.5 33.3,43 32.8,43.2 31.2,43.5 28.2,43.8 27.5,43.7 26.8,43.5 26.4,43.2 25.9,42.8 2.8,-1Z"/>
<path fill="#cf0000" d="M3.9,0.2 4.5,0.7 5.8,2.2 9.8,7.5 33.1,39.8 33.5,40.5 33.8,41.2 33.7,42 33.2,42.6 32.8,42.9 32,43 29.8,43.2 28.5,42.9 28,42.6 27.6,42.2 5.8,3.8 4.2,1.1Z"/>
<path fill="#af0000" d="M6.2,3.4 8,5.5 12.2,11.3 32.8,39.8 33.2,40.7 33.4,41.2 33.3,41.8 33,42.3 32.2,42.6 30.8,42.6 29.8,42.2 29,41.5 8.2,7.3 6.2,3.8 6.1,3.5Z"/>
<path fill="#8f0000" d="M11.4,11 11.5,11 16,17 32.5,40.2 32.8,40.8 32.9,41.2 32.8,41.7 32.5,41.9 32,42 31.2,41.8 30.8,41.5 30.3,41 14.5,16.2 12,12.2Z"/>
</g>
<g id="f20">
<rect x="-1" y="-1" width="93" height="116.4" fill="#000080"/>
<path fill="#000089" d="M45.3,45.5 45.5,46.2 45.6,47 45.5,47.8 45.2,48.5 44.7,49.5 43.4,51.2 42.5,53 41.8,54 40.5,55.2 38.2,56.7 37,57.9 36,58.6 34.2,59.6 30.5,61.4 25,63.4 22,64.3 17.8,65.4 14.5,65.9 11.8,66.2 7.2,66.4 -2,66 -2,50.5 3.5,50.5 6.4,50.2 10.3,49.8 15.8,48.8 27.8,45.9 31.5,45.4 35,44.6 38.5,44.4 41.2,43.9 42.8,43.9 43.8,44.1 44.5,44.5Z"/>
<path fill="#000091" d="M41.3,47 41.5,48 41.4,50.8 41,52 40.1,53.2 39,54.2 37.5,55.4 36,57 35,57.7 33,58.9 29,60.8 24,62.7 21,63.6 17,64.6 13.8,65.1 10.8,65.4 6.8,65.6 -2,65.2 -2,50.9 4,50.9 10.1,50.2 16,49.2 26.8,46.8 29.5,46.4 32,46.2 35.5,45.6 37.2,45.6 38.5,45.8 40.5,46.3 41,46.6Z"/>
<path fill="#00009a" d="M39.8,48.5 40,49.2 40,50 39.9,50.8 39.4,51.8 38.7,52.8 36.8,54.5 35.5,56.2 34.2,57.2 33,58 30,59.6 27.5,60.6 23.5,62.1 20.5,63.1 17,63.9 13.2,64.6 10.2,64.9 6.8,65 -2,64.6 -2,51.2 3.2,51.2 8.7,50.8 15.3,49.8 27.5,47.2 30,46.9 32.5,46.8 35.2,46.4 37,46.5 38.2,46.8 39.2,47.5Z"/>
<path fill="#0000af" d="M38.1,48.8 38.3,49.2 38.3,50 38,51.2 37.3,52.2 36.2,53.5 35.3,55 34.4,56 32.8,57.2 29.8,58.9 27.8,59.8 23.8,61.4 21,62.3 18,63.2 15.5,63.7 12.5,64.2 9.5,64.4 6.2,64.5 -2,64.1 -2,51.4 4.2,51.4 7,51.2 10.8,50.8 15.7,50 26.8,47.7 29.8,47.4 32.8,47.5 35,47.3 36.2,47.4 37,47.7 37.5,48Z"/>
<path fill="#0000cf" d="M34.1,50.5 34.4,52 34.1,53.2 33.4,54.5 32.3,55.5 30,57.1 28.2,58.1 21.8,60.9 16.5,62.4 14,62.9 11.5,63.3 6,63.5 -2,63.2 -2,51.8 3.5,51.9 8.9,51.5 14.8,50.8 25,48.9 29,48.4 30.8,48.4 32.2,48.8 33.5,49.5 33.9,50Z"/>
<path fill="#0000ef" d="M32.7,51 32.8,52.2 32.3,53.5 31.5,54.6 29.8,56 28.3,57 26.8,57.9 22.8,59.7 20.2,60.6 15.8,61.9 13.2,62.4 11.2,62.7 6,62.9 -2,62.6 -2,52.1 3.5,52.2 9,51.8 14,51.2 24,49.6 28,49.2 30,49.2 31.2,49.5 32.1,50 32.5,50.5Z"/>
<path fill="#0010ff" d="M31.3,51.2 31.4,52.2 31.1,53 30.9,53.5 29.8,54.8 28.3,56 26.5,57.2 23,58.9 19.2,60.4 14.5,61.7 12.2,62.1 10.2,62.3 5.5,62.5 -2,62.2 -2,52.3 3.5,52.4 8.2,52.1 14.3,51.5 23.8,50.1 27.2,49.8 28.8,49.8 30,50.1 30.8,50.5Z"/>
<path fill="#0030ff" d="M29.9,51.5 30,52 30,52.5 29.5,53.5 28.6,54.8 27.4,55.8 25.9,56.8 22.5,58.5 20.5,59.4 18.5,60.1 16,60.9 13.8,61.4 12,61.7 10,61.9 5.5,62.1 -2,61.8 -2,52.5 3.5,52.6 8.2,52.3 14.2,51.8 22.8,50.6 26,50.3 27.8,50.4 28.8,50.5 29.6,51Z"/>
<path fill="#0050ff" d="M28.6,52 28.6,53 28.1,54 27.2,55 26.2,55.8 21.8,58.4 19.5,59.3 17,60.2 12.5,61.3 9,61.6 5,61.8 -2,61.5 -2,52.7 3.2,52.7 8,52.5 13.8,52 22.5,50.9 25,50.8 26.5,50.8 27.5,51 28.2,51.4Z"/>
<path fill="#0070ff" d="M27.5,52.2 27.5,53 27.1,54 26.2,54.9 25.2,55.8 22.5,57.5 21,58.2 19,59.1 16.2,60 12.2,61 8.5,61.4 4.8,61.5 -2,61.2 -2,52.8 3,52.9 7.3,52.8 13.2,52.2 20.8,51.4 24,51.2 25.5,51.2 26.5,51.4 27.1,51.8Z"/>
<path fill="#008fff" d="M26.4,52.5 26.4,53 26.3,53.5 25.7,54.5 24.9,55.2 22.8,56.8 21.5,57.6 19.8,58.4 15.8,59.9 12,60.8 8,61.1 4.5,61.2 -2,60.9 -2,52.9 3.2,53 7.2,52.9 20,51.7 23,51.5 24.5,51.6 25.4,51.8 26,52Z"/>
<path fill="#00afff" d="M25.3,52.8 25.3,53.5 24.7,54.5 23.9,55.2 22,56.8 20.8,57.5 19.2,58.2 15.2,59.7 11.8,60.5 7.8,60.9 4.5,61 -2,60.7 -2,53 3,53.1 7,53 19.5,52 22.2,51.9 24.2,52.1 24.8,52.2Z"/>
<path fill="#00cfff" d="M24.2,53 24.2,53.8 23.8,54.5 22.6,55.8 21.5,56.6 20.2,57.4 18.8,58.1 16.5,59 14.5,59.6 11.5,60.3 7.2,60.7 4.2,60.7 -2,60.5 -2,53.2 3,53.3 6.8,53.2 20.8,52.2 23.2,52.4 23.8,52.6Z"/>
<path fill="#00efff" d="M23.1,53.2 23.1,54 22.7,54.8 21.9,55.8 20.9,56.5 19.7,57.2 18.2,58 16,58.9 14,59.5 11.5,60.1 7,60.5 4,60.5 -2,60.3 -2,53.3 3,53.4 6.8,53.3 20,52.5 21.2,52.5 22.2,52.7 22.9,53Z"/>
<path fill="#10ffef" d="M22.2,53.5 22.2,54.2 21.8,55 21.2,55.8 20.2,56.5 19,57.2 17.2,58.1 15.5,58.8 13.5,59.4 11,59.9 6.5,60.3 3.8,60.3 -2,60.1 -2,53.3 3,53.5 6.2,53.4 19.2,52.7 21.2,52.9 21.8,53.1Z"/>
<path fill="#30ffcf" d="M21.4,53.8 21.4,54.5 20.9,55.2 20.2,56 19.2,56.7 17.8,57.5 16.1,58.2 12.8,59.3 10.2,59.8 6.2,60.1 -2,59.9 -2,53.4 6,53.5 18.5,52.9 20.5,53.1 21,53.3Z"/>
<path fill="#50ffaf" d="M20.6,54 20.6,54.5 20.2,55.2 19.5,56 18.5,56.8 15.5,58.2 12.2,59.2 9.8,59.6 6.2,59.9 -2,59.7 -2,53.5 4.8,53.6 18,53.2 19.2,53.2 20,53.4 20.5,53.7Z"/>
<path fill="#70ff8f" d="M19.9,54.2 19.8,54.8 19.4,55.5 18.5,56.2 17.8,56.8 15.2,58 12,59.1 9.2,59.5 6,59.7 -2,59.5 -2,53.6 4.5,53.7 13.2,53.4 17.2,53.4 18.5,53.5 19.2,53.6 19.8,54Z"/>
<path fill="#8fff70" d="M-2,59.3 -2,53.7 4.2,53.8 11.8,53.6 16.5,53.5 17.8,53.6 18.5,53.8 18.8,54 19.1,54.5 19,55 18.7,55.5 18.2,56 17.1,56.8 14.6,58 11.8,58.9 9,59.3 6,59.5Z"/>
<path fill="#afff50" d="M18.3,54.5 18.3,55 18,55.5 17.5,56 16.5,56.8 14.5,57.8 11.8,58.7 9,59.1 6,59.4 -2,59.1 -2,53.8 4.2,53.9 11.2,53.7 15.2,53.7 17.5,53.9 18.2,54.2Z"/>
<path fill="#cfff30" d="M-2,59 -2,53.9 4,54 11.2,53.8 14.5,53.8 16.8,54.1 17.2,54.3 17.6,54.8 17.4,55.2 17.1,55.8 15.9,56.8 13.9,57.8 11.5,58.6 8.8,58.9 6,59.2Z"/>
<path fill="#efff10" d="M-2,58.8 -2,54 4,54.1 11,53.9 13.8,54 16,54.2 16.6,54.5 16.8,54.8 16.7,55.2 16.4,55.8 15.3,56.8 13.3,57.8 11.2,58.4 8.5,58.8 5.8,59Z"/>
<path fill="#ffef00" d="M-2,58.6 -2,54 4,54.2 11,54 13.2,54.1 15.2,54.4 15.8,54.6 16.1,55 16.1,55.2 15.8,55.8 14.7,56.8 12.8,57.7 11,58.2 8.2,58.6 5.8,58.8Z"/>
<path fill="#ffcf00" d="M-2,58.5 -2,54.1 4,54.3 12.2,54.2 14.6,54.5 15.2,54.8 15.4,55 15.4,55.2 15.2,55.8 14.4,56.5 12.6,57.5 11,58 8.2,58.4 5.8,58.6Z"/>
<path fill="#ffaf00" d="M-2,58.3 -2,54.2 4,54.4 11.8,54.3 14,54.6 14.5,54.9 14.7,55.2 14.7,55.5 14.4,56 13.4,56.8 11.9,57.5 10.5,57.9 5.8,58.4Z"/>
<path fill="#ff8f00" d="M-2,58.1 -2,54.3 3.8,54.5 11.2,54.4 13.3,54.8 13.8,55 14,55.2 14,55.5 13.8,56 12.8,56.8 11.5,57.4 9.9,57.8 5.5,58.3Z"/>
<path fill="#ff7000" d="M-2,57.9 -2,54.4 3.8,54.6 11,54.6 12.8,54.9 13.2,55.2 13.4,55.5 13.3,55.8 12.9,56.2 11.8,57 10.8,57.3 8.5,57.8 5,58.1Z"/>
<path fill="#ff5000" d="M-2,57.7 -2,54.5 3.5,54.7 10.9,54.8 12.1,55 12.6,55.2 12.7,55.5 12.6,55.8 12.3,56.2 11.5,56.8 10.2,57.2 8,57.6 4.8,57.9Z"/>
<path fill="#ff3000" d="M-2,57.5 -2,54.6 10.5,54.9 11.5,55.1 11.8,55.2 12,55.5 11.9,56 11,56.6 9.7,57 7,57.5 4,57.7Z"/>
<path fill="#ff1000" d="M-2,57.3 -2,54.7 10,55.2 11,55.4 11.2,55.5 11.3,55.8 10.8,56.2 10.2,56.5 8.3,57 6.2,57.4 3.5,57.5Z"/>
<path fill="#ef0000" d="M-2,57.1 -2,54.8 8,55.2 9.7,55.5 10,55.8 9.9,56 8.8,56.5 6,57.1 3,57.2Z"/>
<path fill="#cf0000" d="M-2,55 6.2,55.3 7.8,55.6 8.3,55.8 8.3,56 7.3,56.5 5.5,56.9 2.8,56.9 -2,56.9Z"/>
<path fill="#af0000" d="M-2,55.1 0,55.2 5.2,55.5 6.4,55.8 6.6,56 6.2,56.3 5,56.5 2.2,56.6 -2,56.6Z"/>
<path fill="#8f0000" d="M-2,55.4 0.5,55.5 2.1,55.8 2.5,56 0.8,56.1 -2,56.1Z"/>
</g>
<g id="f21">
<rect x="-1" y="-1" width="93" height="116.4" fill="#000080"/>
<path fill="#000089" d="M-2,-2 2.6,-2 2.8,-1.1 7.2,12.4 18.4,44.8 18.7,46.2 18.6,48.2 17.9,50.2 17.1,51.5 16.3,52.5 14.2,54.4 11.8,55.9 8.8,57.1 5.8,57.9 2.2,58.4 -2,58.4Z"/>
<path fill="#000091" d="M-2,-2 2.4,-2 2.8,-0.7 7,12.1 18.1,44.8 18.5,46.2 18.5,47.2 18.4,48.2 18.1,49.2 17.7,50.2 17.1,51.2 16.3,52.2 15.5,53.1 14.2,54.2 12,55.6 9,56.9 6.2,57.7 3,58.2 -2,58.3Z"/>
<path fill="#00009a" d="M-2,-2 2.3,-2 2.5,-1.1 6.8,11.8 17.9,44.5 18.4,46.5 18.4,47.5 18.1,48.8 17.4,50.5 15.9,52.5 15,53.4 13.8,54.4 11.2,55.8 8.8,56.9 5.8,57.7 2.2,58.1 -2,58.2Z"/>
<path fill="#0000af" d="M-2,-2 2.2,-2 2.5,-0.8 6.8,12.1 17.9,45 18.2,46.5 18.2,47.5 18.1,48.5 17.6,49.8 17.1,50.8 16.4,51.8 15.5,52.8 13.5,54.4 11,55.9 8.2,56.9 5.2,57.7 1.5,58.1 -2,58.1Z"/>
<path fill="#0000cf" d="M-2,-2 2.1,-2 2.2,-1.1 6.5,11.9 17.6,45 17.9,46.8 17.9,47.8 17.7,48.8 17.4,49.8 16.8,50.8 16.1,51.8 15.2,52.7 13.2,54.3 11,55.6 8.5,56.7 5.8,57.4 2,57.9 -2,57.9Z"/>
<path fill="#0000ef" d="M-2,-2 1.9,-2 2.2,-0.7 5.8,10.1 17.4,45 17.7,46.5 17.6,48.2 17.3,49.2 16.9,50.2 15.7,52 13.8,53.8 11.8,55.1 9,56.3 6.2,57.1 2.8,57.7 -2,57.8Z"/>
<path fill="#0010ff" d="M-2,-2 1.8,-2 2,-1.2 5.2,8.9 17.2,45 17.5,46.8 17.5,47.8 17.3,48.8 16.6,50.5 15.3,52.2 13.5,53.9 11,55.4 8.5,56.4 5.8,57.2 2.2,57.6 -2,57.7Z"/>
<path fill="#0030ff" d="M-2,-2 1.7,-2 2,-0.9 17.1,45.2 17.4,46.8 17.4,47.8 17.2,48.8 16.8,49.8 16.3,50.8 14.9,52.5 13,54.1 10.8,55.4 8.2,56.4 5.5,57.1 2,57.6 -2,57.6Z"/>
<path fill="#0050ff" d="M-2,-2 1.7,-2 2,-0.6 16.9,45.2 17.2,46.8 17.1,48.5 16.8,49.5 16.3,50.5 15,52.2 13.2,53.8 11.2,55.1 8.8,56.2 6.2,56.9 2.8,57.4 -2,57.5Z"/>
<path fill="#0070ff" d="M-2,-2 1.6,-2 1.8,-1.2 16.7,45 16.9,46 17.1,47 16.9,48.8 16.2,50.5 14.9,52.2 13,53.9 10.5,55.4 8,56.3 5,57.1 2.5,57.4 -2,57.5Z"/>
<path fill="#008fff" d="M-2,-2 1.5,-2 1.7,-1 16.6,45.2 16.9,47 16.8,48.8 16.1,50.5 14.8,52.2 13,53.8 10.8,55.2 8.2,56.2 5.5,56.9 2.2,57.4 -2,57.4Z"/>
<path fill="#00afff" d="M-2,-2 1.5,-2 1.6,-1.2 16.5,45.5 16.8,47 16.8,48 16.6,49 15.8,50.8 14.4,52.5 12.8,53.9 10.2,55.3 7.8,56.3 5.2,56.9 2,57.3 -2,57.4Z"/>
<path fill="#00cfff" d="M-2,-2 1.4,-2 1.5,-1.2 16.3,45.2 16.5,46.2 16.7,47.2 16.5,49 15.7,50.8 14.3,52.5 12.5,54 10,55.4 7.5,56.3 5,56.9 1.8,57.3 -2,57.3Z"/>
<path fill="#00efff" d="M-2,-2 1.3,-2 1.5,-1.2 16.2,45.7 16.5,47.2 16.5,48.2 16.4,49 15.6,50.8 14.2,52.5 12.5,53.9 10.5,55.1 8,56.1 5.2,56.8 2.2,57.2 -2,57.3Z"/>
<path fill="#10ffef" d="M-2,-2 1.3,-2 1.4,-1.2 16,45.5 16.4,47.2 16.4,48 16.2,49 15.5,50.8 14.3,52.2 12.5,53.8 10.2,55.1 7.8,56.1 5,56.8 2.2,57.2 -2,57.2Z"/>
<path fill="#30ffcf" d="M-2,-2 1.2,-2 1.3,-1.2 16,46.1 16.2,47.5 16.2,48.2 16,49.2 15.2,51 14,52.5 12.1,54 10.2,55.1 7.8,56.1 5,56.8 2.2,57.1 -2,57.2Z"/>
<path fill="#50ffaf" d="M-2,-2 1.1,-2 1.3,-1 15.8,46 16.1,47.5 16,48.5 15.9,49.2 15.5,50.2 15.1,51 13.9,52.5 12,54 9.7,55.2 7.5,56.1 4.8,56.8 2,57.1 -2,57.1Z"/>
<path fill="#70ff8f" d="M-2,-2 1.1,-2 1.2,-1.2 15.8,46.8 15.9,47.8 15.7,49.2 15.5,50 15,51 13.7,52.5 11.9,54 9.6,55.2 7.5,56 4.8,56.7 2,57 -2,57.1Z"/>
<path fill="#8fff70" d="M-2,-2 1,-2 1.2,-1 14.6,45 15.5,47.1 15.7,48 15.5,49.5 14.8,51.1 13.4,52.8 11.8,54 10,55 7.5,56 5,56.6 2,57 -2,57Z"/>
<path fill="#afff50" d="M-2,-2 0.9,-2 1.1,-0.8 6.8,20 13.5,46 13.8,46.5 15,47.4 15.2,47.8 15.4,48.5 15.2,49.8 15,50.5 14.4,51.5 13,53 11.3,54.2 9.3,55.2 7.2,56 4.8,56.6 2,56.9 -2,57Z"/>
<path fill="#cfff30" d="M-2,-2 0.8,-2 0.9,-1.2 3.8,10.7 11.7,46 11.8,46.5 12.3,47 14.8,48.4 15,48.7 15.1,49 15,49.8 14.8,50.5 14,51.8 12.8,53 11.1,54.2 9.2,55.2 7.1,56 4.8,56.6 2,56.9 -2,56.9Z"/>
<path fill="#efff10" d="M-2,-2 0.6,-2 2.2,6.3 9.7,46.8 10.1,47.2 10.4,47.5 14.2,49.1 14.5,49.3 14.6,49.8 14.6,50.2 14.3,51 13.4,52.2 12.1,53.5 10.6,54.5 9,55.2 6.9,56 4.8,56.5 2,56.9 -2,56.9Z"/>
<path fill="#ffef00" d="M-2,-2 0.4,-2 1.8,7.4 7.1,47 7.3,47.5 7.8,47.8 13.5,49.8 14,50.1 14.1,50.5 13.8,51.5 12.8,52.8 11.6,53.8 9.9,54.8 8.3,55.5 6.7,56 4.5,56.5 2.2,56.8 -2,56.8Z"/>
<path fill="#ffcf00" d="M-2,-2 -0.2,-2 0.5,9.1 2.3,47.2 2.7,47.8 3.2,48 9,49.4 12.8,50.5 13.3,50.8 13.5,50.9 13.6,51.2 13,52.2 12.1,53.2 10.7,54.2 9.3,55 7.4,55.8 5.5,56.2 2.1,56.8 -2,56.8Z"/>
<path fill="#ffaf00" d="M-2,56.7 -2,49.2 2.2,49.4 6,49.8 11,50.9 12.5,51.4 12.8,51.5 12.9,51.8 12.6,52.5 11.2,53.8 9.6,54.8 7.1,55.8 5.3,56.2 3.2,56.6 1,56.8Z"/>
<path fill="#ff8f00" d="M-2,56.7 -2,50.3 2,50.4 5.5,50.7 9.5,51.5 11.5,52 12,52.2 12.1,52.5 11.8,53 10.7,54 8.9,55 6.9,55.8 4.9,56.2 3.2,56.5 0.8,56.7Z"/>
<path fill="#ff7000" d="M-2,56.6 -2,51.3 2.2,51.4 5.5,51.7 10,52.5 11,52.8 11.2,53 11.1,53.2 10.7,53.8 9.6,54.5 8.1,55.2 5.7,56 2.5,56.5Z"/>
<path fill="#ff5000" d="M-2,56.6 -2,52.2 1.8,52.2 4.8,52.5 8.5,53 9.8,53.3 10.1,53.5 10.1,53.8 9.9,54 8.8,54.8 7.1,55.5 5.4,56 2.1,56.5Z"/>
<path fill="#ff3000" d="M-2,56.5 -2,53 2,53.1 5,53.3 8.2,53.8 8.8,54 9,54.2 8.4,54.8 7.4,55.2 4.9,56 3.6,56.2 1.5,56.5Z"/>
<path fill="#ff1000" d="M-2,56.4 -2,53.9 1.8,53.9 4.2,54.1 7,54.5 7.5,54.8 7.3,55 6.2,55.5 4.4,56 1.5,56.3Z"/>
<path fill="#ef0000" d="M-2,56.3 -2,54.7 3.5,54.9 5,55 5.6,55.2 5.3,55.5 3.4,56 1.1,56.2Z"/>
<path fill="#cf0000" d="M-2,56 -2,55.5 0.8,55.6 2,55.8 0.2,56Z"/>
</g>
<g id="f22">
<rect x="-1" y="-1" width="93" height="116.4" fill="#000080"/>
<path fill="#000089" d="M-2,-2 3.4,-2 3.8,-1.2 8.8,6.5 30.8,39.8 31.8,41.8 32.5,43.5 33,45.5 33.3,47.5 33.3,49.8 32.9,52.2 32.3,54.5 31.3,56.8 30.1,59 28.5,61.2 26.7,63.2 24.6,65.2 22.2,67.1 19.8,68.7 17,70.1 14.5,71.1 11.8,72.1 8.8,72.9 5.8,73.4 2.5,73.7 -2,73.8Z"/>
<path fill="#000090" d="M-2,-2 3.2,-2 3.5,-1.1 7,4.5 29.9,40.2 30.7,42 31.5,44 31.9,45.8 32.1,47.8 32.1,50 31.8,52.2 31.1,54.5 30.2,56.8 28.9,59 27.4,61 25.6,63 23.7,64.8 21.5,66.4 19.2,67.9 16.8,69.2 14,70.4 11.2,71.3 8.2,72.1 5.2,72.6 2.2,72.9 -2,72.9Z"/>
<path fill="#000094" d="M-2,-2 3,-2 3.2,-1.2 5.8,3 28.9,40.8 29.8,42.5 30.4,44.2 30.8,46 31,47.8 31,50 30.6,52.2 30,54.5 29.1,56.5 28,58.5 26.5,60.5 24.8,62.5 22.8,64.2 20.8,65.8 18.5,67.3 16,68.6 13.5,69.6 10.8,70.6 8,71.2 5,71.7 2.2,72 -2,72Z"/>
<path fill="#00009a" d="M-2,-2 3,-2 3.2,-1.2 5.8,3.1 28.7,40.8 29.6,42.5 30.2,44.2 30.6,46 30.8,47.8 30.8,50 30.5,52.2 29.8,54.5 28.9,56.5 27.8,58.5 26.3,60.5 24.8,62.3 22.8,64.1 20.7,65.8 18.5,67.1 16,68.4 13.5,69.5 10.8,70.4 8,71.1 5.2,71.6 2.2,71.8 -2,71.9Z"/>
<path fill="#00009f" d="M-2,-2 2.8,-2 3,-1.3 5.2,2.8 27.4,41.2 28.1,42.8 28.7,44.5 29.1,46 29.3,47.8 29.3,49.8 29,52 28.4,54 27.6,56 26.5,58 25.2,59.8 23.7,61.5 21.8,63.2 20,64.7 17.9,66 15.6,67.2 13.2,68.2 10.8,69.1 8,69.8 5.2,70.3 2.5,70.5 -2,70.6Z"/>
<path fill="#0000a4" d="M-2,-2 2.8,-2 3,-1.2 5.2,2.8 27.4,41.5 28.1,43 28.6,44.5 28.9,46 29.2,47.8 29.2,49.8 28.9,51.8 28.4,53.8 27.5,55.9 26.5,57.8 25.1,59.8 23.5,61.5 21.8,63.2 19.8,64.7 17.7,66 15.5,67.2 13,68.2 10.5,69 8,69.7 5.2,70.1 2.5,70.4 -2,70.5Z"/>
<path fill="#0000ae" d="M-2,-2 2.6,-2 3,-0.9 5.5,3.9 26,42 27.1,44.8 27.4,46.2 27.6,47.8 27.6,49.8 27.3,51.8 26.8,53.8 26.1,55.5 25.1,57.2 23.9,59 22.3,60.8 20.8,62.2 19,63.6 17,64.8 14.8,66 12.5,66.9 10.2,67.6 7.8,68.3 5.2,68.7 2.5,68.9 -2,69Z"/>
<path fill="#0000b9" d="M-2,-2 2.5,-2 2.8,-1.1 24.6,42.8 25.5,45.2 25.9,47.8 25.9,49.5 25.7,51.2 25.3,53 24.6,54.8 23.8,56.4 22.7,58 21.2,59.6 19.8,61 18,62.4 16.2,63.5 14.2,64.5 12.2,65.3 10,66 7.8,66.6 5.2,67 2.8,67.2 -2,67.3Z"/>
<path fill="#0000bf" d="M-2,-2 2.4,-2 2.5,-1.4 23.4,43.2 24.2,45.5 24.5,47.8 24.6,49.2 24.4,51 23.9,52.8 23.3,54.2 22.6,55.8 21.5,57.2 20.5,58.5 19,59.9 17.5,61.1 15.8,62.2 14,63.1 12.2,63.8 8.5,64.9 6.2,65.4 3.8,65.7 1,65.8 -2,65.8Z"/>
<path fill="#0000c4" d="M-2,-2 2.4,-2 2.5,-1.4 23.3,43.2 24.1,45.5 24.4,47.5 24.5,49.2 24.3,50.8 23.9,52.5 23.4,54 22.6,55.5 21.6,57 20.4,58.5 19,59.8 17.2,61.2 15.8,62.1 13.8,63.1 12,63.8 8.2,64.9 5.8,65.4 3.5,65.6 1,65.7 -2,65.7Z"/>
<path fill="#0000ce" d="M-2,-2 2.3,-2 2.5,-1.2 22.6,43.2 23.4,45.5 23.8,47.8 23.8,49.2 23.6,51 23.2,52.5 22.6,54 21.8,55.5 21,56.8 19.8,58.2 18.5,59.4 17,60.5 15.5,61.5 13.8,62.4 12,63.1 10,63.7 8,64.2 5.8,64.6 3.5,64.9 1,65 -2,65Z"/>
<path fill="#0000d9" d="M-2,-2 2.2,-2 2.5,-0.9 22.1,43.5 22.8,45.5 23.1,47.5 23.1,49 23,50.5 22.7,52 22.1,53.5 21.4,55 20.5,56.2 19.5,57.5 18.2,58.8 16.8,59.9 15.2,60.9 13.8,61.6 12,62.4 10,63 8,63.5 3.8,64.2 1,64.3 -2,64.3Z"/>
<path fill="#0000df" d="M-2,-2 2.1,-2 2.5,-0.7 21.5,43.8 22.1,45.5 22.5,47.5 22.5,49 22.3,50.5 22,51.9 21.5,53.2 20.8,54.7 19.9,56 18.8,57.2 17.8,58.3 16.5,59.3 15,60.3 13.5,61 11.8,61.8 10,62.4 8,62.9 4,63.5 1.2,63.6 -2,63.6Z"/>
<path fill="#0000e4" d="M-2,-2 2.1,-2 2.5,-0.7 21.5,43.8 22,45.5 22.4,47.5 22.4,49 22.3,50.5 21.9,52 21.5,53.2 20.8,54.6 19.8,56 18.8,57.2 17.7,58.2 16.5,59.2 15,60.2 13.5,61 11.8,61.7 10,62.3 8,62.8 4,63.4 1.2,63.6 -2,63.6Z"/>
<path fill="#0000ee" d="M-2,-2 2.1,-2 2.2,-1.1 4.5,4.5 20.9,44 21.5,45.8 21.8,47.5 21.8,49 21.7,50.2 21.4,51.8 20.9,53 20.3,54.2 19.5,55.5 18.4,56.8 17.2,57.9 16,58.9 14.6,59.8 13,60.6 11.5,61.2 8,62.2 4,62.8 1.2,62.9 -2,62.9Z"/>
<path fill="#0000f9" d="M-2,-2 2,-2 2.2,-0.9 4.2,4.2 20.4,44.2 20.9,45.8 21.2,47.5 21.2,49 21,50.2 20.8,51.5 20.2,52.9 19.7,54 18.8,55.2 17.8,56.5 16.8,57.5 15.5,58.4 14.2,59.2 11.2,60.6 8,61.5 4.2,62.1 1.2,62.3 -2,62.3Z"/>
<path fill="#0000ff" d="M-2,-2 1.9,-2 2.2,-0.7 4.2,4.5 19.7,44.2 20.2,45.8 20.5,47.2 20.6,48.5 20.5,49.8 20.2,51 19.8,52.4 19.2,53.5 18.4,54.8 17.5,55.9 16.5,56.8 15.2,57.8 14,58.6 11.2,59.9 8,60.9 4.2,61.5 1.2,61.6 -2,61.6Z"/>
<path fill="#0005ff" d="M-2,-2 1.9,-2 2.2,-0.7 4.2,4.6 19.7,44.2 20.2,45.8 20.4,47.2 20.5,48.5 20.4,49.8 20.2,51 19.7,52.2 19.2,53.5 18.3,54.8 17.5,55.8 16.5,56.8 15.3,57.8 14.1,58.5 11.2,59.9 8,60.8 4.2,61.4 1.2,61.6 -2,61.6Z"/>
<path fill="#000fff" d="M-2,-2 1.9,-2 2,-1.2 4,4.2 19.2,44.5 19.6,46 19.9,47.2 19.9,48.5 19.8,49.8 19.5,51 19.1,52.2 18.5,53.4 17.8,54.5 16,56.4 13.8,58 11,59.3 7.8,60.3 4.2,60.8 1.2,61 -2,61Z"/>
<path fill="#001aff" d="M-2,-2 1.8,-2 2,-1.1 4,4.6 18.6,44.8 19,46 19.2,47.2 19.3,48.5 19.2,49.8 18.9,51 18.5,52 18,53 17.2,54.2 15.5,56 13.2,57.6 10.8,58.8 7.8,59.7 4.2,60.2 1.2,60.4 -2,60.4Z"/>
<path fill="#001fff" d="M-2,-2 1.8,-2 2,-0.9 18,44.8 18.4,46 18.6,47.2 18.5,49.5 18.3,50.8 17.9,51.8 16.8,53.8 15.9,54.8 15,55.6 13,57.1 10.5,58.2 7.5,59.1 4.2,59.6 1.2,59.8 -2,59.8Z"/>
<path fill="#0025ff" d="M-2,-2 1.8,-2 2,-0.9 17.9,44.8 18.3,46 18.5,47.2 18.5,49.5 18.2,50.8 17.8,51.8 16.7,53.8 15,55.6 13,57 10.5,58.2 7.5,59.1 4.2,59.6 1.2,59.8 -2,59.8Z"/>
<path fill="#002fff" d="M-2,-2 1.7,-2 2,-0.8 17.4,45 18,47.2 18,48.5 17.9,49.5 17.3,51.5 16.8,52.5 16.2,53.5 14.5,55.3 12.5,56.7 10,57.8 7.2,58.6 4,59.1 1.2,59.3 -2,59.3Z"/>
<path fill="#003aff" d="M-2,-2 1.7,-2 1.8,-1.4 16.9,45 17.4,47.2 17.3,49.2 17.1,50.2 16.7,51.5 15.6,53.2 14,55 12,56.3 9.8,57.4 7,58.1 3.8,58.6 1,58.8 -2,58.8Z"/>
<path fill="#003fff" d="M-2,-2 1.6,-2 1.8,-1.3 16.4,45 16.9,47.2 16.9,49.2 16.3,51.2 15.3,53 13.8,54.6 12,55.9 9.8,56.9 7.2,57.7 4,58.2 1.2,58.4 -2,58.4Z"/>
<path fill="#0045ff" d="M-2,-2 1.6,-2 1.8,-1.3 16.4,45 16.9,47.2 16.9,48.5 16.8,49.5 16.1,51.5 15,53.2 13.5,54.8 11.5,56.1 9.2,57.1 6.5,57.8 3.8,58.2 1,58.4 -2,58.4Z"/>
<path fill="#004fff" d="M-2,-2 1.6,-2 1.8,-1.1 16.1,45.2 16.5,47.2 16.5,49.2 15.9,51.2 14.8,53 13.2,54.6 11.2,55.9 9,56.8 6.2,57.5 3.5,57.9 1,58.1 -2,58.1Z"/>
<path fill="#0059ff" d="M-2,-2 1.6,-2 1.8,-1 15.8,45.5 16.2,47.2 16.1,49.2 15.6,51 14.6,52.8 13,54.3 11.2,55.5 9,56.5 6.5,57.2 3.5,57.6 1,57.8 -2,57.8Z"/>
<path fill="#005fff" d="M-2,-2 1.5,-2 1.8,-0.8 15.5,45.5 15.9,47.2 15.8,49.2 15.2,51 14.1,52.8 12.8,54.1 11,55.3 8.8,56.3 6.2,57 3.2,57.4 0.8,57.5 -2,57.5Z"/>
<path fill="#0065ff" d="M-2,-2 1.5,-2 1.8,-0.8 15.5,45.5 15.8,47.2 15.7,49.2 15.2,51 14.1,52.8 12.8,54.1 11,55.3 8.8,56.3 6.2,56.9 3.2,57.4 1,57.5 -2,57.5Z"/>
<path fill="#006fff" d="M-2,-2 1.5,-2 1.8,-0.7 15.1,45.5 15.5,47.2 15.5,48.2 15.4,49.2 14.9,51 13.9,52.5 12.4,54 10.8,55.1 8.5,56.1 6,56.7 3.2,57.1 1,57.2 -2,57.2Z"/>
<path fill="#0079ff" d="M-2,-2 1.5,-2 1.8,-0.5 14.8,45.5 15.2,47.2 15.1,49 14.6,50.8 13.7,52.2 12.2,53.8 10.5,54.9 8.2,55.9 5.8,56.5 3,56.9 -2,57Z"/>
<path fill="#007fff" d="M-2,-2 1.4,-2 1.8,-0.4 3.5,6.2 14.5,45.8 14.9,47.5 14.7,49.2 14.1,51 13.1,52.5 11.7,53.8 10,54.8 8,55.6 5.5,56.3 2.8,56.6 -2,56.7Z"/>
<path fill="#0084ff" d="M-2,-2 1.4,-2 1.8,-0.3 3.5,6.2 14.5,45.8 14.8,47.5 14.7,49.2 14.1,51 13,52.5 11.7,53.8 10,54.8 7.8,55.7 5.5,56.3 2.8,56.6 -2,56.7Z"/>
<path fill="#008fff" d="M-2,-2 1.4,-2 1.5,-1.2 3,4.6 14.2,45.8 14.5,47.5 14.4,49.2 13.9,50.8 12.9,52.2 11.5,53.6 9.8,54.6 7.8,55.4 5.5,56 2.8,56.4 -2,56.5Z"/>
<path fill="#0099ff" d="M-2,-2 1.4,-2 1.5,-1.1 3,4.9 13.9,45.8 14.2,47.5 14,49.2 13.5,50.8 12.5,52.2 11.1,53.5 9.4,54.5 7.5,55.2 5.2,55.8 2.5,56.1 -2,56.2Z"/>
<path fill="#009fff" d="M-2,-2 1.3,-2 1.5,-0.9 3,5.1 13.5,45.8 13.8,47.5 13.7,49.2 13.1,50.8 12.2,52 10.9,53.2 9.2,54.3 7.2,55 5,55.6 2.5,55.9 -2,56Z"/>
<path fill="#00a4ff" d="M-2,-2 1.3,-2 1.5,-0.9 3,5.2 13.5,45.8 13.8,47.5 13.7,49.2 13.1,50.8 12.2,52 10.9,53.2 9.2,54.2 7.2,55 5,55.6 2.5,55.9 -2,56Z"/>
<path fill="#00b4ff" d="M-2,-2 1.3,-2 1.5,-0.8 3,5.4 13.2,45.8 13.5,47.5 13.4,49 12.9,50.5 11.8,52 10.5,53.2 9,54.1 7,54.9 4.8,55.4 2.2,55.7 -2,55.7Z"/>
<path fill="#00cfff" d="M-2,-2 1.3,-2 1.5,-0.5 3,6 12.6,46 12.8,47.5 12.7,49 12.1,50.5 11.2,51.8 10,52.8 8.4,53.8 6.5,54.5 4.5,54.9 2,55.2 -2,55.3Z"/>
<path fill="#00efff" d="M-2,-2 1.2,-2 2.2,3.4 11.8,47.5 11.7,49 11.2,50.2 10.5,51.2 9.2,52.3 7.8,53.2 6,53.9 3.8,54.4 1.5,54.6 -2,54.6Z"/>
<path fill="#10ffef" d="M-2,-2 1.1,-2 1.5,0.3 11,47.5 10.9,48.8 10.5,50 9.7,51 8.5,52.1 7,52.9 5.5,53.4 3.5,53.9 1.5,54.1 -2,54.1Z"/>
<path fill="#30ffcf" d="M-2,-2 1,-2 2,3.4 10.5,47.5 10.4,48.8 9.9,50 9.1,51 8,51.9 6.8,52.6 5,53.2 3.2,53.6 1.2,53.8 -2,53.8Z"/>
<path fill="#50ffaf" d="M-2,-2 1,-2 2.8,8.1 10,47.5 9.9,48.8 9.5,49.8 8.8,50.8 7.8,51.6 6.5,52.3 5,52.9 3.2,53.2 1.2,53.5 -2,53.5Z"/>
<path fill="#70ff8f" d="M-2,-2 0.9,-2 2.8,8.9 9.6,47.5 9.5,48.5 9.2,49.5 8.5,50.5 7.5,51.3 6.2,52.1 4.8,52.6 3,53 1.2,53.2 -2,53.2Z"/>
<path fill="#8fff70" d="M-2,-2 0.9,-2 2.8,9.7 9.1,47.5 9.1,48.5 8.7,49.5 8,50.5 7,51.2 5.8,51.9 4.5,52.4 2.8,52.8 1,52.9 -2,52.9Z"/>
<path fill="#afff50" d="M-2,-2 0.8,-2 8.7,47.5 8.6,48.5 8.3,49.5 7.7,50.2 6.8,51 5.5,51.7 4.2,52.2 2.8,52.5 1,52.7 -2,52.7Z"/>
<path fill="#cfff30" d="M-2,-2 0.8,-2 8.3,47.5 8.2,48.5 7.9,49.2 7.4,50 6.5,50.8 5.2,51.5 4,51.9 2.5,52.3 1,52.4 -2,52.4Z"/>
<path fill="#efff10" d="M-2,-2 0.7,-2 7.8,47.8 7.7,48.8 7.3,49.5 6.8,50.2 6,50.8 5,51.3 3.8,51.7 2.2,52.1 0.8,52.2 -2,52.2Z"/>
<path fill="#ffef00" d="M-2,-2 0.6,-2 7.4,47.8 7.3,48.5 7,49.3 6.4,50 5.5,50.7 4.5,51.2 3.2,51.6 0.8,52 -2,52Z"/>
<path fill="#ffcf00" d="M-2,-2 0.6,-2 7,47.8 7,48.5 6.6,49.2 6,50 5.3,50.5 4.3,51 3.2,51.4 0.8,51.7 -2,51.7Z"/>
<path fill="#ffaf00" d="M-2,-2 0.5,-2 6.6,47.5 6.6,48.2 6.4,49 5.8,49.8 5.2,50.2 4.3,50.8 3.2,51.1 2,51.4 0.8,51.5 -2,51.5Z"/>
<path fill="#ff8f00" d="M-2,-2 0.5,-2 6.3,47.5 6.2,48.2 6,49 5.5,49.6 4.8,50.2 3.8,50.7 2.8,51 0.5,51.3 -2,51.3Z"/>
<path fill="#ff7000" d="M-2,-2 0.4,-2 5.9,47.5 5.9,48.2 5.7,48.8 5.2,49.5 4.6,50 3.8,50.4 2.8,50.8 0.5,51.1 -2,51.1Z"/>
<path fill="#ff5000" d="M-2,-2 0.4,-2 5.5,47.5 5.5,48.2 5.3,48.8 5,49.2 4.4,49.8 3.6,50.2 2.8,50.5 0.5,50.9 -2,50.9Z"/>
<path fill="#ff3000" d="M-2,-2 0.3,-2 5.1,47.5 5.1,48.2 4.9,48.8 4.6,49.2 4,49.7 2.5,50.4 0.5,50.7 -2,50.7Z"/>
<path fill="#ff1000" d="M-2,-2 0.2,-2 4.7,47.5 4.7,48.2 4.5,48.7 3.8,49.5 2.2,50.2 0.2,50.5 -2,50.5Z"/>
<path fill="#ef0000" d="M-2,-2 0.1,-2 1.2,10.7 4.3,47.5 4.1,48.5 3.5,49.2 2.8,49.7 2,49.9 0.2,50.2 -2,50.2Z"/>
<path fill="#cf0000" d="M-2,-2 0,-2 1.2,13.3 3.6,47.5 3.5,48.5 2.8,49.2 1.5,49.7 0.2,49.9 -2,49.9Z"/>
<path fill="#af0000" d="M-2,-2 -0.1,-2 1,13.7 2.9,47.2 2.8,48.2 2.5,48.8 1.6,49.2 0.2,49.5 -2,49.5Z"/>
<path fill="#8f0000" d="M-2,-2 -0.3,-2 0.5,11.3 2,47 2,48 1.6,48.5 1,48.8 0,49 -2,49Z"/>
</g>
<g id="f30">
<rect x="-1" y="-1" width="93" height="116.4" fill="#000080"/>
<path fill="#000089" d="M-2,-2 3.2,-2 3.2,-1.7 8.2,9 24.9,43.5 25.4,44.8 25.6,46.2 25.6,47.8 25.4,49 24.9,50.2 24.2,51.2 23.2,52.2 22,52.9 17.2,54.2 14.8,54.6 7,55.7 4,55.9 -2,55.9Z"/>
<path fill="#000091" d="M-2,-2 3.1,-2 3.2,-1.4 7.2,7.3 24.7,43.5 25.1,44.8 25.4,46.2 25.4,47.8 25.2,49 24.6,50.2 23.9,51.2 23,52.1 22,52.6 17.5,53.9 11.8,54.9 5,55.6 2,55.7 -2,55.7Z"/>
<path fill="#00009a" d="M-2,-2 3,-2 3.8,0 8.5,10.2 24.6,43.8 25.1,45.2 25.3,46.5 25.3,47.5 25.1,48.8 24.6,50 23.9,51 23,51.9 22,52.5 20.8,52.9 17.8,53.6 12.2,54.6 5.5,55.4 1.8,55.5 -2,55.5Z"/>
<path fill="#0000af" d="M-2,-2 2.9,-2 3.2,-0.9 7.2,7.8 24.4,43.5 24.9,45 25.1,46.2 25.1,47.5 24.9,48.8 24.4,50 23.7,51 22.8,51.9 21.8,52.4 19.2,53.1 15.8,53.9 8.8,54.9 3.2,55.3 -2,55.4Z"/>
<path fill="#0000cf" d="M-2,-2 2.7,-2 3.2,-0.5 7.5,8.8 24.1,43.8 24.5,45 24.8,46.2 24.8,47.5 24.5,48.8 24.1,49.8 23.5,50.7 22.8,51.4 21.8,52 17.5,53.1 12,54.1 5,54.9 2,55 -2,55Z"/>
<path fill="#0000ef" d="M-2,-2 2.6,-2 2.8,-1.4 8.2,10.7 23.8,43.8 24.3,45 24.5,46.2 24.5,47.5 24.3,48.5 23.9,49.5 23.2,50.5 22.5,51.2 21.8,51.6 20.2,52.1 17.2,52.9 11.8,53.8 4.8,54.6 1.8,54.7 -2,54.6Z"/>
<path fill="#0010ff" d="M-2,-2 2.5,-2 2.8,-1.2 8.2,11 23.6,43.8 24,45 24.2,46 24.3,47.2 24.1,48.2 23.7,49.2 23.1,50.2 22.2,51 21.5,51.4 19.8,52 16.8,52.7 11.5,53.5 4.8,54.2 1.8,54.3 -2,54.3Z"/>
<path fill="#0030ff" d="M-2,-2 2.5,-2 2.8,-1 7.8,10.2 23.3,43.8 23.8,45 24,46 24,47 23.9,48 23.5,49 23,49.9 22.2,50.6 21.5,51.1 20,51.6 17,52.3 11.8,53.2 4.8,53.9 -2,54Z"/>
<path fill="#0050ff" d="M-2,-2 2.4,-2 2.8,-0.9 7.2,9.3 23.1,43.8 23.5,45 23.7,46 23.8,47 23.6,48 23.2,49 22.7,49.8 22,50.5 21.2,50.9 16.8,52 11.5,52.9 4.8,53.6 -2,53.7Z"/>
<path fill="#0070ff" d="M-2,-2 2.4,-2 2.8,-0.7 7.2,9.5 22.8,43.8 23.2,44.8 23.5,45.8 23.5,46.8 23.4,47.8 23.1,48.8 22.6,49.5 22,50.1 21.2,50.5 19.8,51 16.8,51.7 11.5,52.6 4.8,53.3 -2,53.4Z"/>
<path fill="#008fff" d="M-2,-2 2.3,-2 2.5,-1.2 6.8,8.5 23,44.8 23.2,45.8 23.3,46.8 23.1,47.8 22.9,48.5 22.4,49.2 21.8,49.9 21,50.3 16.5,51.5 11.5,52.3 4.8,53 -2,53Z"/>
<path fill="#00afff" d="M-2,-2 2.2,-2 2.5,-1.1 6.8,8.7 22.6,44.5 23,46.2 22.9,47.8 22.2,49 21.8,49.5 21,50 19.8,50.4 16.8,51.1 11.5,52 4.8,52.7 -2,52.7Z"/>
<path fill="#00cfff" d="M-2,-2 2.2,-2 2.5,-1 6.2,7.7 22.4,44.5 22.7,45.5 22.8,46.2 22.6,47.8 22.2,48.5 21.9,49 21.3,49.5 20.8,49.8 16.2,50.9 11.2,51.7 4.5,52.4 -2,52.4Z"/>
<path fill="#00efff" d="M-2,-2 2.2,-2 2.5,-0.9 22.2,44.5 22.5,46 22.4,47.5 22.1,48.2 21.8,48.7 20.8,49.5 19.5,49.9 16.5,50.6 11.5,51.4 4.5,52.1 -2,52.1Z"/>
<path fill="#10ffef" d="M-2,-2 2.1,-2 2.2,-1.4 22,44.8 22.3,46.2 22.1,47.5 21.5,48.6 20.5,49.3 16.2,50.4 11.2,51.2 4.5,51.8 -2,51.8Z"/>
<path fill="#30ffcf" d="M-2,-2 2.1,-2 2.5,-0.7 21.8,44.8 22.1,46 22,47.2 21.5,48.2 21,48.7 20.5,49 19.2,49.4 16.2,50.1 11.2,50.9 4.5,51.5 -2,51.6Z"/>
<path fill="#50ffaf" d="M-2,-2 2,-2 2.5,-0.6 21.6,44.8 21.9,46 21.8,47.2 21.2,48.2 20.2,48.9 17.8,49.5 14.8,50.1 8,51 3.5,51.3 -2,51.3Z"/>
<path fill="#70ff8f" d="M-2,-2 2,-2 2.2,-1 21.4,44.8 21.7,46 21.6,47 21.1,48 20.2,48.6 16,49.7 11,50.4 4.5,51 -2,51.1Z"/>
<path fill="#8fff70" d="M-2,-2 2,-2 2.2,-1 21.3,44.8 21.5,46 21.4,47 21,47.8 20.2,48.3 18.8,48.8 16,49.4 11,50.2 4.5,50.8 -2,50.8Z"/>
<path fill="#afff50" d="M-2,-2 1.9,-2 2.2,-1 21.1,44.8 21.3,45.8 21.2,46.8 20.8,47.7 20,48.2 17.5,48.9 14.5,49.5 7.8,50.3 3.2,50.6 -2,50.6Z"/>
<path fill="#cfff30" d="M-2,-2 1.9,-2 2.1,-1 20.9,44.8 21.1,45.8 21,46.8 20.6,47.5 20,48 16,49 11,49.7 4.5,50.3 -2,50.4Z"/>
<path fill="#efff10" d="M-2,-2 1.8,-2 2.1,-1 20.7,44.8 21,45.8 20.8,46.8 20.5,47.3 19.8,47.8 17.5,48.4 14.2,49.1 7.8,49.9 3.2,50.2 -2,50.1Z"/>
<path fill="#ffef00" d="M-2,-2 1.8,-2 2.1,-1 7.8,13 20.6,44.8 20.8,45.8 20.7,46.5 20.3,47.2 19.8,47.6 17.5,48.2 14.2,48.9 8,49.6 3.5,50 -2,49.9Z"/>
<path fill="#ffcf00" d="M-2,-2 1.7,-2 1.9,-1.2 8,13.8 20.4,44.8 20.6,45.5 20.6,46.2 20.3,47 19.8,47.4 15.8,48.4 10.8,49.2 4.5,49.7 -2,49.8Z"/>
<path fill="#ffaf00" d="M-2,-2 1.7,-2 1.9,-1.2 8.3,14.5 20.2,44.8 20.5,45.5 20.4,46.2 20,47 19.5,47.3 17.2,47.9 14,48.5 7.5,49.3 3.2,49.6 -2,49.6Z"/>
<path fill="#ff8f00" d="M-2,-2 1.6,-2 1.9,-1 8,14 20.1,44.8 20.3,45.5 20.3,46.2 20,46.8 19.5,47.1 17.5,47.6 14.2,48.3 7.8,49.1 3.2,49.4 -2,49.4Z"/>
<path fill="#ff7000" d="M-2,-2 1.6,-2 1.9,-1 8,14.2 20,44.8 20.2,45.5 20.2,46 20,46.5 19.5,46.9 18.2,47.3 15.5,47.9 10.8,48.6 4.2,49.2 -2,49.2Z"/>
<path fill="#ff5000" d="M-2,-2 1.5,-2 1.8,-1 8,14.4 19.8,44.8 20,45.5 20,46 19.8,46.5 19.2,46.8 17,47.4 14,48 7.5,48.8 3.2,49.1 -2,49Z"/>
<path fill="#ff3000" d="M-2,-2 1.5,-2 1.6,-1.2 7.8,14 19.7,44.8 19.9,45.5 19.9,46 19.7,46.2 19.2,46.6 17,47.2 14,47.8 7.5,48.6 3.2,48.9 -2,48.8Z"/>
<path fill="#ff1000" d="M-2,-2 1.4,-2 1.7,-1 7.8,14.2 19.5,44.8 19.7,45.8 19.5,46.2 19.1,46.5 17,47.1 13.8,47.7 7.5,48.4 3.2,48.7 -2,48.6Z"/>
<path fill="#ef0000" d="M-2,-2 1.3,-2 1.6,-1 7.8,14.5 19.5,45.2 19.6,45.8 19.5,46 19,46.4 16.5,47 13.8,47.5 7.3,48.2 3.2,48.5 -2,48.4Z"/>
<path fill="#cf0000" d="M-2,-2 1.2,-2 1.4,-1.2 7.2,13.5 19.2,44.8 19.4,45.8 19.2,46 18.8,46.2 14.1,47.2 7.5,48 3.5,48.2 -2,48.1Z"/>
<path fill="#af0000" d="M0,-2 1.1,-2 1.3,-1 5.8,10 19,44.7 19.2,45.5 19.1,45.8 18.8,46 16.8,46.5 14.1,47 11.5,47.3 7.2,47.7 5,47.7 2.7,47.5 2.2,47.2 2,47 0.5,7.7Z"/>
<path fill="#8f0000" d="M1.8,0.9 3.2,4.3 6,11.2 18.5,44.1 18.9,45.2 18.8,45.5 18.5,45.8 14.8,46.5 12.8,46.7 11.2,46.7 10.6,46.5 10.4,46.2 1.8,2.5 1.5,1Z"/>
</g>
<g id="f31">
<rect x="-1" y="-1" width="93" height="116.4" fill="#000080"/>
<path fill="#000089" d="M-2,-2 5.2,-2 5.2,-1.7 14,8 38.9,34.8 40.4,36.5 41.6,38.5 42.4,40.5 42.8,42.8 42.9,45 42.4,47.2 41.4,49.5 40.1,51.2 38.5,52.8 37.8,53.3 36.5,53.9 33.8,54.9 30.2,55.9 26,56.9 22.5,57.5 16,58.9 12,59.4 7.5,59.7 4,59.7 -2,59.5Z"/>
<path fill="#000091" d="M-2,-2 5,-2 5.2,-1.5 13.5,7.8 38.7,35 40.1,36.8 41.3,38.8 42.1,40.8 42.5,43 42.5,45.2 41.9,47.5 41.1,49.2 39.9,51 38.2,52.6 37.2,53.2 36.2,53.6 30.8,55.4 26.5,56.4 16.2,58.4 11.5,59 7.5,59.3 4,59.3 -2,59.1Z"/>
<path fill="#00009a" d="M-2,-2 4.9,-2 5,-1.7 13.8,8.3 38.5,35.2 39.8,36.8 40.9,38.5 41.8,40.8 42.2,42.8 42.2,45 41.8,47 40.9,49 39.7,50.8 38,52.4 37.2,52.9 36,53.4 30.2,55.2 26.2,56.1 15.8,58.2 11.8,58.7 7.5,59 4,59 -2,58.8Z"/>
<path fill="#0000af" d="M-2,-2 4.7,-2 5,-1.5 14,8.7 39.4,36.8 40.6,38.8 41.4,40.8 41.9,43 41.8,45 41.4,47 40.5,49 39.2,50.7 37.8,52.1 37,52.6 35.8,53.1 30,54.8 26,55.7 15.5,57.8 11.2,58.3 7.2,58.6 3.8,58.6 -2,58.4Z"/>
<path fill="#0000cf" d="M-2,-2 4.5,-2 4.8,-1.5 9.2,3.8 38.6,37 39.8,39 40.6,41 40.9,42.8 40.9,44.8 40.5,46.8 39.7,48.5 38.5,50.1 37,51.4 36.2,51.8 34.8,52.4 29.8,53.9 25.5,54.9 21.8,55.5 18,56.4 15.2,56.9 11.5,57.4 7.5,57.7 3.8,57.7 -2,57.5Z"/>
<path fill="#0000ef" d="M-2,-2 4.4,-2 4.5,-1.7 9.2,4 38.1,37.2 39.1,38.8 39.9,40.8 40.3,42.8 40.3,44.5 39.9,46.5 39.1,48.2 38,49.7 36.8,50.8 36,51.3 35,51.7 29.5,53.3 25.2,54.3 21.5,55 17.8,55.9 15,56.4 11,56.9 7.2,57.1 3.8,57.2 -2,57Z"/>
<path fill="#0010ff" d="M-2,-2 4.3,-2 4.8,-1.2 9.5,4.5 37.8,37.5 38.9,39.2 39.6,41 39.9,42.8 39.9,44.5 39.5,46.2 38.9,47.8 37.8,49.2 36.5,50.5 35.8,50.9 34.5,51.4 29.2,52.9 25.2,53.8 14.8,55.9 10.8,56.4 7,56.7 3.5,56.7 -2,56.5Z"/>
<path fill="#0030ff" d="M-2,-2 4.2,-2 4.2,-1.7 4.8,-1 9.8,5 37.6,37.8 38.5,39.2 39.2,41 39.5,42.8 39.5,44.5 39.1,46.2 38.4,47.8 37.5,49 36.2,50.2 35.5,50.6 34.5,51 29.2,52.5 25,53.4 14.5,55.5 10.5,56 6.8,56.2 3.5,56.3 -2,56.1Z"/>
<path fill="#0050ff" d="M-2,-2 4.1,-2 4.5,-1.2 9.2,4.5 37.2,37.8 38.1,39.2 38.8,41 39.2,42.8 39.2,44.2 38.8,46 38.1,47.5 37.2,48.8 36,49.9 35.2,50.3 34.2,50.6 29,52.1 24.5,53.1 21,53.7 17.2,54.6 14.2,55.1 10.2,55.6 6.8,55.8 3.5,55.8 -2,55.7Z"/>
<path fill="#0070ff" d="M-2,-2 4,-2 4.2,-1.5 8.5,3.8 37,38 37.9,39.5 38.5,41 38.8,42.8 38.8,44.2 38.5,45.8 37.8,47.2 36.9,48.5 35.8,49.5 35.2,49.9 34.2,50.2 29.2,51.6 24.5,52.7 14.2,54.7 10.5,55.1 6.8,55.4 3.5,55.4 -2,55.3Z"/>
<path fill="#008fff" d="M-2,-2 4,-2 4.2,-1.4 7.8,3 36.6,38 37.5,39.5 38.1,41 38.4,42.5 38.4,44 38.2,45.5 37.5,47 36.6,48.2 35.5,49.2 34,49.9 28.8,51.4 14,54.3 10,54.8 6.5,55 3.2,55 -2,54.9Z"/>
<path fill="#00afff" d="M-2,-2 3.9,-2 4.2,-1.3 36.4,38.2 37.2,39.5 37.8,41 38.1,42.5 38.1,44 37.8,45.5 37.2,46.8 36.5,47.8 35.5,48.8 34.8,49.2 34,49.5 29.2,50.9 14,53.9 10.2,54.4 6.5,54.6 3.2,54.7 -2,54.5Z"/>
<path fill="#00cfff" d="M-2,-2 3.9,-2 4.2,-1.2 36,38.2 36.8,39.5 37.5,41 37.8,42.5 37.8,43.8 37.5,45.2 37,46.5 36.2,47.6 35.2,48.6 34.5,49 33.8,49.3 29,50.6 13.8,53.6 10,54 6.5,54.3 3.2,54.3 -2,54.1Z"/>
<path fill="#00efff" d="M-2,-2 3.8,-2 4.1,-1.2 35.8,38.3 36.6,39.8 37.1,41 37.5,42.5 37.5,43.8 37.2,45 36.7,46.2 36,47.4 35,48.3 33.8,48.9 29,50.2 20.2,51.9 16.5,52.7 13.5,53.2 9.8,53.7 6.2,53.9 3.2,53.9 -2,53.8Z"/>
<path fill="#10ffef" d="M-2,-2 3.8,-2 4,-1.4 35.5,38.5 36.3,39.8 36.8,41 37.1,42.5 37.1,43.8 36.9,45 36.4,46.2 35.7,47.2 34.8,48.1 34.2,48.4 33.2,48.7 28.8,49.9 13.5,52.8 9.8,53.3 6.2,53.5 3.2,53.6 -2,53.4Z"/>
<path fill="#30ffcf" d="M-2,-2 3.7,-2 3.9,-1.5 35.2,38.5 36,39.8 36.5,41 36.8,42.2 36.9,43.5 36.6,44.8 36.2,45.8 35.5,46.9 34.7,47.8 33.5,48.3 29,49.5 13.2,52.5 9.5,52.9 6.2,53.1 3.2,53.2 -2,53Z"/>
<path fill="#50ffaf" d="M-2,-2 3.6,-2 3.8,-1.5 35.1,38.8 35.8,39.9 36.2,41 36.5,42.2 36.5,43.5 36.3,44.8 35.9,45.8 35.2,46.7 34.4,47.5 33.2,48.1 29,49.1 13.2,52.1 9.5,52.5 6.2,52.8 3.2,52.8 -2,52.6Z"/>
<path fill="#70ff8f" d="M-2,-2 3.6,-2 3.8,-1.5 34.7,38.8 35.4,39.8 35.9,41 36.2,42.2 36.3,43.2 36.1,44.5 35.7,45.5 35,46.5 34.2,47.2 33,47.8 29,48.8 13,51.7 9.2,52.2 6,52.4 3,52.4 -2,52.3Z"/>
<path fill="#8fff70" d="M-2,-2 3.5,-2 3.7,-1.5 34.5,38.9 35.2,40 35.6,41 35.9,42.2 35.9,43.2 35.8,44.2 35.4,45.2 34.8,46.2 34,47 32.8,47.5 28.8,48.5 19.8,50 16,50.8 12.8,51.4 9.2,51.8 6,52 3,52 -2,51.9Z"/>
<path fill="#afff50" d="M-2,-2 3.5,-2 3.6,-1.5 34.2,39 34.9,40 35.3,41 35.6,42.2 35.6,43.2 35.5,44.2 35.1,45.2 34.5,46.1 33.8,46.8 32.5,47.2 28.8,48.1 19.8,49.6 15.8,50.5 12.5,51 9,51.4 5.8,51.6 -2,51.5Z"/>
<path fill="#cfff30" d="M-2,-2 3.4,-2 3.6,-1.5 33.9,39 34.5,40 35,41 35.3,42 35.3,43 35.2,44 34.9,44.8 34.5,45.5 33.8,46.3 32.8,46.8 29,47.7 19.5,49.3 15.8,50.1 12.5,50.6 9,51 5.8,51.2 -2,51.1Z"/>
<path fill="#efff10" d="M-2,-2 3.4,-2 3.5,-1.5 34.1,39.8 34.5,40.5 34.8,41.5 35,42.5 35,43.2 34.8,44 34.5,44.9 34.1,45.5 33.5,46.1 32.5,46.6 28.8,47.4 19.5,48.9 15.5,49.7 12.2,50.3 9,50.6 5.8,50.8 -2,50.7Z"/>
<path fill="#ffef00" d="M-2,-2 3.3,-2 3.5,-1.5 33.9,40 34.5,41.5 34.7,42.5 34.7,43.2 34.5,44 34.2,44.8 33.8,45.4 33.2,45.8 32.2,46.3 28.8,47 19.2,48.5 15.2,49.4 11.8,49.9 8.5,50.3 5.5,50.5 -2,50.4Z"/>
<path fill="#ffcf00" d="M-2,-2 3.3,-2 3.6,-1.2 33.6,40 34.2,41.5 34.4,43 34.2,43.8 33.9,44.5 33.5,45.1 33,45.6 32,46 28.5,46.7 24.2,47.3 19,48.2 14.5,49.1 10.8,49.7 8,50 5,50.1 -2,50Z"/>
<path fill="#ffaf00" d="M-2,-2 3.2,-2 3.4,-1.5 10.3,8 33.2,40.1 33.9,41.5 34,43 33.7,44.2 32.9,45.2 32,45.7 27,46.6 24,47 19,47.8 14.5,48.7 10.8,49.3 8,49.6 5,49.7 -2,49.6Z"/>
<path fill="#ff8f00" d="M-2,-2 3.2,-2 3.3,-1.5 10.5,8.5 33,40.2 33.6,41.5 33.7,42.8 33.4,44 33.1,44.5 32.6,45 32,45.3 30.2,45.7 19,47.4 13.7,48.5 9.8,49 4.5,49.3 -2,49.1Z"/>
<path fill="#ff7000" d="M-1.7,-2 3.1,-2 3.4,-1.2 10.8,9 32.7,40.2 33.3,41.5 33.4,42.8 33.2,43.8 32.5,44.7 31.8,45 30.5,45.3 18.8,47.1 14,48 8.8,48.5 5,48.6 2,48.2 0.4,47.8 -0.4,47.2 -1.6,46.2Z"/>
<path fill="#ff5000" d="M0.9,-2 3,-2 3.1,-1.5 11.5,10.3 32.4,40.2 32.9,41.2 33.1,42.5 33,43.2 32.8,43.8 32.1,44.5 31,44.9 27.5,45.5 23.5,45.9 15,47.2 13.5,47.2 12.2,47.1 11.5,46.9 11.1,46.5 1.1,-0.5Z"/>
<path fill="#ff3000" d="M1.5,-2 2.9,-2 3,-1.5 10.5,9 32,40.2 32.7,41.5 32.8,42.5 32.6,43.5 32,44.2 31.5,44.4 30.5,44.6 25.2,45.4 19.5,45.6 18,45.5 17.5,45.2 17.2,45 1.6,-1.2Z"/>
<path fill="#ff1000" d="M1.9,-2 2.8,-2 3,-1.2 6,2.8 10,8.5 31.9,40.5 32.4,41.5 32.5,42.5 32.2,43.4 31.8,43.9 31,44.2 27,44.8 25.5,44.9 24.5,44.8 23.8,44.5 23.3,44.2 22.8,43.8 2.1,-1.2Z"/>
<path fill="#ef0000" d="M2.4,-2 2.5,-2 2.5,-1.4ZM2.6,-1.2 2.8,-1.3 4,0.2 8.5,6.5 31.6,40.5 32.1,41.5 32.2,42.2 32,43.2 31.5,43.7 31,43.9 29.8,44.1 26.8,44.3 26,44.2 25.3,44 24.9,43.8 24.5,43.3 3.7,1.2 2.8,-0.7Z"/>
<path fill="#cf0000" d="M4,0.7 5.5,2.5 10.8,10 31.4,40.8 31.8,41.5 31.9,42.2 31.7,43 31.2,43.4 29.8,43.8 27.8,43.8 26.8,43.4 26.1,42.8 5.5,4.1 4,1Z"/>
<path fill="#af0000" d="M6.2,4.1 8.2,6.8 12,12.2 31,40.8 31.4,41.5 31.6,42.2 31.4,42.8 31,43.1 30.2,43.3 29,43.2 28,42.8 27.5,42.2 8.2,8.3 6.2,4.5 6.2,4.2Z"/>
<path fill="#8f0000" d="M11.4,12.2 11.5,12.2 15.5,18 30.5,40.7 31,41.8 31,42.2 30.8,42.6 30.2,42.7 29.5,42.5 29.1,42.2 28.7,41.8 14.2,17.5 12,13.6Z"/>
</g>
<g id="f32">
<rect x="-1" y="-1" width="93" height="116.4" fill="#000080"/>
<path fill="#000089" d="M-2,-2 4.7,-2 5,-1.4 11.8,7 36.9,37.2 38.1,39 39.2,41 39.9,43.2 40.1,45.8 39.9,48 39.2,50.2 38.1,52.2 36.5,54 34.8,55.4 34,55.8 33,56.1 27.8,57.4 24.8,57.9 20,58.4 14,59.4 10.2,59.7 6.8,59.8 -2,59.5Z"/>
<path fill="#000091" d="M-2,-2 4.5,-2 4.8,-1.5 11.5,7 36.5,37.2 37.6,38.8 38.7,40.8 39.5,43 39.8,45.5 39.6,47.8 38.9,50 37.8,52 36.3,53.8 34.5,55.1 33.8,55.5 32.5,55.9 27.2,57.1 23.8,57.6 20,58 14.2,58.9 10.2,59.3 7,59.4 4,59.4 -2,59.1Z"/>
<path fill="#00009a" d="M-2,-2 4.4,-2 4.5,-1.7 11.5,7.2 36.1,37.2 37.4,39 38.6,41.2 39.2,43.2 39.5,45.5 39.3,47.5 38.7,49.8 37.6,51.8 36.2,53.3 34.5,54.8 33.8,55.2 33,55.4 27.8,56.6 24.5,57.2 19.8,57.7 13.8,58.6 10.2,58.9 6.8,59 -2,58.7Z"/>
<path fill="#0000af" d="M-2,-2 4.3,-2 4.5,-1.5 11.8,7.8 35.9,37.5 37,39 38.1,41 38.9,43.2 39.1,45.5 38.9,47.5 38.4,49.5 37.3,51.5 36,53.1 34.2,54.5 33.5,54.9 32.8,55.1 27.5,56.3 13.8,58.2 10,58.5 6.5,58.6 -2,58.3Z"/>
<path fill="#0000cf" d="M-2,-2 4.1,-2 4.5,-1.2 9.2,5 35.1,37.8 36.4,39.5 37.4,41.5 37.9,43.2 38.2,45.5 38,47.5 37.4,49.2 36.4,51 35.2,52.4 33.8,53.6 33,54 32,54.3 27,55.4 13,57.3 9.5,57.6 6.2,57.7 -2,57.4Z"/>
<path fill="#0000ef" d="M-2,-2 4,-2 4,-1.8 4.5,-1 9.2,5.3 35.6,39.2 36.6,41 37.3,43 37.6,45 37.5,46.8 37,48.5 36.2,50.2 35,51.8 33.5,53 32.8,53.4 32,53.7 26.8,54.8 23,55.4 19.2,55.8 13.5,56.7 9.8,57 6.5,57.2 -2,56.9Z"/>
<path fill="#0010ff" d="M-2,-2 3.9,-2 4.2,-1.2 8.5,4.5 35.3,39.5 36.3,41.2 36.9,43 37.1,45 37,46.8 36.6,48.5 35.8,50 34.7,51.5 33.2,52.7 32.5,53.1 31.8,53.3 27,54.3 13.2,56.2 9.5,56.5 6.2,56.7 -2,56.4Z"/>
<path fill="#0030ff" d="M-2,-2 3.8,-2 4.2,-1.1 8.8,5 35,39.8 36,41.5 36.5,43.2 36.8,45 36.6,46.8 36.1,48.5 35.3,50 34.2,51.3 33,52.3 32.2,52.7 31.5,52.9 27,53.9 13,55.8 9.2,56.1 6.2,56.2 -2,55.9Z"/>
<path fill="#0050ff" d="M-2,-2 3.7,-2 4,-1.3 8.2,4.5 34.8,39.9 35.6,41.5 36.2,43.2 36.4,45 36.3,46.5 35.8,48.2 35,49.8 34,51 32.8,52 32,52.4 31.2,52.6 26.8,53.5 22.5,54.1 18.8,54.5 12.8,55.3 9,55.6 6,55.7 -2,55.5Z"/>
<path fill="#0070ff" d="M-2,-2 3.6,-2 4,-1.2 7.8,4 34.4,40 35.2,41.5 35.8,43.2 36,45 35.9,46.5 35.5,48 34.7,49.5 33.7,50.8 32.5,51.7 31.2,52.2 26.5,53.1 22.2,53.7 18.8,54 12.8,54.9 9,55.2 6,55.3 -2,55.1Z"/>
<path fill="#008fff" d="M-2,-2 3.6,-2 3.7,-1.5 6.8,2.8 34,40 34.9,41.5 35.4,43 35.6,44.8 35.6,46.2 35.2,47.8 34.4,49.2 33.4,50.5 32.2,51.4 31,51.9 26.5,52.7 22,53.3 18.5,53.7 12.8,54.5 9,54.8 6,54.9 -2,54.7Z"/>
<path fill="#00afff" d="M-2,-2 3.5,-2 3.8,-1.2 33.8,40.2 34.6,41.8 35.1,43.2 35.3,44.8 35.2,46.2 34.8,47.8 34.1,49 33.2,50.1 32.2,51 31,51.5 26.8,52.3 22,52.9 18.5,53.3 12.8,54.1 6,54.5 -2,54.3Z"/>
<path fill="#00cfff" d="M-2,-2 3.4,-2 3.8,-1.3 33.5,40.2 34.2,41.5 34.7,43 35,44.5 34.9,46 34.5,47.5 33.9,48.8 33,49.9 32,50.7 30.8,51.2 26.5,52 18.2,52.9 12.8,53.7 8.8,54 5.8,54.1 -2,53.9Z"/>
<path fill="#00efff" d="M-2,-2 3.4,-2 3.7,-1.2 33.2,40.4 34,41.8 34.5,43.2 34.7,44.8 34.6,46 34.3,47.2 33.7,48.5 32.8,49.6 31.8,50.5 30.5,50.9 26.2,51.7 18.2,52.5 12.5,53.3 5.8,53.7 -2,53.5Z"/>
<path fill="#10ffef" d="M-2,-2 3.3,-2 3.6,-1.2 33,40.5 33.7,41.8 34.1,43 34.3,44.5 34.3,45.8 34,47 33.4,48.2 32.7,49.2 31.8,50 31.2,50.3 30.5,50.6 26.5,51.3 18.2,52.1 12.8,52.9 5.8,53.3 -2,53.1Z"/>
<path fill="#30ffcf" d="M-2,-2 3.3,-2 3.5,-1.4 32.7,40.5 33.3,41.8 33.8,43 34,44.2 34,45.5 33.7,46.8 33.2,48 32.4,49 31.5,49.8 30.2,50.3 26.5,50.9 18,51.8 12.5,52.5 5.5,52.9 -2,52.7Z"/>
<path fill="#50ffaf" d="M-2,-2 3.2,-2 3.4,-1.5 32.5,40.8 33.1,42 33.6,43.2 33.7,44.5 33.7,45.8 33.3,47 32.8,48 32,49 31.2,49.6 30,50 26.2,50.6 18,51.4 12.5,52.1 5.5,52.5 -2,52.3Z"/>
<path fill="#70ff8f" d="M-2,-2 3.2,-2 3.3,-1.5 32.2,40.8 32.8,41.8 33.2,43 33.4,44.2 33.4,45.5 33.1,46.8 32.6,47.8 32,48.5 31.1,49.2 30,49.7 26.2,50.2 17.8,51 12.5,51.6 5.5,52 -2,51.9Z"/>
<path fill="#8fff70" d="M-2,-2 3.1,-2 3.3,-1.5 31.8,40.8 32.5,41.9 32.9,43 33.1,44.2 33.1,45.2 32.9,46.2 32.5,47.2 31.8,48.2 31,48.9 30.5,49.2 29.8,49.4 26.2,49.9 17.8,50.6 12.5,51.2 5.5,51.6 -2,51.4Z"/>
<path fill="#afff50" d="M-2,-2 3.1,-2 3.2,-1.5 31.5,40.8 32.1,41.8 32.5,42.8 32.8,44 32.8,45 32.6,46 32.2,47 31.5,48 30.8,48.7 29.8,49.1 26.2,49.5 17.5,50.2 12.2,50.8 5.2,51.2 -2,51Z"/>
<path fill="#cfff30" d="M-2,-2 3,-2 3.2,-1.5 31.3,41 31.9,42 32.3,43 32.5,44 32.5,45 32.3,46 31.8,47 31.2,47.8 30.5,48.4 29.5,48.8 25.8,49.2 17.5,49.8 13.5,50.3 8.2,50.7 4,50.8 -2,50.6Z"/>
<path fill="#efff10" d="M-2,-2 3,-2 3.1,-1.5 30.8,40.8 31.4,41.8 31.9,42.8 32.1,43.8 32.2,44.8 32,45.8 31.7,46.5 31.2,47.2 30.5,48 29.5,48.4 26,48.8 17.5,49.4 13.5,49.9 8.2,50.3 4,50.4 -2,50.2Z"/>
<path fill="#ffef00" d="M-2,-2 2.9,-2 3.1,-1.5 31.1,41.8 31.7,43.2 31.8,44.2 31.8,45 31.6,45.8 31.3,46.5 30.8,47.2 30.2,47.8 29.2,48.1 25.8,48.5 17.2,49 13.5,49.5 7.8,49.9 3.8,50 -2,49.8Z"/>
<path fill="#ffcf00" d="M-2,-2 2.9,-2 3.1,-1.2 30.9,42 31.4,43.5 31.5,45 31,46.4 30.5,47 30,47.5 29,47.8 25.8,48.2 17.2,48.6 13.2,49.1 7.5,49.5 3.5,49.6 -2,49.4Z"/>
<path fill="#ffaf00" d="M-2,-2 2.8,-2 3.1,-1.2 9.5,8.8 30.6,42 31.1,43.5 31.1,45 30.7,46.2 30.2,46.8 29.8,47.2 28.8,47.5 25.5,47.8 17.2,48.3 13,48.7 7.5,49 3.5,49 0,48.7 -2,48.6Z"/>
<path fill="#ff8f00" d="M0.4,-2 2.8,-2 2.9,-1.5 9.3,8.5 30.1,41.8 30.8,43.2 30.9,44 30.9,44.8 30.4,46 30,46.6 29.5,46.9 28.8,47.2 27.2,47.3 17,47.9 12.5,48.3 7.5,47.8 6.5,47.6 6.2,47.2 6,46.5 1.7,9Z"/>
<path fill="#ff7000" d="M0.9,-2 2.7,-2 2.8,-1.5 9,8.2 29.9,42 30.3,42.8 30.5,43.5 30.5,44.8 30.3,45.5 30,46 29.2,46.7 28.2,46.9 24.8,47.2 14.8,47.6 13.5,47.5 12.8,47.4 12,47 11.8,46.8 11.5,45.8Z"/>
<path fill="#ff5000" d="M1.3,-2 2.6,-2 2.8,-1.2 9.5,9.2 29.6,42 30.2,43.2 30.2,44.5 29.9,45.5 29.2,46.3 28.2,46.6 25,46.8 18.8,47 16,46.7 15.2,46.4 14.8,46 1.4,-1.2Z"/>
<path fill="#ff3000" d="M1.5,-2 2.5,-2 2.6,-1.5 5.5,3 10,10.2 29.4,42.2 29.8,43.2 30,44.2 29.7,45.2 29,46 28.5,46.2 27.5,46.3 24.2,46.5 22.2,46.5 19.8,46.3 19,46.1 18.2,45.8 17.8,45.2 1.8,-0.8Z"/>
<path fill="#ff1000" d="M1.8,-2 2.4,-2 2.6,-1.2 4.8,2 8.5,8 29.1,42.2 29.5,43.2 29.6,44.2 29.3,45.2 28.8,45.8 28.2,45.9 24.5,46.2 23,46.1 22.2,45.9 21.5,45.6 21,45.2 20.6,44.8 3.1,1.8 2,-1.2Z"/>
<path fill="#ef0000" d="M2.8,-0.6 3.2,0 4.5,1.8 8.5,8.2 28.9,42.5 29.3,43.5 29.3,44.2 29.1,45 28.5,45.5 27,45.7 24.2,45.7 23.4,45.5 22.9,45.2 22.5,45 22.1,44.5 3.7,2.2 2.8,0 2.7,-0.5Z"/>
<path fill="#cf0000" d="M3.9,1.5 4,1.5 4.8,2.5 8.5,8.5 28.6,42.5 29,43.5 29,44.2 28.8,44.8 28.2,45.2 26.8,45.4 25.2,45.2 24.2,44.8 23.5,44 4.2,2.7Z"/>
<path fill="#af0000" d="M5.9,5 6,5 7.5,7.3 11.2,13.5 28.2,42.5 28.6,43.2 28.7,43.8 28.6,44.2 28.2,44.8 27.5,45 26.2,44.8 25.5,44.4 24.9,43.8 8,9.8 6,5.6Z"/>
<path fill="#8f0000" d="M10.8,13.5 10.8,13.8 10.8,13.9ZM11,13.9 15,20.5 27.8,42.5 28.2,43.5 28.1,44 28,44.2 27.5,44.4 27,44.2 26.3,43.8 25.9,43.2 12.5,17.4 10.9,14Z"/>
</g>
</defs>
<rect width="520" height="869" fill="#fff"/>
<g transform="translate(36.3,2)">
<g clip-path="url(#cp)"><use href="#f00"/></g><circle clip-path="url(#cp2)" cx="0" cy="-6.3" r="54.4" fill="#fff"/>
<path d="M0.3,48 V0.7 H54" fill="none" stroke="#8c949c" stroke-width="0.9"/>
<path d="M0,3.61h2.6M0,12.65h2.6M0,21.69h2.6M0,30.73h2.6M0,39.77h2.6" fill="none" stroke="#8c949c" stroke-width="0.8"/>
<text x="-1.0" y="16.25" text-anchor="end">8.2</text>
<text x="-1.0" y="25.29" text-anchor="end">8.15</text>
<text x="-1.0" y="34.33" text-anchor="end">8.1</text>
<text x="-1.0" y="43.37" text-anchor="end">8.05</text>
<text x="-1.0" y="52.41" text-anchor="end">8</text>
<text x="-1.0" y="61.45" text-anchor="end">7.95</text>
<text x="-1.0" y="70.49" text-anchor="end">7.9</text>
<text x="-1.0" y="79.53" text-anchor="end">7.85</text>
<text x="-1.0" y="88.57" text-anchor="end">7.8</text>
<text x="-1.0" y="97.61" text-anchor="end">7.75</text>
<text x="-1.0" y="106.65" text-anchor="end">7.7</text>
<text x="-1.0" y="115.69" text-anchor="end">7.65</text>
<text x="-34.2" y="4.65" textLength="17.6" lengthAdjust="spacingAndGlyphs">mm</text>
<text x="0.3" y="126.8" text-anchor="middle">0</text>
<text x="73.9" y="126.5" textLength="17.6" lengthAdjust="spacingAndGlyphs">mm</text>
<rect x="98.5" y="19.6" width="6.2" height="90.9" fill="url(#cb)"/>
<path d="M98.8,19.6v90.9M104.4,19.6v90.9" stroke="#000" stroke-opacity="0.28" stroke-width="0.7" fill="none"/>
<path d="M104.7,110.70h-2.2M104.7,84.30h-2.2M104.7,57.90h-2.2M104.7,31.50h-2.2" stroke="#000" stroke-opacity="0.3" stroke-width="0.7" fill="none"/>
<text x="106.6" y="114.35">0</text>
<text x="106.6" y="87.95">0.5</text>
<text x="106.6" y="61.55">1</text>
<text x="106.6" y="35.15">1.5</text>
<text x="103.2" y="13.3">×10<tspan font-size="7" dy="-4.2">20</tspan></text>
<text class="t" transform="translate(3.1,14.3) scale(1.06,1)">0.1ns</text>
</g>
<g transform="translate(211.1,2)">
<g clip-path="url(#cp)"><use href="#f01"/></g><circle clip-path="url(#cp2)" cx="0" cy="-6.3" r="54.4" fill="#fff"/>
<path d="M0.3,48 V0.7 H54" fill="none" stroke="#8c949c" stroke-width="0.9"/>
<path d="M0,3.61h2.6M0,12.65h2.6M0,21.69h2.6M0,30.73h2.6M0,39.77h2.6" fill="none" stroke="#8c949c" stroke-width="0.8"/>
<text x="-1.0" y="16.25" text-anchor="end">8.2</text>
<text x="-1.0" y="25.29" text-anchor="end">8.15</text>
<text x="-1.0" y="34.33" text-anchor="end">8.1</text>
<text x="-1.0" y="43.37" text-anchor="end">8.05</text>
<text x="-1.0" y="52.41" text-anchor="end">8</text>
<text x="-1.0" y="61.45" text-anchor="end">7.95</text>
<text x="-1.0" y="70.49" text-anchor="end">7.9</text>
<text x="-1.0" y="79.53" text-anchor="end">7.85</text>
<text x="-1.0" y="88.57" text-anchor="end">7.8</text>
<text x="-1.0" y="97.61" text-anchor="end">7.75</text>
<text x="-1.0" y="106.65" text-anchor="end">7.7</text>
<text x="-1.0" y="115.69" text-anchor="end">7.65</text>
<text x="-34.2" y="4.65" textLength="17.6" lengthAdjust="spacingAndGlyphs">mm</text>
<text x="0.3" y="126.8" text-anchor="middle">0</text>
<text x="73.9" y="126.5" textLength="17.6" lengthAdjust="spacingAndGlyphs">mm</text>
<rect x="98.5" y="19.6" width="6.2" height="90.9" fill="url(#cb)"/>
<path d="M98.8,19.6v90.9M104.4,19.6v90.9" stroke="#000" stroke-opacity="0.28" stroke-width="0.7" fill="none"/>
<path d="M104.7,110.50h-2.2M104.7,88.60h-2.2M104.7,66.80h-2.2M104.7,44.30h-2.2M104.7,22.50h-2.2" stroke="#000" stroke-opacity="0.3" stroke-width="0.7" fill="none"/>
<text x="106.6" y="114.15">0</text>
<text x="106.6" y="92.25">1</text>
<text x="106.6" y="70.45">2</text>
<text x="106.6" y="47.95">3</text>
<text x="106.6" y="26.15">4</text>
<text x="103.2" y="13.3">×10<tspan font-size="7" dy="-4.2">19</tspan></text>
<text class="t" transform="translate(4.4,14.3) scale(1.06,1)">0.1μs</text>
</g>
<g transform="translate(385.7,2)">
<g clip-path="url(#cp)"><use href="#f02"/></g><circle clip-path="url(#cp2)" cx="0" cy="-6.3" r="54.4" fill="#fff"/>
<path d="M0.3,48 V0.7 H54" fill="none" stroke="#8c949c" stroke-width="0.9"/>
<path d="M0,3.61h2.6M0,12.65h2.6M0,21.69h2.6M0,30.73h2.6M0,39.77h2.6" fill="none" stroke="#8c949c" stroke-width="0.8"/>
<text x="-1.0" y="16.25" text-anchor="end">8.2</text>
<text x="-1.0" y="25.29" text-anchor="end">8.15</text>
<text x="-1.0" y="34.33" text-anchor="end">8.1</text>
<text x="-1.0" y="43.37" text-anchor="end">8.05</text>
<text x="-1.0" y="52.41" text-anchor="end">8</text>
<text x="-1.0" y="61.45" text-anchor="end">7.95</text>
<text x="-1.0" y="70.49" text-anchor="end">7.9</text>
<text x="-1.0" y="79.53" text-anchor="end">7.85</text>
<text x="-1.0" y="88.57" text-anchor="end">7.8</text>
<text x="-1.0" y="97.61" text-anchor="end">7.75</text>
<text x="-1.0" y="106.65" text-anchor="end">7.7</text>
<text x="-1.0" y="115.69" text-anchor="end">7.65</text>
<text x="-34.2" y="4.65" textLength="17.6" lengthAdjust="spacingAndGlyphs">mm</text>
<text x="0.3" y="126.8" text-anchor="middle">0</text>
<text x="73.9" y="126.5" textLength="17.6" lengthAdjust="spacingAndGlyphs">mm</text>
<rect x="98.5" y="19.6" width="6.2" height="90.9" fill="url(#cb)"/>
<path d="M98.8,19.6v90.9M104.4,19.6v90.9" stroke="#000" stroke-opacity="0.28" stroke-width="0.7" fill="none"/>
<path d="M104.7,109.90h-2.2M104.7,98.03h-2.2M104.7,86.16h-2.2M104.7,74.29h-2.2M104.7,62.42h-2.2M104.7,50.55h-2.2M104.7,38.68h-2.2M104.7,26.81h-2.2" stroke="#000" stroke-opacity="0.3" stroke-width="0.7" fill="none"/>
<text x="106.6" y="113.55">0</text>
<text x="106.6" y="101.68">1</text>
<text x="106.6" y="89.81">2</text>
<text x="106.6" y="77.94">3</text>
<text x="106.6" y="66.07">4</text>
<text x="106.6" y="54.20">5</text>
<text x="106.6" y="42.33">6</text>
<text x="106.6" y="30.46">7</text>
<text x="103.2" y="13.3">×10<tspan font-size="7" dy="-4.2">18</tspan></text>
<text class="t" transform="translate(3.8,14.3) scale(1.06,1)">0.25μs</text>
</g>
<g transform="translate(36.3,138)">
<g clip-path="url(#cp)"><use href="#f10"/></g><circle clip-path="url(#cp2)" cx="0" cy="-6.3" r="54.4" fill="#fff"/>
<path d="M0.3,48 V0.7 H54" fill="none" stroke="#8c949c" stroke-width="0.9"/>
<path d="M0,3.61h2.6M0,12.65h2.6M0,21.69h2.6M0,30.73h2.6M0,39.77h2.6" fill="none" stroke="#8c949c" stroke-width="0.8"/>
<text x="-1.0" y="16.25" text-anchor="end">8.2</text>
<text x="-1.0" y="25.29" text-anchor="end">8.15</text>
<text x="-1.0" y="34.33" text-anchor="end">8.1</text>
<text x="-1.0" y="43.37" text-anchor="end">8.05</text>
<text x="-1.0" y="52.41" text-anchor="end">8</text>
<text x="-1.0" y="61.45" text-anchor="end">7.95</text>
<text x="-1.0" y="70.49" text-anchor="end">7.9</text>
<text x="-1.0" y="79.53" text-anchor="end">7.85</text>
<text x="-1.0" y="88.57" text-anchor="end">7.8</text>
<text x="-1.0" y="97.61" text-anchor="end">7.75</text>
<text x="-1.0" y="106.65" text-anchor="end">7.7</text>
<text x="-1.0" y="115.69" text-anchor="end">7.65</text>
<text x="-34.2" y="4.65" textLength="17.6" lengthAdjust="spacingAndGlyphs">mm</text>
<text x="0.3" y="126.8" text-anchor="middle">0</text>
<text x="73.9" y="126.5" textLength="17.6" lengthAdjust="spacingAndGlyphs">mm</text>
<rect x="98.5" y="19.6" width="6.2" height="90.9" fill="url(#cb)"/>
<path d="M98.8,19.6v90.9M104.4,19.6v90.9" stroke="#000" stroke-opacity="0.28" stroke-width="0.7" fill="none"/>
<path d="M104.7,110.70h-2.2M104.7,95.60h-2.2M104.7,80.50h-2.2M104.7,65.40h-2.2M104.7,50.30h-2.2M104.7,35.20h-2.2" stroke="#000" stroke-opacity="0.3" stroke-width="0.7" fill="none"/>
<text x="106.6" y="114.35">0</text>
<text x="106.6" y="99.25">1</text>
<text x="106.6" y="84.15">2</text>
<text x="106.6" y="69.05">3</text>
<text x="106.6" y="53.95">4</text>
<text x="106.6" y="38.85">5</text>
<text x="103.2" y="13.3">×10<tspan font-size="7" dy="-4.2">8</tspan></text>
<text class="t" transform="translate(3.1,14.3) scale(1.06,1)">0.5μs</text>
</g>
<g transform="translate(211.1,138)">
<g clip-path="url(#cp)"><use href="#f11"/></g><circle clip-path="url(#cp2)" cx="0" cy="-6.3" r="54.4" fill="#fff"/>
<path d="M0.3,48 V0.7 H54" fill="none" stroke="#8c949c" stroke-width="0.9"/>
<path d="M0,3.61h2.6M0,12.65h2.6M0,21.69h2.6M0,30.73h2.6M0,39.77h2.6" fill="none" stroke="#8c949c" stroke-width="0.8"/>
<text x="-1.0" y="16.25" text-anchor="end">8.2</text>
<text x="-1.0" y="25.29" text-anchor="end">8.15</text>
<text x="-1.0" y="34.33" text-anchor="end">8.1</text>
<text x="-1.0" y="43.37" text-anchor="end">8.05</text>
<text x="-1.0" y="52.41" text-anchor="end">8</text>
<text x="-1.0" y="61.45" text-anchor="end">7.95</text>
<text x="-1.0" y="70.49" text-anchor="end">7.9</text>
<text x="-1.0" y="79.53" text-anchor="end">7.85</text>
<text x="-1.0" y="88.57" text-anchor="end">7.8</text>
<text x="-1.0" y="97.61" text-anchor="end">7.75</text>
<text x="-1.0" y="106.65" text-anchor="end">7.7</text>
<text x="-1.0" y="115.69" text-anchor="end">7.65</text>
<text x="-34.2" y="4.65" textLength="17.6" lengthAdjust="spacingAndGlyphs">mm</text>
<text x="0.3" y="126.8" text-anchor="middle">0</text>
<text x="73.9" y="126.5" textLength="17.6" lengthAdjust="spacingAndGlyphs">mm</text>
<rect x="98.5" y="19.6" width="6.2" height="90.9" fill="url(#cb)"/>
<path d="M98.8,19.6v90.9M104.4,19.6v90.9" stroke="#000" stroke-opacity="0.28" stroke-width="0.7" fill="none"/>
<path d="M104.7,110.70h-2.2M104.7,98.75h-2.2M104.7,86.80h-2.2M104.7,74.85h-2.2M104.7,62.90h-2.2M104.7,50.95h-2.2M104.7,39.00h-2.2M104.7,27.05h-2.2" stroke="#000" stroke-opacity="0.3" stroke-width="0.7" fill="none"/>
<text x="106.6" y="114.35">0</text>
<text x="106.6" y="102.40">0.2</text>
<text x="106.6" y="90.45">0.4</text>
<text x="106.6" y="78.50">0.6</text>
<text x="106.6" y="66.55">0.8</text>
<text x="106.6" y="54.60">1</text>
<text x="106.6" y="42.65">1.2</text>
<text x="106.6" y="30.70">1.4</text>
<text x="103.2" y="13.3">×10<tspan font-size="7" dy="-4.2">18</tspan></text>
<text class="t" transform="translate(10,14.3) scale(1.06,1)">1μs</text>
</g>
<g transform="translate(385.7,138)">
<g clip-path="url(#cp)"><use href="#f12"/></g><circle clip-path="url(#cp2)" cx="0" cy="-6.3" r="54.4" fill="#fff"/>
<path d="M0.3,48 V0.7 H54" fill="none" stroke="#8c949c" stroke-width="0.9"/>
<path d="M0,3.61h2.6M0,12.65h2.6M0,21.69h2.6M0,30.73h2.6M0,39.77h2.6" fill="none" stroke="#8c949c" stroke-width="0.8"/>
<text x="-1.0" y="16.25" text-anchor="end">8.2</text>
<text x="-1.0" y="25.29" text-anchor="end">8.15</text>
<text x="-1.0" y="34.33" text-anchor="end">8.1</text>
<text x="-1.0" y="43.37" text-anchor="end">8.05</text>
<text x="-1.0" y="52.41" text-anchor="end">8</text>
<text x="-1.0" y="61.45" text-anchor="end">7.95</text>
<text x="-1.0" y="70.49" text-anchor="end">7.9</text>
<text x="-1.0" y="79.53" text-anchor="end">7.85</text>
<text x="-1.0" y="88.57" text-anchor="end">7.8</text>
<text x="-1.0" y="97.61" text-anchor="end">7.75</text>
<text x="-1.0" y="106.65" text-anchor="end">7.7</text>
<text x="-1.0" y="115.69" text-anchor="end">7.65</text>
<text x="-34.2" y="4.65" textLength="17.6" lengthAdjust="spacingAndGlyphs">mm</text>
<text x="0.3" y="126.8" text-anchor="middle">0</text>
<text x="73.9" y="126.5" textLength="17.6" lengthAdjust="spacingAndGlyphs">mm</text>
<rect x="98.5" y="19.6" width="6.2" height="90.9" fill="url(#cb)"/>
<path d="M98.8,19.6v90.9M104.4,19.6v90.9" stroke="#000" stroke-opacity="0.28" stroke-width="0.7" fill="none"/>
<path d="M104.7,110.70h-2.2M104.7,91.55h-2.2M104.7,72.40h-2.2M104.7,53.25h-2.2M104.7,34.10h-2.2" stroke="#000" stroke-opacity="0.3" stroke-width="0.7" fill="none"/>
<text x="106.6" y="114.35">0</text>
<text x="106.6" y="95.20">2</text>
<text x="106.6" y="76.05">4</text>
<text x="106.6" y="56.90">6</text>
<text x="106.6" y="37.75">8</text>
<text x="103.2" y="13.3">×10<tspan font-size="7" dy="-4.2">17</tspan></text>
<text class="t" transform="translate(11,14.3) scale(1.06,1)">3μs</text>
</g>
<g transform="translate(35.85,297.4)">
<g clip-path="url(#cp)"><use href="#f20"/></g><circle clip-path="url(#cp2)" cx="0" cy="-6.3" r="54.4" fill="#fff"/>
<path d="M0.3,48 V0.7 H54" fill="none" stroke="#8c949c" stroke-width="0.9"/>
<path d="M0,3.61h2.6M0,12.65h2.6M0,21.69h2.6M0,30.73h2.6M0,39.77h2.6" fill="none" stroke="#8c949c" stroke-width="0.8"/>
<text x="-1.0" y="16.25" text-anchor="end">8.2</text>
<text x="-1.0" y="25.29" text-anchor="end">8.15</text>
<text x="-1.0" y="34.33" text-anchor="end">8.1</text>
<text x="-1.0" y="43.37" text-anchor="end">8.05</text>
<text x="-1.0" y="52.41" text-anchor="end">8</text>
<text x="-1.0" y="61.45" text-anchor="end">7.95</text>
<text x="-1.0" y="70.49" text-anchor="end">7.9</text>
<text x="-1.0" y="79.53" text-anchor="end">7.85</text>
<text x="-1.0" y="88.57" text-anchor="end">7.8</text>
<text x="-1.0" y="97.61" text-anchor="end">7.75</text>
<text x="-1.0" y="106.65" text-anchor="end">7.7</text>
<text x="-1.0" y="115.69" text-anchor="end">7.65</text>
<text x="-34.2" y="4.65" textLength="17.6" lengthAdjust="spacingAndGlyphs">mm</text>
<text x="0.3" y="126.8" text-anchor="middle">0</text>
<text x="73.9" y="126.5" textLength="17.6" lengthAdjust="spacingAndGlyphs">mm</text>
<rect x="98.5" y="19.6" width="6.2" height="90.9" fill="url(#cb)"/>
<path d="M98.8,19.6v90.9M104.4,19.6v90.9" stroke="#000" stroke-opacity="0.28" stroke-width="0.7" fill="none"/>
<path d="M104.7,110.40h-2.2M104.7,94.85h-2.2M104.7,79.30h-2.2M104.7,63.75h-2.2M104.7,48.20h-2.2M104.7,32.65h-2.2" stroke="#000" stroke-opacity="0.3" stroke-width="0.7" fill="none"/>
<text x="106.6" y="114.05">0</text>
<text x="106.6" y="98.50">1</text>
<text x="106.6" y="82.95">2</text>
<text x="106.6" y="67.40">3</text>
<text x="106.6" y="51.85">4</text>
<text x="106.6" y="36.30">5</text>
<text x="103.2" y="13.3">×10<tspan font-size="7" dy="-4.2">19</tspan></text>
<text class="t" transform="translate(3.1,14.3) scale(1.06,1)">0.1ns</text>
</g>
<g transform="translate(210.65,297.4)">
<g clip-path="url(#cp)"><use href="#f21"/></g><circle clip-path="url(#cp2)" cx="0" cy="-6.3" r="54.4" fill="#fff"/>
<path d="M0.3,48 V0.7 H54" fill="none" stroke="#8c949c" stroke-width="0.9"/>
<path d="M0,3.61h2.6M0,12.65h2.6M0,21.69h2.6M0,30.73h2.6M0,39.77h2.6" fill="none" stroke="#8c949c" stroke-width="0.8"/>
<text x="-1.0" y="16.25" text-anchor="end">8.2</text>
<text x="-1.0" y="25.29" text-anchor="end">8.15</text>
<text x="-1.0" y="34.33" text-anchor="end">8.1</text>
<text x="-1.0" y="43.37" text-anchor="end">8.05</text>
<text x="-1.0" y="52.41" text-anchor="end">8</text>
<text x="-1.0" y="61.45" text-anchor="end">7.95</text>
<text x="-1.0" y="70.49" text-anchor="end">7.9</text>
<text x="-1.0" y="79.53" text-anchor="end">7.85</text>
<text x="-1.0" y="88.57" text-anchor="end">7.8</text>
<text x="-1.0" y="97.61" text-anchor="end">7.75</text>
<text x="-1.0" y="106.65" text-anchor="end">7.7</text>
<text x="-1.0" y="115.69" text-anchor="end">7.65</text>
<text x="-34.2" y="4.65" textLength="17.6" lengthAdjust="spacingAndGlyphs">mm</text>
<text x="0.3" y="126.8" text-anchor="middle">0</text>
<text x="73.9" y="126.5" textLength="17.6" lengthAdjust="spacingAndGlyphs">mm</text>
<rect x="98.5" y="19.6" width="6.2" height="90.9" fill="url(#cb)"/>
<path d="M98.8,19.6v90.9M104.4,19.6v90.9" stroke="#000" stroke-opacity="0.28" stroke-width="0.7" fill="none"/>
<path d="M104.7,110.20h-2.2M104.7,88.70h-2.2M104.7,67.20h-2.2M104.7,45.70h-2.2M104.7,24.20h-2.2" stroke="#000" stroke-opacity="0.3" stroke-width="0.7" fill="none"/>
<text x="106.6" y="113.85">0</text>
<text x="106.6" y="92.35">0.5</text>
<text x="106.6" y="70.85">1</text>
<text x="106.6" y="49.35">1.5</text>
<text x="106.6" y="27.85">2</text>
<text x="103.2" y="13.3">×10<tspan font-size="7" dy="-4.2">19</tspan></text>
<text class="t" transform="translate(4.4,14.3) scale(1.06,1)">0.1μs</text>
</g>
<g transform="translate(385.25,297.4)">
<g clip-path="url(#cp)"><use href="#f22"/></g><circle clip-path="url(#cp2)" cx="0" cy="-6.3" r="54.4" fill="#fff"/>
<path d="M0.3,48 V0.7 H54" fill="none" stroke="#8c949c" stroke-width="0.9"/>
<path d="M0,3.61h2.6M0,12.65h2.6M0,21.69h2.6M0,30.73h2.6M0,39.77h2.6" fill="none" stroke="#8c949c" stroke-width="0.8"/>
<text x="-1.0" y="16.25" text-anchor="end">8.2</text>
<text x="-1.0" y="25.29" text-anchor="end">8.15</text>
<text x="-1.0" y="34.33" text-anchor="end">8.1</text>
<text x="-1.0" y="43.37" text-anchor="end">8.05</text>
<text x="-1.0" y="52.41" text-anchor="end">8</text>
<text x="-1.0" y="61.45" text-anchor="end">7.95</text>
<text x="-1.0" y="70.49" text-anchor="end">7.9</text>
<text x="-1.0" y="79.53" text-anchor="end">7.85</text>
<text x="-1.0" y="88.57" text-anchor="end">7.8</text>
<text x="-1.0" y="97.61" text-anchor="end">7.75</text>
<text x="-1.0" y="106.65" text-anchor="end">7.7</text>
<text x="-1.0" y="115.69" text-anchor="end">7.65</text>
<text x="-34.2" y="4.65" textLength="17.6" lengthAdjust="spacingAndGlyphs">mm</text>
<text x="0.3" y="126.8" text-anchor="middle">0</text>
<text x="73.9" y="126.5" textLength="17.6" lengthAdjust="spacingAndGlyphs">mm</text>
<rect x="98.5" y="19.6" width="6.2" height="90.9" fill="url(#cb)"/>
<path d="M98.8,19.6v90.9M104.4,19.6v90.9" stroke="#000" stroke-opacity="0.28" stroke-width="0.7" fill="none"/>
<path d="M104.7,110.40h-2.2M104.7,93.25h-2.2M104.7,76.10h-2.2M104.7,58.95h-2.2M104.7,41.80h-2.2M104.7,24.65h-2.2" stroke="#000" stroke-opacity="0.3" stroke-width="0.7" fill="none"/>
<text x="106.6" y="114.05">0</text>
<text x="106.6" y="96.90">0.5</text>
<text x="106.6" y="79.75">1</text>
<text x="106.6" y="62.60">1.5</text>
<text x="106.6" y="45.45">2</text>
<text x="106.6" y="28.30">2.5</text>
<text x="103.2" y="13.3">×10<tspan font-size="7" dy="-4.2">12</tspan></text>
<text class="t" transform="translate(3.8,14.3) scale(1.06,1)">0.25μs</text>
</g>
<g transform="translate(35.85,433.5)">
<g clip-path="url(#cp)"><use href="#f30"/></g><circle clip-path="url(#cp2)" cx="0" cy="-6.3" r="54.4" fill="#fff"/>
<path d="M0.3,48 V0.7 H54" fill="none" stroke="#8c949c" stroke-width="0.9"/>
<path d="M0,3.61h2.6M0,12.65h2.6M0,21.69h2.6M0,30.73h2.6M0,39.77h2.6" fill="none" stroke="#8c949c" stroke-width="0.8"/>
<text x="-1.0" y="16.25" text-anchor="end">8.2</text>
<text x="-1.0" y="25.29" text-anchor="end">8.15</text>
<text x="-1.0" y="34.33" text-anchor="end">8.1</text>
<text x="-1.0" y="43.37" text-anchor="end">8.05</text>
<text x="-1.0" y="52.41" text-anchor="end">8</text>
<text x="-1.0" y="61.45" text-anchor="end">7.95</text>
<text x="-1.0" y="70.49" text-anchor="end">7.9</text>
<text x="-1.0" y="79.53" text-anchor="end">7.85</text>
<text x="-1.0" y="88.57" text-anchor="end">7.8</text>
<text x="-1.0" y="97.61" text-anchor="end">7.75</text>
<text x="-1.0" y="106.65" text-anchor="end">7.7</text>
<text x="-1.0" y="115.69" text-anchor="end">7.65</text>
<text x="-34.2" y="4.65" textLength="17.6" lengthAdjust="spacingAndGlyphs">mm</text>
<text x="0.3" y="126.8" text-anchor="middle">0</text>
<text x="73.9" y="126.5" textLength="17.6" lengthAdjust="spacingAndGlyphs">mm</text>
<rect x="98.5" y="19.6" width="6.2" height="90.9" fill="url(#cb)"/>
<path d="M98.8,19.6v90.9M104.4,19.6v90.9" stroke="#000" stroke-opacity="0.28" stroke-width="0.7" fill="none"/>
<path d="M104.7,110.10h-2.2M104.7,98.15h-2.2M104.7,86.20h-2.2M104.7,74.25h-2.2M104.7,62.30h-2.2M104.7,50.35h-2.2M104.7,38.40h-2.2M104.7,26.45h-2.2" stroke="#000" stroke-opacity="0.3" stroke-width="0.7" fill="none"/>
<text x="106.6" y="113.75">0</text>
<text x="106.6" y="101.80">1</text>
<text x="106.6" y="89.85">2</text>
<text x="106.6" y="77.90">3</text>
<text x="106.6" y="65.95">4</text>
<text x="106.6" y="54.00">5</text>
<text x="106.6" y="42.05">6</text>
<text x="106.6" y="30.10">7</text>
<text x="103.2" y="13.3">×10<tspan font-size="7" dy="-4.2">18</tspan></text>
<text class="t" transform="translate(3.1,14.3) scale(1.06,1)">0.5μs</text>
</g>
<g transform="translate(210.65,433.5)">
<g clip-path="url(#cp)"><use href="#f31"/></g><circle clip-path="url(#cp2)" cx="0" cy="-6.3" r="54.4" fill="#fff"/>
<path d="M0.3,48 V0.7 H54" fill="none" stroke="#8c949c" stroke-width="0.9"/>
<path d="M0,3.61h2.6M0,12.65h2.6M0,21.69h2.6M0,30.73h2.6M0,39.77h2.6" fill="none" stroke="#8c949c" stroke-width="0.8"/>
<text x="-1.0" y="16.25" text-anchor="end">8.2</text>
<text x="-1.0" y="25.29" text-anchor="end">8.15</text>
<text x="-1.0" y="34.33" text-anchor="end">8.1</text>
<text x="-1.0" y="43.37" text-anchor="end">8.05</text>
<text x="-1.0" y="52.41" text-anchor="end">8</text>
<text x="-1.0" y="61.45" text-anchor="end">7.95</text>
<text x="-1.0" y="70.49" text-anchor="end">7.9</text>
<text x="-1.0" y="79.53" text-anchor="end">7.85</text>
<text x="-1.0" y="88.57" text-anchor="end">7.8</text>
<text x="-1.0" y="97.61" text-anchor="end">7.75</text>
<text x="-1.0" y="106.65" text-anchor="end">7.7</text>
<text x="-1.0" y="115.69" text-anchor="end">7.65</text>
<text x="-34.2" y="4.65" textLength="17.6" lengthAdjust="spacingAndGlyphs">mm</text>
<text x="0.3" y="126.8" text-anchor="middle">0</text>
<text x="73.9" y="126.5" textLength="17.6" lengthAdjust="spacingAndGlyphs">mm</text>
<rect x="98.5" y="19.6" width="6.2" height="90.9" fill="url(#cb)"/>
<path d="M98.8,19.6v90.9M104.4,19.6v90.9" stroke="#000" stroke-opacity="0.28" stroke-width="0.7" fill="none"/>
<path d="M104.7,110.10h-2.2M104.7,92.80h-2.2M104.7,75.50h-2.2M104.7,58.20h-2.2M104.7,40.90h-2.2M104.7,23.60h-2.2" stroke="#000" stroke-opacity="0.3" stroke-width="0.7" fill="none"/>
<text x="106.6" y="113.75">0</text>
<text x="106.6" y="96.45">0.2</text>
<text x="106.6" y="79.15">0.4</text>
<text x="106.6" y="61.85">0.6</text>
<text x="106.6" y="44.55">0.8</text>
<text x="106.6" y="27.25">1</text>
<text x="103.2" y="13.3">×10<tspan font-size="7" dy="-4.2">18</tspan></text>
<text class="t" transform="translate(10,14.3) scale(1.06,1)">1μs</text>
</g>
<g transform="translate(385.25,433.5)">
<g clip-path="url(#cp)"><use href="#f32"/></g><circle clip-path="url(#cp2)" cx="0" cy="-6.3" r="54.4" fill="#fff"/>
<path d="M0.3,48 V0.7 H54" fill="none" stroke="#8c949c" stroke-width="0.9"/>
<path d="M0,3.61h2.6M0,12.65h2.6M0,21.69h2.6M0,30.73h2.6M0,39.77h2.6" fill="none" stroke="#8c949c" stroke-width="0.8"/>
<text x="-1.0" y="16.25" text-anchor="end">8.2</text>
<text x="-1.0" y="25.29" text-anchor="end">8.15</text>
<text x="-1.0" y="34.33" text-anchor="end">8.1</text>
<text x="-1.0" y="43.37" text-anchor="end">8.05</text>
<text x="-1.0" y="52.41" text-anchor="end">8</text>
<text x="-1.0" y="61.45" text-anchor="end">7.95</text>
<text x="-1.0" y="70.49" text-anchor="end">7.9</text>
<text x="-1.0" y="79.53" text-anchor="end">7.85</text>
<text x="-1.0" y="88.57" text-anchor="end">7.8</text>
<text x="-1.0" y="97.61" text-anchor="end">7.75</text>
<text x="-1.0" y="106.65" text-anchor="end">7.7</text>
<text x="-1.0" y="115.69" text-anchor="end">7.65</text>
<text x="-34.2" y="4.65" textLength="17.6" lengthAdjust="spacingAndGlyphs">mm</text>
<text x="0.3" y="126.8" text-anchor="middle">0</text>
<text x="73.9" y="126.5" textLength="17.6" lengthAdjust="spacingAndGlyphs">mm</text>
<rect x="98.5" y="19.6" width="6.2" height="90.9" fill="url(#cb)"/>
<path d="M98.8,19.6v90.9M104.4,19.6v90.9" stroke="#000" stroke-opacity="0.28" stroke-width="0.7" fill="none"/>
<path d="M104.7,110.10h-2.2M104.7,90.00h-2.2M104.7,69.90h-2.2M104.7,49.80h-2.2M104.7,29.70h-2.2" stroke="#000" stroke-opacity="0.3" stroke-width="0.7" fill="none"/>
<text x="106.6" y="113.75">0</text>
<text x="106.6" y="93.65">2</text>
<text x="106.6" y="73.55">4</text>
<text x="106.6" y="53.45">6</text>
<text x="106.6" y="33.35">8</text>
<text x="103.2" y="13.3">×10<tspan font-size="7" dy="-4.2">17</tspan></text>
<text class="t" transform="translate(11,14.3) scale(1.06,1)">3μs</text>
</g>
<g transform="translate(36.85,590)">
<g clip-path="url(#cp)"><use href="#f20"/></g><circle clip-path="url(#cp2)" cx="0" cy="-6.3" r="54.4" fill="#fff"/>
<path d="M0.3,48 V0.7 H54" fill="none" stroke="#8c949c" stroke-width="0.9"/>
<path d="M0,3.61h2.6M0,12.65h2.6M0,21.69h2.6M0,30.73h2.6M0,39.77h2.6" fill="none" stroke="#8c949c" stroke-width="0.8"/>
<text x="-1.0" y="16.25" text-anchor="end">8.2</text>
<text x="-1.0" y="25.29" text-anchor="end">8.15</text>
<text x="-1.0" y="34.33" text-anchor="end">8.1</text>
<text x="-1.0" y="43.37" text-anchor="end">8.05</text>
<text x="-1.0" y="52.41" text-anchor="end">8</text>
<text x="-1.0" y="61.45" text-anchor="end">7.95</text>
<text x="-1.0" y="70.49" text-anchor="end">7.9</text>
<text x="-1.0" y="79.53" text-anchor="end">7.85</text>
<text x="-1.0" y="88.57" text-anchor="end">7.8</text>
<text x="-1.0" y="97.61" text-anchor="end">7.75</text>
<text x="-1.0" y="106.65" text-anchor="end">7.7</text>
<text x="-1.0" y="115.69" text-anchor="end">7.65</text>
<text x="-34.2" y="4.65" textLength="17.6" lengthAdjust="spacingAndGlyphs">mm</text>
<text x="0.3" y="126.8" text-anchor="middle">0</text>
<text x="73.9" y="126.5" textLength="17.6" lengthAdjust="spacingAndGlyphs">mm</text>
<rect x="98.5" y="19.6" width="6.2" height="90.9" fill="url(#cb)"/>
<path d="M98.8,19.6v90.9M104.4,19.6v90.9" stroke="#000" stroke-opacity="0.28" stroke-width="0.7" fill="none"/>
<path d="M104.7,110.40h-2.2M104.7,94.85h-2.2M104.7,79.30h-2.2M104.7,63.75h-2.2M104.7,48.20h-2.2M104.7,32.65h-2.2" stroke="#000" stroke-opacity="0.3" stroke-width="0.7" fill="none"/>
<text x="106.6" y="114.05">0</text>
<text x="106.6" y="98.50">1</text>
<text x="106.6" y="82.95">2</text>
<text x="106.6" y="67.40">3</text>
<text x="106.6" y="51.85">4</text>
<text x="106.6" y="36.30">5</text>
<text x="103.2" y="13.3">×10<tspan font-size="7" dy="-4.2">19</tspan></text>
<text class="t" transform="translate(3.1,14.3) scale(1.06,1)">0.1ns</text>
</g>
<g transform="translate(211.65,590)">
<g clip-path="url(#cp)"><use href="#f21"/></g><circle clip-path="url(#cp2)" cx="0" cy="-6.3" r="54.4" fill="#fff"/>
<path d="M0.3,48 V0.7 H54" fill="none" stroke="#8c949c" stroke-width="0.9"/>
<path d="M0,3.61h2.6M0,12.65h2.6M0,21.69h2.6M0,30.73h2.6M0,39.77h2.6" fill="none" stroke="#8c949c" stroke-width="0.8"/>
<text x="-1.0" y="16.25" text-anchor="end">8.2</text>
<text x="-1.0" y="25.29" text-anchor="end">8.15</text>
<text x="-1.0" y="34.33" text-anchor="end">8.1</text>
<text x="-1.0" y="43.37" text-anchor="end">8.05</text>
<text x="-1.0" y="52.41" text-anchor="end">8</text>
<text x="-1.0" y="61.45" text-anchor="end">7.95</text>
<text x="-1.0" y="70.49" text-anchor="end">7.9</text>
<text x="-1.0" y="79.53" text-anchor="end">7.85</text>
<text x="-1.0" y="88.57" text-anchor="end">7.8</text>
<text x="-1.0" y="97.61" text-anchor="end">7.75</text>
<text x="-1.0" y="106.65" text-anchor="end">7.7</text>
<text x="-1.0" y="115.69" text-anchor="end">7.65</text>
<text x="-34.2" y="4.65" textLength="17.6" lengthAdjust="spacingAndGlyphs">mm</text>
<text x="0.3" y="126.8" text-anchor="middle">0</text>
<text x="73.9" y="126.5" textLength="17.6" lengthAdjust="spacingAndGlyphs">mm</text>
<rect x="98.5" y="19.6" width="6.2" height="90.9" fill="url(#cb)"/>
<path d="M98.8,19.6v90.9M104.4,19.6v90.9" stroke="#000" stroke-opacity="0.28" stroke-width="0.7" fill="none"/>
<path d="M104.7,110.20h-2.2M104.7,88.70h-2.2M104.7,67.20h-2.2M104.7,45.70h-2.2M104.7,24.20h-2.2" stroke="#000" stroke-opacity="0.3" stroke-width="0.7" fill="none"/>
<text x="106.6" y="113.85">0</text>
<text x="106.6" y="92.35">0.5</text>
<text x="106.6" y="70.85">1</text>
<text x="106.6" y="49.35">1.5</text>
<text x="106.6" y="27.85">2</text>
<text x="103.2" y="13.3">×10<tspan font-size="7" dy="-4.2">19</tspan></text>
<text class="t" transform="translate(4.4,14.3) scale(1.06,1)">0.1μs</text>
</g>
<g transform="translate(386.25,590)">
<g clip-path="url(#cp)"><use href="#f22"/></g><circle clip-path="url(#cp2)" cx="0" cy="-6.3" r="54.4" fill="#fff"/>
<path d="M0.3,48 V0.7 H54" fill="none" stroke="#8c949c" stroke-width="0.9"/>
<path d="M0,3.61h2.6M0,12.65h2.6M0,21.69h2.6M0,30.73h2.6M0,39.77h2.6" fill="none" stroke="#8c949c" stroke-width="0.8"/>
<text x="-1.0" y="16.25" text-anchor="end">8.2</text>
<text x="-1.0" y="25.29" text-anchor="end">8.15</text>
<text x="-1.0" y="34.33" text-anchor="end">8.1</text>
<text x="-1.0" y="43.37" text-anchor="end">8.05</text>
<text x="-1.0" y="52.41" text-anchor="end">8</text>
<text x="-1.0" y="61.45" text-anchor="end">7.95</text>
<text x="-1.0" y="70.49" text-anchor="end">7.9</text>
<text x="-1.0" y="79.53" text-anchor="end">7.85</text>
<text x="-1.0" y="88.57" text-anchor="end">7.8</text>
<text x="-1.0" y="97.61" text-anchor="end">7.75</text>
<text x="-1.0" y="106.65" text-anchor="end">7.7</text>
<text x="-1.0" y="115.69" text-anchor="end">7.65</text>
<text x="-34.2" y="4.65" textLength="17.6" lengthAdjust="spacingAndGlyphs">mm</text>
<text x="0.3" y="126.8" text-anchor="middle">0</text>
<text x="73.9" y="126.5" textLength="17.6" lengthAdjust="spacingAndGlyphs">mm</text>
<rect x="98.5" y="19.6" width="6.2" height="90.9" fill="url(#cb)"/>
<path d="M98.8,19.6v90.9M104.4,19.6v90.9" stroke="#000" stroke-opacity="0.28" stroke-width="0.7" fill="none"/>
<path d="M104.7,110.40h-2.2M104.7,93.25h-2.2M104.7,76.10h-2.2M104.7,58.95h-2.2M104.7,41.80h-2.2M104.7,24.65h-2.2" stroke="#000" stroke-opacity="0.3" stroke-width="0.7" fill="none"/>
<text x="106.6" y="114.05">0</text>
<text x="106.6" y="96.90">0.5</text>
<text x="106.6" y="79.75">1</text>
<text x="106.6" y="62.60">1.5</text>
<text x="106.6" y="45.45">2</text>
<text x="106.6" y="28.30">2.5</text>
<text x="103.2" y="13.3">×10<tspan font-size="7" dy="-4.2">12</tspan></text>
<text class="t" transform="translate(3.8,14.3) scale(1.06,1)">0.25μs</text>
</g>
<g transform="translate(36.85,726)">
<g clip-path="url(#cp)"><use href="#f30"/></g><circle clip-path="url(#cp2)" cx="0" cy="-6.3" r="54.4" fill="#fff"/>
<path d="M0.3,48 V0.7 H54" fill="none" stroke="#8c949c" stroke-width="0.9"/>
<path d="M0,3.61h2.6M0,12.65h2.6M0,21.69h2.6M0,30.73h2.6M0,39.77h2.6" fill="none" stroke="#8c949c" stroke-width="0.8"/>
<text x="-1.0" y="16.25" text-anchor="end">8.2</text>
<text x="-1.0" y="25.29" text-anchor="end">8.15</text>
<text x="-1.0" y="34.33" text-anchor="end">8.1</text>
<text x="-1.0" y="43.37" text-anchor="end">8.05</text>
<text x="-1.0" y="52.41" text-anchor="end">8</text>
<text x="-1.0" y="61.45" text-anchor="end">7.95</text>
<text x="-1.0" y="70.49" text-anchor="end">7.9</text>
<text x="-1.0" y="79.53" text-anchor="end">7.85</text>
<text x="-1.0" y="88.57" text-anchor="end">7.8</text>
<text x="-1.0" y="97.61" text-anchor="end">7.75</text>
<text x="-1.0" y="106.65" text-anchor="end">7.7</text>
<text x="-1.0" y="115.69" text-anchor="end">7.65</text>
<text x="-34.2" y="4.65" textLength="17.6" lengthAdjust="spacingAndGlyphs">mm</text>
<text x="0.3" y="126.8" text-anchor="middle">0</text>
<text x="73.9" y="126.5" textLength="17.6" lengthAdjust="spacingAndGlyphs">mm</text>
<rect x="98.5" y="19.6" width="6.2" height="90.9" fill="url(#cb)"/>
<path d="M98.8,19.6v90.9M104.4,19.6v90.9" stroke="#000" stroke-opacity="0.28" stroke-width="0.7" fill="none"/>
<path d="M104.7,110.10h-2.2M104.7,98.15h-2.2M104.7,86.20h-2.2M104.7,74.25h-2.2M104.7,62.30h-2.2M104.7,50.35h-2.2M104.7,38.40h-2.2M104.7,26.45h-2.2" stroke="#000" stroke-opacity="0.3" stroke-width="0.7" fill="none"/>
<text x="106.6" y="113.75">0</text>
<text x="106.6" y="101.80">1</text>
<text x="106.6" y="89.85">2</text>
<text x="106.6" y="77.90">3</text>
<text x="106.6" y="65.95">4</text>
<text x="106.6" y="54.00">5</text>
<text x="106.6" y="42.05">6</text>
<text x="106.6" y="30.10">7</text>
<text x="103.2" y="13.3">×10<tspan font-size="7" dy="-4.2">18</tspan></text>
<text class="t" transform="translate(3.1,14.3) scale(1.06,1)">0.5μs</text>
</g>
<g transform="translate(211.65,726)">
<g clip-path="url(#cp)"><use href="#f31"/></g><circle clip-path="url(#cp2)" cx="0" cy="-6.3" r="54.4" fill="#fff"/>
<path d="M0.3,48 V0.7 H54" fill="none" stroke="#8c949c" stroke-width="0.9"/>
<path d="M0,3.61h2.6M0,12.65h2.6M0,21.69h2.6M0,30.73h2.6M0,39.77h2.6" fill="none" stroke="#8c949c" stroke-width="0.8"/>
<text x="-1.0" y="16.25" text-anchor="end">8.2</text>
<text x="-1.0" y="25.29" text-anchor="end">8.15</text>
<text x="-1.0" y="34.33" text-anchor="end">8.1</text>
<text x="-1.0" y="43.37" text-anchor="end">8.05</text>
<text x="-1.0" y="52.41" text-anchor="end">8</text>
<text x="-1.0" y="61.45" text-anchor="end">7.95</text>
<text x="-1.0" y="70.49" text-anchor="end">7.9</text>
<text x="-1.0" y="79.53" text-anchor="end">7.85</text>
<text x="-1.0" y="88.57" text-anchor="end">7.8</text>
<text x="-1.0" y="97.61" text-anchor="end">7.75</text>
<text x="-1.0" y="106.65" text-anchor="end">7.7</text>
<text x="-1.0" y="115.69" text-anchor="end">7.65</text>
<text x="-34.2" y="4.65" textLength="17.6" lengthAdjust="spacingAndGlyphs">mm</text>
<text x="0.3" y="126.8" text-anchor="middle">0</text>
<text x="73.9" y="126.5" textLength="17.6" lengthAdjust="spacingAndGlyphs">mm</text>
<rect x="98.5" y="19.6" width="6.2" height="90.9" fill="url(#cb)"/>
<path d="M98.8,19.6v90.9M104.4,19.6v90.9" stroke="#000" stroke-opacity="0.28" stroke-width="0.7" fill="none"/>
<path d="M104.7,110.10h-2.2M104.7,92.80h-2.2M104.7,75.50h-2.2M104.7,58.20h-2.2M104.7,40.90h-2.2M104.7,23.60h-2.2" stroke="#000" stroke-opacity="0.3" stroke-width="0.7" fill="none"/>
<text x="106.6" y="113.75">0</text>
<text x="106.6" y="96.45">0.2</text>
<text x="106.6" y="79.15">0.4</text>
<text x="106.6" y="61.85">0.6</text>
<text x="106.6" y="44.55">0.8</text>
<text x="106.6" y="27.25">1</text>
<text x="103.2" y="13.3">×10<tspan font-size="7" dy="-4.2">18</tspan></text>
<text class="t" transform="translate(10,14.3) scale(1.06,1)">1μs</text>
</g>
<g transform="translate(386.25,726)">
<g clip-path="url(#cp)"><use href="#f32"/></g><circle clip-path="url(#cp2)" cx="0" cy="-6.3" r="54.4" fill="#fff"/>
<path d="M0.3,48 V0.7 H54" fill="none" stroke="#8c949c" stroke-width="0.9"/>
<path d="M0,3.61h2.6M0,12.65h2.6M0,21.69h2.6M0,30.73h2.6M0,39.77h2.6" fill="none" stroke="#8c949c" stroke-width="0.8"/>
<text x="-1.0" y="16.25" text-anchor="end">8.2</text>
<text x="-1.0" y="25.29" text-anchor="end">8.15</text>
<text x="-1.0" y="34.33" text-anchor="end">8.1</text>
<text x="-1.0" y="43.37" text-anchor="end">8.05</text>
<text x="-1.0" y="52.41" text-anchor="end">8</text>
<text x="-1.0" y="61.45" text-anchor="end">7.95</text>
<text x="-1.0" y="70.49" text-anchor="end">7.9</text>
<text x="-1.0" y="79.53" text-anchor="end">7.85</text>
<text x="-1.0" y="88.57" text-anchor="end">7.8</text>
<text x="-1.0" y="97.61" text-anchor="end">7.75</text>
<text x="-1.0" y="106.65" text-anchor="end">7.7</text>
<text x="-1.0" y="115.69" text-anchor="end">7.65</text>
<text x="-34.2" y="4.65" textLength="17.6" lengthAdjust="spacingAndGlyphs">mm</text>
<text x="0.3" y="126.8" text-anchor="middle">0</text>
<text x="73.9" y="126.5" textLength="17.6" lengthAdjust="spacingAndGlyphs">mm</text>
<rect x="98.5" y="19.6" width="6.2" height="90.9" fill="url(#cb)"/>
<path d="M98.8,19.6v90.9M104.4,19.6v90.9" stroke="#000" stroke-opacity="0.28" stroke-width="0.7" fill="none"/>
<path d="M104.7,110.10h-2.2M104.7,90.00h-2.2M104.7,69.90h-2.2M104.7,49.80h-2.2M104.7,29.70h-2.2" stroke="#000" stroke-opacity="0.3" stroke-width="0.7" fill="none"/>
<text x="106.6" y="113.75">0</text>
<text x="106.6" y="93.65">2</text>
<text x="106.6" y="73.55">4</text>
<text x="106.6" y="53.45">6</text>
<text x="106.6" y="33.35">8</text>
<text x="103.2" y="13.3">×10<tspan font-size="7" dy="-4.2">17</tspan></text>
<text class="t" transform="translate(11,14.3) scale(1.06,1)">3μs</text>
</g>
<text class="c" x="260" y="280.3" text-anchor="middle">(a)</text>
<text class="c" x="260" y="571.6" text-anchor="middle">(b)</text>
<text class="c" x="260" y="864.5" text-anchor="middle">(c)</text>
</svg></body></html>
